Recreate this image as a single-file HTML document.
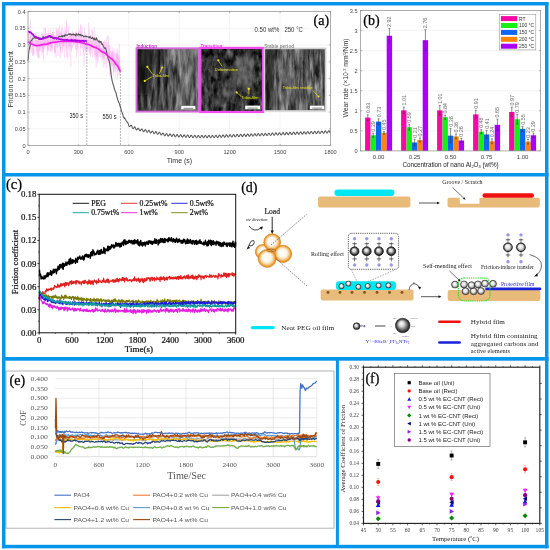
<!DOCTYPE html>
<html><head><meta charset="utf-8"><title>Figure</title>
<style>html,body{margin:0;padding:0;background:#fff;width:550px;height:550px;overflow:hidden}svg{display:block}</style>
</head><body>
<svg width="550" height="550" viewBox="0 0 550 550">
<rect x="0" y="0" width="550" height="550" fill="#fff"/>
<line x1="78.42" y1="11.5" x2="78.42" y2="145.6" stroke="#efefef" stroke-width="0.6" />
<line x1="128.83" y1="11.5" x2="128.83" y2="145.6" stroke="#efefef" stroke-width="0.6" />
<line x1="179.25" y1="11.5" x2="179.25" y2="145.6" stroke="#efefef" stroke-width="0.6" />
<line x1="229.67" y1="11.5" x2="229.67" y2="145.6" stroke="#efefef" stroke-width="0.6" />
<line x1="280.08" y1="11.5" x2="280.08" y2="145.6" stroke="#efefef" stroke-width="0.6" />
<line x1="28" y1="128.84" x2="330.5" y2="128.84" stroke="#efefef" stroke-width="0.6" />
<line x1="28" y1="112.07" x2="330.5" y2="112.07" stroke="#efefef" stroke-width="0.6" />
<line x1="28" y1="95.31" x2="330.5" y2="95.31" stroke="#efefef" stroke-width="0.6" />
<line x1="28" y1="78.55" x2="330.5" y2="78.55" stroke="#efefef" stroke-width="0.6" />
<line x1="28" y1="61.79" x2="330.5" y2="61.79" stroke="#efefef" stroke-width="0.6" />
<line x1="28" y1="45.02" x2="330.5" y2="45.02" stroke="#efefef" stroke-width="0.6" />
<line x1="28" y1="28.26" x2="330.5" y2="28.26" stroke="#efefef" stroke-width="0.6" />
<polyline points="28,35.51 28.1,27.61 28.2,41.72 28.3,38.99 28.4,44.28 28.5,38.9 28.61,39.27 28.71,43.3 28.81,33.69 28.91,43.26 29.01,30.13 29.11,37.75 29.21,37.48 29.31,37.88 29.41,48.35 29.51,45.34 29.61,39.6 29.71,40.77 29.81,46.07 29.92,39.54 30.02,44.92 30.12,32.25 30.22,48.18 30.32,45.19 30.42,45.91 30.52,19.88 30.62,42.14 30.72,45.62 30.82,51.47 30.92,50.92 31.02,45.96 31.13,34.49 31.23,53.13 31.33,39.7 31.43,43.73 31.53,44.44 31.63,32.15 31.73,43.21 31.83,43.37 31.93,43.86 32.03,41.35 32.13,41.52 32.23,42.8 32.34,37.24 32.44,55.93 32.54,40.72 32.64,39.99 32.74,46.53 32.84,32.38 32.94,52.66 33.04,42.7 33.14,39.08 33.24,43.29 33.34,42.77 33.45,56.22 33.55,49.08 33.65,49.74 33.75,54.41 33.85,41.33 33.95,54.95 34.05,45.73 34.15,42.05 34.25,36.92 34.35,42.11 34.45,43.64 34.55,43.76 34.66,45.45 34.76,42.9 34.86,41.33 34.96,40.46 35.06,36.05 35.16,36.3 35.26,46.47 35.36,43.63 35.46,45.12 35.56,33.5 35.66,31.54 35.76,46.33 35.87,37.36 35.97,43.09 36.07,45.76 36.17,48.49 36.27,43.36 36.37,51.31 36.47,42.59 36.57,34.08 36.67,40.7 36.77,54.2 36.87,49.62 36.97,45.42 37.08,45.83 37.18,39.94 37.28,56.94 37.38,39.89 37.48,46.9 37.58,41.21 37.68,41.96 37.78,36.55 37.88,52.41 37.98,43.11 38.08,56.81 38.18,54.72 38.29,47.66 38.39,43.62 38.49,39.32 38.59,58.52 38.69,35.41 38.79,47.04 38.89,36.83 38.99,33.95 39.09,36.6 39.19,58.13 39.29,46.83 39.39,45.65 39.5,48.02 39.6,49.52 39.7,36.49 39.8,51.54 39.9,44.96 40,39.73 40.1,46.43 40.2,42.29 40.3,51.03 40.4,41.77 40.5,37.86 40.6,47.01 40.7,37.57 40.81,42.92 40.91,41.6 41.01,46.94 41.11,48.33 41.21,45.32 41.31,42.96 41.41,46.16 41.51,45.15 41.61,33.82 41.71,42.67 41.81,56 41.91,50.25 42.02,43.64 42.12,49.74 42.22,44.71 42.32,33.63 42.42,52.86 42.52,33.09 42.62,47.1 42.72,45.34 42.82,42.47 42.92,52.43 43.02,51.95 43.12,44.98 43.23,51.38 43.33,39.25 43.43,43.98 43.53,60.37 43.63,41.76 43.73,49.36 43.83,40.25 43.93,46.91 44.03,27.34 44.13,44.09 44.23,42.67 44.33,45.13 44.44,43.21 44.54,40.4 44.64,43.5 44.74,41.46 44.84,47.46 44.94,34.05 45.04,48.55 45.14,36.49 45.24,46.56 45.34,27.48 45.44,39.85 45.54,28.68 45.65,45.94 45.75,40.38 45.85,44.51 45.95,46.67 46.05,36.68 46.15,37.99 46.25,37.71 46.35,40.91 46.45,41.17 46.55,45.96 46.65,33.62 46.75,40.35 46.86,33.64 46.96,33.38 47.06,41.68 47.16,55.69 47.26,38.53 47.36,48.56 47.46,39.71 47.56,51.13 47.66,42.78 47.76,37.97 47.86,50.11 47.96,43.42 48.07,40.73 48.17,42.74 48.27,46.61 48.37,30.32 48.47,51.85 48.57,41.91 48.67,37.37 48.77,46.28 48.87,40.56 48.97,46.1 49.07,43.23 49.17,42.12 49.28,41.72 49.38,45.71 49.48,41.93 49.58,42.25 49.68,39.34 49.78,32.64 49.88,41.06 49.98,51.05 50.08,43.41 50.18,37.55 50.28,45.52 50.38,36.19 50.49,34.18 50.59,29.87 50.69,51.85 50.79,40.29 50.89,44.34 50.99,36.19 51.09,50.27 51.19,34.63 51.29,46.74 51.39,38.34 51.49,40.71 51.59,34.17 51.7,47.52 51.8,44.03 51.9,52.6 52,41.27 52.1,47.92 52.2,32.64 52.3,37.38 52.4,42.83 52.5,31.93 52.6,34.51 52.7,42.08 52.8,44.99 52.91,49.94 53.01,38.18 53.11,39.51 53.21,43.48 53.31,27.78 53.41,42.89 53.51,32.53 53.61,42.72 53.71,34.32 53.81,32.09 53.91,32.77 54.01,39.96 54.12,41.35 54.22,34.82 54.32,42.15 54.42,37.21 54.52,42.21 54.62,54.8 54.72,42.99 54.82,52.74 54.92,41.5 55.02,35.57 55.12,48.32 55.22,52.65 55.33,40.48 55.43,43.55 55.53,36.65 55.63,40.67 55.73,51.64 55.83,43.56 55.93,52.66 56.03,57.04 56.13,27.67 56.23,44.79 56.33,36.87 56.43,36.14 56.54,44.66 56.64,41.29 56.74,33.82 56.84,29.2 56.94,43.79 57.04,28.96 57.14,47.55 57.24,31.72 57.34,37.68 57.44,43.37 57.54,47.49 57.64,35.97 57.75,35.83 57.85,41.51 57.95,55.97 58.05,42.69 58.15,33.48 58.25,38.32 58.35,37.05 58.45,38.02 58.55,28.14 58.65,37.93 58.75,34.85 58.85,36.74 58.96,37.99 59.06,33.05 59.16,46.41 59.26,45.71 59.36,41.05 59.46,45.08 59.56,25.48 59.66,47.97 59.76,48.43 59.86,40.1 59.96,34.38 60.06,33.4 60.17,58.02 60.27,45.9 60.37,51.83 60.47,34.41 60.57,40.07 60.67,30.68 60.77,52.09 60.87,32.61 60.97,34.33 61.07,41.49 61.17,48.12 61.27,41.55 61.38,40.53 61.48,32.81 61.58,43.96 61.68,40.09 61.78,31.89 61.88,28.06 61.98,37.02 62.08,38.72 62.18,25.52 62.28,53.96 62.38,36.48 62.48,44.12 62.59,39.35 62.69,41.37 62.79,48.9 62.89,42.71 62.99,45.29 63.09,36.35 63.19,43.52 63.29,47.58 63.39,35.86 63.49,40.46 63.59,46.74 63.69,43.99 63.8,30.23 63.9,39.68 64,44.75 64.1,38.44 64.2,36.25 64.3,36.95 64.4,41.01 64.5,36.88 64.6,40.97 64.7,58.13 64.8,32.43 64.9,26.8 65.01,40.2 65.11,31.31 65.21,47.03 65.31,43.98 65.41,36.19 65.51,35.38 65.61,39.91 65.71,29.51 65.81,29.68 65.91,35.39 66.01,49.53 66.11,50.31 66.22,39.08 66.32,47.99 66.42,22.61 66.52,36.31 66.62,57.09 66.72,19.88 66.82,35.09 66.92,35.83 67.02,43.08 67.12,43.29 67.22,42.98 67.32,40.08 67.43,39.51 67.53,49.09 67.63,59.34 67.73,54.11 67.83,37.78 67.93,40.04 68.03,33.95 68.13,35.8 68.23,30.63 68.33,38.88 68.43,47.71 68.53,46.43 68.64,25.57 68.74,39.92 68.84,48.16 68.94,49.09 69.04,41.64 69.14,35.54 69.24,40.65 69.34,57.03 69.44,39.91 69.54,46.87 69.64,36.04 69.74,35.18 69.85,46.9 69.95,42 70.05,32.9 70.15,38.65 70.25,35.93 70.35,34.42 70.45,45 70.55,33.25 70.65,40.35 70.75,50.01 70.85,67.32 70.95,35.45 71.06,49.96 71.16,41.54 71.26,37.3 71.36,51.46 71.46,46.64 71.56,44.28 71.66,38.7 71.76,34.06 71.86,35.37 71.96,42.25 72.06,37.81 72.16,46.85 72.27,44.98 72.37,47.76 72.47,32.57 72.57,37.24 72.67,30.46 72.77,31.46 72.87,36.8 72.97,37.34 73.07,38.37 73.17,41.24 73.27,35.46 73.37,45.14 73.48,42.43 73.58,34.85 73.68,40.39 73.78,40.11 73.88,39.7 73.98,37.82 74.08,45.58 74.18,39.81 74.28,39.5 74.38,38.27 74.48,41.68 74.58,43.57 74.69,40.47 74.79,37.95 74.89,41.63 74.99,36.71 75.09,41.2 75.19,33.96 75.29,42.34 75.39,49.86 75.49,32.47 75.59,35.12 75.69,32.02 75.79,34.39 75.9,49.31 76,46.07 76.1,36.46 76.2,40.35 76.3,31.38 76.4,57.39 76.5,47.51 76.6,34.86 76.7,35.37 76.8,42.63 76.9,35 77,43.95 77.11,45.81 77.21,49.81 77.31,45.1 77.41,39.43 77.51,46.82 77.61,38.29 77.71,38.77 77.81,52.72 77.91,36.03 78.01,32.59 78.11,36.07 78.21,34.3 78.32,38.41 78.42,33.3 78.52,32.19 78.62,39.21 78.72,44.14 78.82,28.5 78.92,44.15 79.02,38.85 79.12,41.65 79.22,34.2 79.32,30.6 79.43,36.65 79.53,35.56 79.63,41.41 79.73,34.14 79.83,38.25 79.93,37.85 80.03,38.21 80.13,43.09 80.23,56.11 80.33,42.57 80.43,48.11 80.53,43.62 80.64,25.85 80.74,41.48 80.84,42.76 80.94,23.86 81.04,40.64 81.14,47.36 81.24,31.19 81.34,38.14 81.44,33.79 81.54,42.1 81.64,39.88 81.74,41.39 81.85,47.66 81.95,38.64 82.05,40.32 82.15,25.93 82.25,44.71 82.35,39.45 82.45,48.2 82.55,45.46 82.65,44.71 82.75,41.23 82.85,40.23 82.95,39.71 83.06,40.65 83.16,47.5 83.26,50.4 83.36,47.69 83.46,54.51 83.56,37.32 83.66,40.58 83.76,42.99 83.86,41.89 83.96,40.1 84.06,66.55 84.16,46.4 84.27,47.43 84.37,46.44 84.47,39.98 84.57,37.88 84.67,27.73 84.77,48.67 84.87,32.31 84.97,50.16 85.07,46.26 85.17,40.11 85.27,37.41 85.37,41.19 85.48,37.39 85.58,49.9 85.68,51.74 85.78,38.59 85.88,51.8 85.98,54.05 86.08,38.16 86.18,42.16 86.28,33.73 86.38,45.83 86.48,44.63 86.58,38.94 86.69,45.62 86.79,50.57 86.89,37.98 86.99,50.16 87.09,43.91 87.19,50.07 87.29,44.43 87.39,44.41 87.49,40.17 87.59,42.41 87.69,42.03 87.79,40.89 87.9,48.83 88,49.56 88.1,51.7 88.2,45.98 88.3,41.47 88.4,44.46 88.5,40.62 88.6,44.14 88.7,22.73 88.8,40.92 88.9,39.68 89,50.55 89.11,28.54 89.21,37.93 89.31,44.55 89.41,43.02 89.51,44.77 89.61,48.98 89.71,54.82 89.81,44.01 89.91,53.7 90.01,40.67 90.11,45.88 90.21,50.74 90.32,35.12 90.42,38.34 90.52,38.65 90.62,34.92 90.72,56.77 90.82,43.87 90.92,49.56 91.02,44.18 91.12,40.04 91.22,46.07 91.32,47.26 91.42,44.53 91.53,40.66 91.63,53.22 91.73,48.27 91.83,40.22 91.93,31.58 92.03,29.74 92.13,46.23 92.23,29.15 92.33,41 92.43,48.64 92.53,44.76 92.63,57.48 92.74,47.18 92.84,41.44 92.94,45.51 93.04,49.82 93.14,48.74 93.24,47.24 93.34,45.09 93.44,40.7 93.54,43.16 93.64,49.13 93.74,49.76 93.84,37.7 93.95,38.22 94.05,27.11 94.15,39.44 94.25,46.58 94.35,42.47 94.45,57.36 94.55,48.14 94.65,48.57 94.75,38.65 94.85,44.37 94.95,56.41 95.05,46.03 95.16,51.99 95.26,50.6 95.36,54.79 95.46,42.01 95.56,44.56 95.66,34.48 95.76,50.67 95.86,59.98 95.96,52.42 96.06,44.52 96.16,67.8 96.26,40.2 96.37,46.49 96.47,38.79 96.57,55.9 96.67,40.68 96.77,53.93 96.87,57.32 96.97,44.78 97.07,47.2 97.17,43.46 97.27,64.17 97.37,62.66 97.47,51.28 97.58,56.08 97.68,57.9 97.78,42.53 97.88,49.02 97.98,47.17 98.08,51.29 98.18,42.07 98.28,45.62 98.38,60.52 98.48,44.06 98.58,48.41 98.68,42.75 98.79,53.17 98.89,49.01 98.99,47.29 99.09,44.52 99.19,53.88 99.29,54.64 99.39,41.81 99.49,50.15 99.59,45.33 99.69,56.33 99.79,38.96 99.89,39.02 100,49.77 100.1,41.94 100.2,48.92 100.3,48.71 100.4,49.09 100.5,43.11 100.6,56.47 100.7,57.73 100.8,48.03 100.9,51.65 101,48.86 101.1,53.75 101.21,48.74 101.31,49.82 101.41,49.99 101.51,46.64 101.61,49 101.71,56.89 101.81,49.08 101.91,54.62 102.01,48.21 102.11,61.16 102.21,47.88 102.31,54.67 102.42,50.97 102.52,58.54 102.62,51.16 102.72,45.35 102.82,43.04 102.92,47.83 103.02,60.03 103.12,50.78 103.22,42.43 103.32,57.94 103.42,47.14 103.52,57.05 103.63,41.72 103.73,46.31 103.83,67.53 103.93,58.3 104.03,42.48 104.13,52.3 104.23,39.87 104.33,48.92 104.43,46.91 104.53,56.9 104.63,50.93 104.73,56.68 104.84,64.73 104.94,56.38 105.04,59.03 105.14,46.96 105.24,41.38 105.34,53.76 105.44,54.7 105.54,46.56 105.64,51.87 105.74,54.46 105.84,54.75 105.94,53.24 106.05,41.02 106.15,37.29 106.25,48.92 106.35,68.64 106.45,61 106.55,61.28 106.65,50.68 106.75,42.69 106.85,49.68 106.95,48.25 107.05,44.39 107.15,59.26 107.26,51.67 107.36,63.16 107.46,59.73 107.56,51.09 107.66,51.98 107.76,55.34 107.86,35.69 107.96,45.41 108.06,55.83 108.16,54.35 108.26,35.69 108.36,62.87 108.47,46.56 108.57,48.82 108.67,54.55 108.77,55.29 108.87,52.37 108.97,56.23 109.07,43.98 109.17,54.45 109.27,54.94 109.37,53.76 109.47,48.7 109.57,74 109.68,58.29 109.78,64.23 109.88,44.96 109.98,61.43 110.08,71.66 110.18,77.61 110.28,57.29 110.38,61.21 110.48,50.31 110.58,54.36 110.68,58.85 110.78,60.79 110.89,63.54 110.99,65.43 111.09,53.28 111.19,74.65 111.29,58.09 111.39,54.95 111.49,54.42 111.59,63.43 111.69,52.73 111.79,66.39 111.89,52.24 111.99,62.39 112.1,47.17 112.2,66 112.3,59.15 112.4,50.32 112.5,56.46 112.6,59.61 112.7,51.84 112.8,65.52 112.9,54.58 113,69.11 113.1,50.67 113.2,54.08 113.31,58.96 113.41,76.2 113.51,62.87 113.61,66.8 113.71,59.43 113.81,72.73 113.91,51.43 114.01,71.86 114.11,47.88 114.21,69.52 114.31,64.46 114.41,63.12 114.52,62.85 114.62,67.56 114.72,65.21 114.82,62.05 114.92,63.8 115.02,59.01 115.12,56.12 115.22,53.53 115.32,60.03 115.42,61.84 115.52,71.74 115.62,61.54 115.73,78.45 115.83,54.62 115.93,57.25 116.03,65.31 116.13,61.68 116.23,57.78 116.33,57.58 116.43,69.23 116.53,54.23 116.63,59.57 116.73,53.11 116.83,65.08 116.94,53.14 117.04,66.75 117.14,53.57 117.24,47.81 117.34,58.58 117.44,62.86 117.54,52.76 117.64,79.59 117.74,67.36 117.84,75.17 117.94,50.63 118.04,55.49 118.15,68.44 118.25,56.27 118.35,70.74 118.45,61.04 118.55,63.69 118.65,61.84 118.75,55.13 118.85,66.12 118.95,58.39 119.05,69.79 119.15,64.64 119.25,70.56 119.36,43.89 119.46,74.51 119.56,75.91 119.66,57.16 119.76,65.68 119.86,61.36 119.96,73.16 120.06,70.77 120.16,73.19 120.26,67.41 120.36,72.03" fill="none" stroke="#f9a6f0" stroke-width="0.4" stroke-linejoin="round" opacity="0.6"/>
<polyline points="28,60.73 28.42,56.78 28.84,51.89 29.26,49.06 29.68,48.07 30.1,45.55 30.52,43.05 30.94,40.75 31.36,40.61 31.78,40.46 32.2,39.18 32.62,38.96 33.04,38.05 33.46,37.96 33.88,38.17 34.3,37.98 34.72,36.36 35.14,37.82 35.56,38.1 35.98,38.31 36.4,37.73 36.82,37.76 37.24,38.05 37.66,37.96 38.08,37.85 38.5,37.69 38.92,37.54 39.34,38.04 39.76,39.09 40.18,37.88 40.6,38.98 41.02,38.38 41.44,39.06 41.86,38.26 42.28,38.57 42.7,37.98 43.12,36.33 43.55,37.9 43.97,37.32 44.39,38.28 44.81,37.63 45.23,37.01 45.65,37.26 46.07,36.91 46.49,36.92 46.91,37.38 47.33,36.5 47.75,37.11 48.17,35.7 48.59,36.96 49.01,36.44 49.43,36.87 49.85,36.5 50.27,37.39 50.69,36.71 51.11,37.41 51.53,36.85 51.95,37.3 52.37,37.68 52.79,38.26 53.21,37.6 53.63,37.86 54.05,37.36 54.47,38.45 54.89,38.04 55.31,38 55.73,38.04 56.15,37.99 56.57,37.9 56.99,38.17 57.41,38.26 57.83,37.82 58.25,37.18 58.67,36.59 59.09,36.73 59.51,36.56 59.93,36.59 60.35,36.52 60.77,36.69 61.19,36.32 61.61,35.75 62.03,36.74 62.45,36.85 62.87,35.42 63.29,36.17 63.71,35.69 64.13,35.61 64.55,36.48 64.97,34.55 65.39,34.73 65.81,35.38 66.23,34.94 66.65,35.11 67.07,35.47 67.49,34.95 67.91,34.57 68.33,34.08 68.75,34.18 69.17,34.41 69.59,33.68 70.01,34.68 70.43,33.92 70.85,33.78 71.27,34.51 71.69,35.3 72.11,34.89 72.53,34.35 72.95,34.24 73.38,33.77 73.8,35.09 74.22,34.63 74.64,34.35 75.06,34.8 75.48,35.95 75.9,34.39 76.32,33.67 76.74,34.36 77.16,35.36 77.58,35.13 78,34.84 78.42,33.72 78.84,34.7 79.26,35.01 79.68,34.36 80.1,35.26 80.52,34.36 80.94,35.74 81.36,35.73 81.78,35.23 82.2,34.98 82.62,35.48 83.04,35.76 83.46,36.93 83.88,36.48 84.3,36.53 84.72,36.58 85.14,36.1 85.56,36.64 85.98,36.14 86.4,36.56 86.82,36.81 87.24,36.65 87.66,36.57 88.08,36.45 88.5,37.23 88.92,37.23 89.34,37.92 89.76,36.57 90.18,36.79 90.6,37.76 91.02,38.06 91.44,38.59 91.86,38.03 92.28,38.16 92.7,37.3 93.12,38.4 93.54,39.03 93.96,39.98 94.38,38.14 94.8,38.83 95.22,39.8 95.64,39.03 96.06,40.11 96.48,37.77 96.9,39.21 97.32,39.76 97.74,40.42 98.16,41.69 98.58,40.95 99,41.92 99.42,41.06 99.84,42.61 100.26,42.13 100.68,41.4 101.1,41.63 101.52,43.6 101.94,44.4 102.36,43.87 102.78,44.6 103.2,46.23 103.62,46.77 104.05,47.4 104.47,48.19 104.89,48.38 105.31,47.75 105.73,48.91 106.15,49.47 106.57,52.09 106.99,53.81 107.41,55.93 107.83,57.04 108.25,58.89 108.67,60 109.09,60.32 109.51,62.14 109.93,65.14 110.35,67.93 110.77,71.65 111.19,75.22 111.61,77.6 112.03,80.13 112.45,82.2 112.87,83.52 113.29,84.8 113.71,85.8 114.13,87.61 114.55,89.72 114.97,90.24 115.39,91.87 115.81,92.49 116.23,93.34 116.65,95.8 117.07,97.99 117.49,98.28 117.91,100.58 118.33,100.97 118.75,102.56 119.17,102.98 119.59,103.94 120.01,106.48 120.43,106.42 120.85,108.63 121.27,110.28 121.69,111.72 122.11,112.62 122.53,113.91 122.95,114.96 123.37,117.14 123.79,117.04 124.21,118.45 124.63,117.93 125.05,118.31 125.47,119.8 125.89,120.14 126.31,121.02 126.73,121.5 127.15,122.16 127.49,122.33 127.83,122.82 128.16,123.64 128.5,124.66 128.83,125.66 129.17,126.27 129.51,126.56 129.84,126.46 130.18,126.08 130.51,125.59 130.85,125.23 131.19,125.21 131.52,125.59 131.86,126.32 132.19,127.22 132.53,128.05 132.87,128.58 133.2,128.69 133.54,128.39 133.88,127.83 134.21,127.24 134.55,126.89 134.88,126.95 135.22,127.41 135.56,128.17 135.89,128.99 136.23,129.65 136.56,129.95 136.9,129.84 137.24,129.41 137.57,128.85 137.91,128.39 138.24,128.23 138.58,128.46 138.92,129.02 139.25,129.74 139.59,130.41 139.93,130.81 140.26,130.82 140.6,130.46 140.93,129.87 141.27,129.29 141.61,128.94 141.94,128.97 142.28,129.4 142.61,130.11 142.95,130.87 143.29,131.46 143.62,131.69 143.96,131.51 144.29,131 144.63,130.37 144.97,129.85 145.3,129.64 145.64,129.83 145.97,130.38 146.31,131.1 146.65,131.78 146.98,132.18 147.32,132.19 147.66,131.82 147.99,131.24 148.33,130.65 148.66,130.3 149,130.33 149.34,130.76 149.67,131.47 150.01,132.24 150.34,132.83 150.68,133.07 151.02,132.9 151.35,132.41 151.69,131.79 152.03,131.29 152.36,131.11 152.7,131.32 153.03,131.89 153.37,132.62 153.71,133.29 154.04,133.67 154.38,133.65 154.71,133.25 155.05,132.63 155.39,132.01 155.72,131.63 156.06,131.63 156.39,132.03 156.73,132.71 157.07,133.45 157.4,134.02 157.74,134.24 158.07,134.06 158.41,133.56 158.75,132.94 159.08,132.44 159.42,132.26 159.76,132.49 160.09,133.07 160.43,133.83 160.76,134.54 161.1,134.96 161.44,134.98 161.77,134.63 162.11,134.04 162.44,133.45 162.78,133.1 163.12,133.11 163.45,133.53 163.79,134.22 164.12,134.96 164.46,135.53 164.8,135.74 165.13,135.54 165.47,135.02 165.81,134.38 166.14,133.85 166.48,133.63 166.81,133.82 167.15,134.36 167.49,135.06 167.82,135.7 168.16,136.07 168.49,136.04 168.83,135.63 169.17,134.99 169.5,134.35 169.84,133.95 170.18,133.93 170.51,134.3 170.85,134.96 171.18,135.67 171.52,136.21 171.86,136.4 172.19,136.19 172.53,135.65 172.86,134.99 173.2,134.46 173.54,134.24 173.87,134.43 174.21,134.97 174.54,135.69 174.88,136.35 175.22,136.73 175.55,136.71 175.89,136.31 176.22,135.68 176.56,135.05 176.9,134.64 177.23,134.62 177.57,134.99 177.91,135.63 178.24,136.34 178.58,136.86 178.91,137.03 179.25,136.8 179.59,136.23 179.92,135.55 180.26,134.98 180.59,134.74 180.93,134.9 181.27,135.42 181.6,136.12 181.94,136.75 182.28,137.11 182.61,137.07 182.95,136.65 183.28,136 183.62,135.36 183.96,134.94 184.29,134.9 184.63,135.26 184.96,135.9 185.3,136.6 185.64,137.13 185.97,137.3 186.31,137.06 186.64,136.51 186.98,135.83 187.32,135.28 187.65,135.04 187.99,135.21 188.32,135.74 188.66,136.44 189,137.08 189.33,137.44 189.67,137.41 190.01,136.99 190.34,136.35 190.68,135.7 191.01,135.29 191.35,135.25 191.69,135.61 192.02,136.25 192.36,136.95 192.69,137.47 193.03,137.63 193.37,137.39 193.7,136.83 194.04,136.15 194.38,135.59 194.71,135.35 195.05,135.51 195.38,136.02 195.72,136.72 196.06,137.35 196.39,137.69 196.73,137.64 197.06,137.21 197.4,136.55 197.74,135.89 198.07,135.46 198.41,135.4 198.74,135.75 199.08,136.37 199.42,137.06 199.75,137.56 200.09,137.72 200.43,137.47 200.76,136.89 201.1,136.2 201.43,135.63 201.77,135.38 202.11,135.53 202.44,136.04 202.78,136.72 203.11,137.35 203.45,137.69 203.79,137.64 204.12,137.21 204.46,136.55 204.79,135.89 205.13,135.46 205.47,135.4 205.8,135.75 206.14,136.37 206.47,137.06 206.81,137.56 207.15,137.72 207.48,137.47 207.82,136.89 208.16,136.2 208.49,135.63 208.83,135.38 209.16,135.53 209.5,136.04 209.84,136.72 210.17,137.35 210.51,137.69 210.84,137.64 211.18,137.21 211.52,136.55 211.85,135.89 212.19,135.46 212.53,135.4 212.86,135.75 213.2,136.37 213.53,137.04 213.87,137.54 214.21,137.69 214.54,137.42 214.88,136.84 215.21,136.14 215.55,135.56 215.89,135.29 216.22,135.43 216.56,135.93 216.89,136.6 217.23,137.21 217.57,137.54 217.9,137.47 218.24,137.02 218.57,136.35 218.91,135.67 219.25,135.22 219.58,135.15 219.92,135.48 220.26,136.09 220.59,136.76 220.93,137.25 221.26,137.38 221.6,137.11 221.94,136.52 222.27,135.82 222.61,135.23 222.94,134.96 223.28,135.09 223.62,135.59 223.95,136.25 224.29,136.86 224.62,137.19 224.96,137.12 225.3,136.68 225.63,136 225.97,135.33 226.31,134.88 226.64,134.82 226.98,135.15 227.31,135.77 227.65,136.44 227.99,136.94 228.32,137.08 228.66,136.82 228.99,136.24 229.33,135.54 229.67,134.96 230,134.7 230.34,134.85 230.68,135.35 231.01,136.02 231.35,136.63 231.68,136.97 232.02,136.91 232.36,136.46 232.69,135.79 233.03,135.12 233.36,134.67 233.7,134.61 234.04,134.94 234.37,135.55 234.71,136.22 235.04,136.71 235.38,136.85 235.72,136.58 236.05,135.99 236.39,135.28 236.72,134.69 237.06,134.42 237.4,134.56 237.73,135.05 238.07,135.72 238.41,136.32 238.74,136.65 239.08,136.58 239.41,136.13 239.75,135.46 240.09,134.78 240.42,134.33 240.76,134.26 241.09,134.59 241.43,135.2 241.77,135.87 242.1,136.36 242.44,136.5 242.78,136.24 243.11,135.65 243.45,134.95 243.78,134.36 244.12,134.1 244.46,134.24 244.79,134.74 245.13,135.41 245.46,136.03 245.8,136.37 246.14,136.31 246.47,135.87 246.81,135.2 247.14,134.53 247.48,134.09 247.82,134.03 248.15,134.37 248.49,134.98 248.82,135.65 249.16,136.15 249.5,136.29 249.83,136.03 250.17,135.44 250.51,134.74 250.84,134.15 251.18,133.88 251.51,134.02 251.85,134.51 252.19,135.18 252.52,135.79 252.86,136.12 253.19,136.05 253.53,135.6 253.87,134.92 254.2,134.25 254.54,133.8 254.88,133.73 255.21,134.06 255.55,134.66 255.88,135.33 256.22,135.82 256.56,135.96 256.89,135.69 257.23,135.1 257.56,134.39 257.9,133.8 258.24,133.54 258.57,133.68 258.91,134.17 259.24,134.84 259.58,135.45 259.92,135.78 260.25,135.72 260.59,135.27 260.93,134.6 261.26,133.93 261.6,133.49 261.93,133.42 262.27,133.76 262.61,134.38 262.94,135.05 263.28,135.55 263.61,135.7 263.95,135.44 264.29,134.86 264.62,134.16 264.96,133.58 265.29,133.31 265.63,133.46 265.97,133.95 266.3,134.63 266.64,135.24 266.98,135.57 267.31,135.5 267.65,135.06 267.98,134.38 268.32,133.71 268.66,133.26 268.99,133.19 269.33,133.52 269.66,134.13 270,134.8 270.34,135.29 270.67,135.42 271.01,135.15 271.34,134.56 271.68,133.86 272.02,133.27 272.35,133 272.69,133.13 273.02,133.62 273.36,134.29 273.7,134.9 274.03,135.23 274.37,135.16 274.71,134.71 275.04,134.04 275.38,133.36 275.71,132.91 276.05,132.85 276.39,133.18 276.72,133.79 277.06,134.46 277.39,134.96 277.73,135.1 278.07,134.84 278.4,134.25 278.74,133.55 279.07,132.97 279.41,132.71 279.75,132.86 280.08,133.36 280.42,134.03 280.76,134.65 281.09,134.99 281.43,134.93 281.76,134.49 282.1,133.81 282.44,133.14 282.77,132.7 283.11,132.64 283.44,132.97 283.78,133.58 284.12,134.25 284.45,134.74 284.79,134.88 285.12,134.61 285.46,134.03 285.8,133.32 286.13,132.73 286.47,132.46 286.81,132.6 287.14,133.09 287.48,133.76 287.81,134.36 288.15,134.69 288.49,134.62 288.82,134.17 289.16,133.5 289.49,132.82 289.83,132.37 290.17,132.3 290.5,132.63 290.84,133.24 291.18,133.91 291.51,134.4 291.85,134.54 292.18,134.27 292.52,133.68 292.86,132.98 293.19,132.39 293.53,132.12 293.86,132.27 294.2,132.76 294.54,133.43 294.87,134.05 295.21,134.38 295.54,134.32 295.88,133.88 296.22,133.21 296.55,132.54 296.89,132.1 297.23,132.04 297.56,132.38 297.9,133 298.23,133.67 298.57,134.17 298.91,134.31 299.24,134.05 299.58,133.47 299.91,132.76 300.25,132.18 300.59,131.91 300.92,132.05 301.26,132.55 301.59,133.22 301.93,133.82 302.27,134.15 302.6,134.09 302.94,133.64 303.27,132.96 303.61,132.28 303.95,131.84 304.28,131.77 304.62,132.1 304.96,132.7 305.29,133.37 305.63,133.86 305.96,134 306.3,133.73 306.64,133.14 306.97,132.43 307.31,131.84 307.64,131.57 307.98,131.71 308.32,132.2 308.65,132.87 308.99,133.48 309.32,133.81 309.66,133.74 310,133.3 310.33,132.62 310.67,131.95 311.01,131.51 311.34,131.44 311.68,131.78 312.01,132.39 312.35,133.07 312.69,133.56 313.02,133.71 313.36,133.45 313.69,132.87 314.03,132.17 314.37,131.59 314.7,131.33 315.04,131.48 315.38,131.97 315.71,132.65 316.05,133.26 316.38,133.59 316.72,133.53 317.06,133.09 317.39,132.41 317.73,131.74 318.06,131.29 318.4,131.23 318.74,131.56 319.07,132.17 319.41,132.83 319.74,133.32 320.08,133.46 320.42,133.19 320.75,132.6 321.09,131.9 321.43,131.31 321.76,131.04 322.1,131.17 322.43,131.66 322.77,132.33 323.11,132.94 323.44,133.27 323.78,133.2 324.11,132.75 324.45,132.07 324.79,131.39 325.12,130.95 325.46,130.88 325.79,131.21 326.13,131.82 326.47,132.49 326.8,132.98 327.14,133.12 327.48,132.86 327.81,132.27 328.15,131.57 328.48,130.99 328.82,130.73 329.16,130.87 329.49,131.37 329.83,132.04 330.16,132.66 330.5,133" fill="none" stroke="#585858" stroke-width="1.05" stroke-linejoin="round" />
<polyline points="28,41.67 28.84,42.14 29.68,42.85 30.52,43.55 31.36,44.02 32.2,44.22 33.04,44.51 33.88,44.86 34.72,45.21 35.56,45.5 36.4,45.7 37.24,45.61 38.08,45.5 38.92,45.36 39.76,45.2 40.6,45.03 41.44,44.85 42.28,44.69 43.12,44.55 43.97,44.44 44.81,44.35 45.65,44.23 46.49,44.06 47.33,43.85 48.17,43.6 49.01,43.35 49.85,43.09 50.69,42.85 51.53,42.64 52.37,42.47 53.21,42.34 54.05,42.28 54.89,42.19 55.73,42.09 56.57,41.97 57.41,41.84 58.25,41.71 59.09,41.59 59.93,41.49 60.77,41.4 61.61,41.34 62.45,41.34 63.29,41.34 64.13,41.34 64.97,41.34 65.81,41.34 66.65,41.34 67.49,41.34 68.33,41.34 69.17,41.34 70.01,41.34 70.85,41.38 71.69,41.44 72.53,41.51 73.38,41.59 74.22,41.67 75.06,41.76 75.9,41.84 76.74,41.91 77.58,41.97 78.42,42.01 79.26,42.13 80.1,42.3 80.94,42.52 81.78,42.76 82.62,43.01 83.46,43.27 84.3,43.51 85.14,43.72 85.98,43.89 86.82,44.02 87.66,44.23 88.5,44.51 89.34,44.87 90.18,45.27 91.02,45.7 91.86,46.12 92.7,46.52 93.54,46.88 94.38,47.16 95.22,47.37 96.06,47.68 96.9,48.11 97.74,48.64 98.58,49.25 99.42,49.89 100.26,50.53 101.1,51.13 101.94,51.66 102.78,52.09 103.62,52.4 104.47,52.82 105.31,53.39 106.15,54.1 106.99,54.9 107.83,55.75 108.67,56.61 109.51,57.41 110.35,58.11 111.19,58.69 112.03,59.11 112.87,59.81 113.71,60.87 114.55,62.12 115.39,63.38 116.23,64.44 117.07,65.14 117.91,66.34 118.75,68.16 119.59,69.98 120.43,71.17" fill="none" stroke="#f21fe6" stroke-width="1.7" stroke-linejoin="round" />
<polyline points="28,31.59 28.84,31.48 29.68,32.34 30.52,32.02 31.36,33 32.2,33.98 33.04,34.51 33.88,35.96 34.72,36.66 35.56,36.72 36.4,37.03 37.24,37.83 38.08,38.15 38.92,38.98 39.76,39.09 40.6,38.99 41.44,39.05 42.28,38.89 43.12,38.71 43.97,38.17 44.81,38.03 45.65,37.84 46.49,37.38 47.33,37.34 48.17,36.58 49.01,36.14 49.85,35.77 50.69,36.44 51.53,36.67 52.37,37.52 53.21,37.53 54.05,38.34 54.89,38.37 55.73,37.83 56.57,38.91 57.41,38.34 58.25,38.73 59.09,39.17 59.93,39.21 60.77,39.38 61.61,39.38 62.45,39.74 63.29,39.87 64.13,39.91 64.97,40.05 65.81,39.84 66.65,40.08 67.49,39.62 68.33,40.45 69.17,40.27 70.01,40.25 70.85,40.6 71.69,39.59 72.53,40.81 73.38,40.32 74.22,40.47 75.06,39.97 75.9,41.03 76.74,40.28 77.58,40.82 78.42,40.71 79.26,40.89 80.1,40.59 80.94,41.14 81.78,40.93 82.62,40.87 83.46,40.51 84.3,41.71 85.14,40.76 85.98,41.02 86.82,41.47" fill="none" stroke="#b005e8" stroke-width="1.7" stroke-linejoin="round" />
<line x1="86.82" y1="41.34" x2="86.82" y2="145.6" stroke="#666" stroke-width="0.6" stroke-dasharray="1.6,1.4"/>
<line x1="120.43" y1="71.17" x2="120.43" y2="145.6" stroke="#666" stroke-width="0.6" stroke-dasharray="1.6,1.4"/>
<text x="69.5" y="117.9" font-family="'Liberation Sans', Arial, sans-serif" font-size="6.4" fill="#222" text-anchor="start" textLength="13.4" lengthAdjust="spacingAndGlyphs" >350 s</text>
<text x="102.6" y="119" font-family="'Liberation Sans', Arial, sans-serif" font-size="6.4" fill="#222" text-anchor="start" textLength="14" lengthAdjust="spacingAndGlyphs" >550 s</text>
<rect x="28" y="11.5" width="302.5" height="134.1" fill="none" stroke="#8a8a8a" stroke-width="0.7" />
<line x1="28" y1="145.6" x2="28" y2="144" stroke="#8a8a8a" stroke-width="0.6" />
<line x1="28" y1="11.5" x2="28" y2="13.1" stroke="#8a8a8a" stroke-width="0.6" />
<text x="28" y="153.9" font-family="'Liberation Sans', Arial, sans-serif" font-size="5.6" fill="#444" text-anchor="middle" >0</text>
<line x1="78.42" y1="145.6" x2="78.42" y2="144" stroke="#8a8a8a" stroke-width="0.6" />
<line x1="78.42" y1="11.5" x2="78.42" y2="13.1" stroke="#8a8a8a" stroke-width="0.6" />
<text x="78.42" y="153.9" font-family="'Liberation Sans', Arial, sans-serif" font-size="5.6" fill="#444" text-anchor="middle" >300</text>
<line x1="128.83" y1="145.6" x2="128.83" y2="144" stroke="#8a8a8a" stroke-width="0.6" />
<line x1="128.83" y1="11.5" x2="128.83" y2="13.1" stroke="#8a8a8a" stroke-width="0.6" />
<text x="128.83" y="153.9" font-family="'Liberation Sans', Arial, sans-serif" font-size="5.6" fill="#444" text-anchor="middle" >600</text>
<line x1="179.25" y1="145.6" x2="179.25" y2="144" stroke="#8a8a8a" stroke-width="0.6" />
<line x1="179.25" y1="11.5" x2="179.25" y2="13.1" stroke="#8a8a8a" stroke-width="0.6" />
<text x="179.25" y="153.9" font-family="'Liberation Sans', Arial, sans-serif" font-size="5.6" fill="#444" text-anchor="middle" >900</text>
<line x1="229.67" y1="145.6" x2="229.67" y2="144" stroke="#8a8a8a" stroke-width="0.6" />
<line x1="229.67" y1="11.5" x2="229.67" y2="13.1" stroke="#8a8a8a" stroke-width="0.6" />
<text x="229.67" y="153.9" font-family="'Liberation Sans', Arial, sans-serif" font-size="5.6" fill="#444" text-anchor="middle" >1200</text>
<line x1="280.08" y1="145.6" x2="280.08" y2="144" stroke="#8a8a8a" stroke-width="0.6" />
<line x1="280.08" y1="11.5" x2="280.08" y2="13.1" stroke="#8a8a8a" stroke-width="0.6" />
<text x="280.08" y="153.9" font-family="'Liberation Sans', Arial, sans-serif" font-size="5.6" fill="#444" text-anchor="middle" >1500</text>
<line x1="330.5" y1="145.6" x2="330.5" y2="144" stroke="#8a8a8a" stroke-width="0.6" />
<line x1="330.5" y1="11.5" x2="330.5" y2="13.1" stroke="#8a8a8a" stroke-width="0.6" />
<text x="330.5" y="153.9" font-family="'Liberation Sans', Arial, sans-serif" font-size="5.6" fill="#444" text-anchor="middle" >1800</text>
<line x1="28" y1="145.6" x2="29.6" y2="145.6" stroke="#8a8a8a" stroke-width="0.6" />
<line x1="330.5" y1="145.6" x2="328.9" y2="145.6" stroke="#8a8a8a" stroke-width="0.6" />
<text x="25.6" y="147.6" font-family="'Liberation Sans', Arial, sans-serif" font-size="5.6" fill="#444" text-anchor="end" >0</text>
<line x1="28" y1="128.84" x2="29.6" y2="128.84" stroke="#8a8a8a" stroke-width="0.6" />
<line x1="330.5" y1="128.84" x2="328.9" y2="128.84" stroke="#8a8a8a" stroke-width="0.6" />
<text x="25.6" y="130.84" font-family="'Liberation Sans', Arial, sans-serif" font-size="5.6" fill="#444" text-anchor="end" >0.05</text>
<line x1="28" y1="112.07" x2="29.6" y2="112.07" stroke="#8a8a8a" stroke-width="0.6" />
<line x1="330.5" y1="112.07" x2="328.9" y2="112.07" stroke="#8a8a8a" stroke-width="0.6" />
<text x="25.6" y="114.07" font-family="'Liberation Sans', Arial, sans-serif" font-size="5.6" fill="#444" text-anchor="end" >0.1</text>
<line x1="28" y1="95.31" x2="29.6" y2="95.31" stroke="#8a8a8a" stroke-width="0.6" />
<line x1="330.5" y1="95.31" x2="328.9" y2="95.31" stroke="#8a8a8a" stroke-width="0.6" />
<text x="25.6" y="97.31" font-family="'Liberation Sans', Arial, sans-serif" font-size="5.6" fill="#444" text-anchor="end" >0.15</text>
<line x1="28" y1="78.55" x2="29.6" y2="78.55" stroke="#8a8a8a" stroke-width="0.6" />
<line x1="330.5" y1="78.55" x2="328.9" y2="78.55" stroke="#8a8a8a" stroke-width="0.6" />
<text x="25.6" y="80.55" font-family="'Liberation Sans', Arial, sans-serif" font-size="5.6" fill="#444" text-anchor="end" >0.2</text>
<line x1="28" y1="61.79" x2="29.6" y2="61.79" stroke="#8a8a8a" stroke-width="0.6" />
<line x1="330.5" y1="61.79" x2="328.9" y2="61.79" stroke="#8a8a8a" stroke-width="0.6" />
<text x="25.6" y="63.79" font-family="'Liberation Sans', Arial, sans-serif" font-size="5.6" fill="#444" text-anchor="end" >0.25</text>
<line x1="28" y1="45.02" x2="29.6" y2="45.02" stroke="#8a8a8a" stroke-width="0.6" />
<line x1="330.5" y1="45.02" x2="328.9" y2="45.02" stroke="#8a8a8a" stroke-width="0.6" />
<text x="25.6" y="47.02" font-family="'Liberation Sans', Arial, sans-serif" font-size="5.6" fill="#444" text-anchor="end" >0.3</text>
<line x1="28" y1="28.26" x2="29.6" y2="28.26" stroke="#8a8a8a" stroke-width="0.6" />
<line x1="330.5" y1="28.26" x2="328.9" y2="28.26" stroke="#8a8a8a" stroke-width="0.6" />
<text x="25.6" y="30.26" font-family="'Liberation Sans', Arial, sans-serif" font-size="5.6" fill="#444" text-anchor="end" >0.35</text>
<line x1="28" y1="11.5" x2="29.6" y2="11.5" stroke="#8a8a8a" stroke-width="0.6" />
<line x1="330.5" y1="11.5" x2="328.9" y2="11.5" stroke="#8a8a8a" stroke-width="0.6" />
<text x="25.6" y="13.5" font-family="'Liberation Sans', Arial, sans-serif" font-size="5.6" fill="#444" text-anchor="end" >0.4</text>
<text x="179.5" y="163.4" font-family="'Liberation Sans', Arial, sans-serif" font-size="7" fill="#333" text-anchor="middle" >Time (s)</text>
<text x="12.8" y="79.4" font-family="'Liberation Sans', Arial, sans-serif" font-size="7" fill="#333" text-anchor="middle" transform="rotate(-90 12.8 79.4)" >Friction coefficient</text>
<filter id="blur2" x="-50%" y="-50%" width="200%" height="200%"><feGaussianBlur stdDeviation="2.5"/></filter>
<filter id="semf101" x="0" y="0" width="100%" height="100%" filterUnits="objectBoundingBox" color-interpolation-filters="sRGB"><feTurbulence type="fractalNoise" baseFrequency="0.28 0.045" numOctaves="4" seed="101" result="n0"/><feGaussianBlur in="n0" stdDeviation="0.6" result="n"/><feColorMatrix in="n" type="matrix" values="0.34 0.33 0.33 0 0 0.34 0.33 0.33 0 0 0.34 0.33 0.33 0 0 0 0 0 0 1" result="g"/><feComponentTransfer in="g"><feFuncR type="linear" slope="1.5" intercept="-0.43"/><feFuncG type="linear" slope="1.5" intercept="-0.43"/><feFuncB type="linear" slope="1.5" intercept="-0.43"/><feFuncA type="linear" slope="0" intercept="1"/></feComponentTransfer></filter>
<clipPath id="semc101"><rect x="136.5" y="48.3" width="62.3" height="63.3"/></clipPath>
<rect x="136.5" y="48.3" width="62.3" height="63.3" filter="url(#semf101)"/>
<g clip-path="url(#semc101)"><g filter="url(#blur2)"><rect x="133" y="45" width="18" height="50" fill="#0c0c0c" opacity="0.75"/><rect x="133" y="95" width="12" height="20" fill="#0c0c0c" opacity="0.4"/><rect x="152" y="45" width="12" height="22" fill="#101010" opacity="0.55"/><rect x="158" y="70" width="8" height="45" fill="#202020" opacity="0.3"/><rect x="176" y="45" width="24" height="70" fill="#d0d0d0" opacity="0.18"/></g></g>
<rect x="136.5" y="48.3" width="62.3" height="63.3" fill="none" stroke="#d46ad4" stroke-width="1.9" />
<filter id="semf102" x="0" y="0" width="100%" height="100%" filterUnits="objectBoundingBox" color-interpolation-filters="sRGB"><feTurbulence type="fractalNoise" baseFrequency="0.22 0.12" numOctaves="4" seed="102" result="n0"/><feGaussianBlur in="n0" stdDeviation="0.6" result="n"/><feColorMatrix in="n" type="matrix" values="0.34 0.33 0.33 0 0 0.34 0.33 0.33 0 0 0.34 0.33 0.33 0 0 0 0 0 0 1" result="g"/><feComponentTransfer in="g"><feFuncR type="linear" slope="1.1" intercept="-0.36"/><feFuncG type="linear" slope="1.1" intercept="-0.36"/><feFuncB type="linear" slope="1.1" intercept="-0.36"/><feFuncA type="linear" slope="0" intercept="1"/></feComponentTransfer></filter>
<clipPath id="semc102"><rect x="200.3" y="47.9" width="62.8" height="64.1"/></clipPath>
<rect x="200.3" y="47.9" width="62.8" height="64.1" filter="url(#semf102)"/>
<g clip-path="url(#semc102)"><g filter="url(#blur2)"><ellipse cx="244" cy="72" rx="10" ry="18" fill="#8a8a8a" opacity="0.5"/><ellipse cx="228" cy="90" rx="7" ry="9" fill="#808080" opacity="0.35"/><ellipse cx="215" cy="100" rx="8" ry="6" fill="#707070" opacity="0.25"/></g></g>
<rect x="200.3" y="47.9" width="62.8" height="64.1" fill="none" stroke="#f24cf0" stroke-width="2.2" />
<filter id="semf103" x="0" y="0" width="100%" height="100%" filterUnits="objectBoundingBox" color-interpolation-filters="sRGB"><feTurbulence type="fractalNoise" baseFrequency="0.3 0.05" numOctaves="4" seed="103" result="n0"/><feGaussianBlur in="n0" stdDeviation="0.6" result="n"/><feColorMatrix in="n" type="matrix" values="0.34 0.33 0.33 0 0 0.34 0.33 0.33 0 0 0.34 0.33 0.33 0 0 0 0 0 0 1" result="g"/><feComponentTransfer in="g"><feFuncR type="linear" slope="1.5" intercept="-0.41"/><feFuncG type="linear" slope="1.5" intercept="-0.41"/><feFuncB type="linear" slope="1.5" intercept="-0.41"/><feFuncA type="linear" slope="0" intercept="1"/></feComponentTransfer></filter>
<clipPath id="semc103"><rect x="264.4" y="48.4" width="61.2" height="62.5"/></clipPath>
<rect x="264.4" y="48.4" width="61.2" height="62.5" filter="url(#semf103)"/>
<g clip-path="url(#semc103)"><g filter="url(#blur2)"><rect x="262" y="45" width="14" height="70" fill="#0e0e0e" opacity="0.45"/><rect x="290" y="45" width="12" height="70" fill="#b0b0b0" opacity="0.2" transform="skewX(-8)"/></g></g>
<rect x="264.4" y="48.4" width="61.2" height="62.5" fill="none" stroke="#cfcfcf" stroke-width="1.6" />
<text x="136.5" y="47.5" font-family="'Liberation Sans', Arial, sans-serif" font-size="5.4" fill="#b82cc0" text-anchor="start" textLength="20.5" lengthAdjust="spacingAndGlyphs" font-weight="bold">Induction</text>
<text x="200.4" y="47.5" font-family="'Liberation Sans', Arial, sans-serif" font-size="5.4" fill="#f040e8" text-anchor="start" textLength="22" lengthAdjust="spacingAndGlyphs" font-weight="bold">Transition</text>
<text x="264.2" y="47.5" font-family="'Liberation Sans', Arial, sans-serif" font-size="5.4" fill="#8c8c8c" text-anchor="start" textLength="30" lengthAdjust="spacingAndGlyphs" font-weight="bold">Stable period</text>
<text x="152.4" y="77.4" font-family="'Liberation Sans', Arial, sans-serif" font-size="4.3" fill="#ece41c" text-anchor="start" textLength="16.5" lengthAdjust="spacingAndGlyphs" >Tribo-film</text>
<text x="215.1" y="71.1" font-family="'Liberation Sans', Arial, sans-serif" font-size="4.3" fill="#ece41c" text-anchor="start" textLength="22.9" lengthAdjust="spacingAndGlyphs" >Delamination</text>
<text x="241.2" y="98.8" font-family="'Liberation Sans', Arial, sans-serif" font-size="4.3" fill="#ece41c" text-anchor="start" textLength="17.2" lengthAdjust="spacingAndGlyphs" >Tribo-film</text>
<text x="282.8" y="89.4" font-family="'Liberation Sans', Arial, sans-serif" font-size="4.3" fill="#ece41c" text-anchor="start" textLength="29.8" lengthAdjust="spacingAndGlyphs" >Tribo-film residue</text>
<line x1="152.5" y1="74.2" x2="147.3" y2="66.9" stroke="#ece41c" stroke-width="0.7" />
<circle cx="147.3" cy="66.9" r="1.1" fill="#ece41c" stroke="none" stroke-width="1" />
<line x1="159" y1="74.2" x2="162.2" y2="67.5" stroke="#ece41c" stroke-width="0.7" />
<circle cx="162.2" cy="67.5" r="1.1" fill="#ece41c" stroke="none" stroke-width="1" />
<line x1="152.5" y1="76.5" x2="144.7" y2="80.9" stroke="#ece41c" stroke-width="0.7" />
<circle cx="144.7" cy="80.9" r="1.1" fill="#ece41c" stroke="none" stroke-width="1" />
<line x1="222" y1="66.5" x2="218.3" y2="60.3" stroke="#ece41c" stroke-width="0.7" />
<circle cx="218.3" cy="60.3" r="1.1" fill="#ece41c" stroke="none" stroke-width="1" />
<line x1="241" y1="96.3" x2="236.7" y2="92.4" stroke="#ece41c" stroke-width="0.7" />
<circle cx="236.7" cy="92.4" r="1.1" fill="#ece41c" stroke="none" stroke-width="1" />
<line x1="249" y1="94.5" x2="248.8" y2="88.8" stroke="#ece41c" stroke-width="0.7" />
<circle cx="248.8" cy="88.8" r="1.1" fill="#ece41c" stroke="none" stroke-width="1" />
<line x1="313" y1="90.5" x2="318.5" y2="96.5" stroke="#ece41c" stroke-width="0.7" />
<circle cx="318.5" cy="96.5" r="1.1" fill="#ece41c" stroke="none" stroke-width="1" />
<rect x="181" y="105.7" width="14.6" height="3.9" fill="#fff" stroke="#333" stroke-width="0.3" />
<line x1="183.5" y1="108.3" x2="193.1" y2="108.3" stroke="#000" stroke-width="0.5" />
<rect x="245" y="105.5" width="15.3" height="3.9" fill="#fff" stroke="#333" stroke-width="0.3" />
<line x1="247.5" y1="108.1" x2="257.8" y2="108.1" stroke="#000" stroke-width="0.5" />
<rect x="309.8" y="105.5" width="14.8" height="3.9" fill="#fff" stroke="#333" stroke-width="0.3" />
<line x1="312.3" y1="108.1" x2="322.1" y2="108.1" stroke="#000" stroke-width="0.5" />
<text x="254.6" y="31.6" font-family="'Liberation Sans', Arial, sans-serif" font-size="7" fill="#333" text-anchor="start" textLength="48.3" lengthAdjust="spacingAndGlyphs" >0.50 wt%&#160;&#160;&#160;250 °C</text>
<rect x="311" y="13" width="19" height="16" fill="#fff" stroke="none" stroke-width="1" />
<text x="313.5" y="24.8" font-family="'Liberation Serif', 'Times New Roman', serif" font-size="14" fill="#000" text-anchor="start" stroke="#000" stroke-width="0.25">(a)</text>
<line x1="360.6" y1="130.84" x2="540.6" y2="130.84" stroke="#ededed" stroke-width="0.6" />
<line x1="360.6" y1="110.79" x2="540.6" y2="110.79" stroke="#ededed" stroke-width="0.6" />
<line x1="360.6" y1="90.73" x2="540.6" y2="90.73" stroke="#ededed" stroke-width="0.6" />
<line x1="360.6" y1="70.67" x2="540.6" y2="70.67" stroke="#ededed" stroke-width="0.6" />
<line x1="360.6" y1="50.61" x2="540.6" y2="50.61" stroke="#ededed" stroke-width="0.6" />
<line x1="360.6" y1="30.56" x2="540.6" y2="30.56" stroke="#ededed" stroke-width="0.6" />
<rect x="365.1" y="117.61" width="5.4" height="33.29" fill="#fa08a6" stroke="none" stroke-width="1" />
<rect x="370.5" y="135.26" width="5.4" height="15.64" fill="#16f016" stroke="none" stroke-width="1" />
<rect x="375.9" y="121.62" width="5.4" height="29.28" fill="#0c66f6" stroke="none" stroke-width="1" />
<rect x="381.3" y="132.85" width="5.4" height="18.05" fill="#ff8404" stroke="none" stroke-width="1" />
<rect x="386.7" y="35.77" width="5.4" height="115.13" fill="#aa00fa" stroke="none" stroke-width="1" />
<line x1="367.8" y1="120.41" x2="367.8" y2="114.8" stroke="#333" stroke-width="0.55" />
<line x1="366.8" y1="114.8" x2="368.8" y2="114.8" stroke="#333" stroke-width="0.55" />
<line x1="366.8" y1="120.41" x2="368.8" y2="120.41" stroke="#333" stroke-width="0.55" />
<text x="369.75" y="113.2" font-family="'Liberation Sans', Arial, sans-serif" font-size="5.4" fill="#707070" text-anchor="start" transform="rotate(-90 369.75 113.2)" >0.83</text>
<line x1="373.2" y1="137.26" x2="373.2" y2="133.25" stroke="#333" stroke-width="0.55" />
<line x1="372.2" y1="133.25" x2="374.2" y2="133.25" stroke="#333" stroke-width="0.55" />
<line x1="372.2" y1="137.26" x2="374.2" y2="137.26" stroke="#333" stroke-width="0.55" />
<text x="375.15" y="131.65" font-family="'Liberation Sans', Arial, sans-serif" font-size="5.4" fill="#707070" text-anchor="start" transform="rotate(-90 375.15 131.65)" >0.39</text>
<line x1="378.6" y1="124.42" x2="378.6" y2="118.81" stroke="#333" stroke-width="0.55" />
<line x1="377.6" y1="118.81" x2="379.6" y2="118.81" stroke="#333" stroke-width="0.55" />
<line x1="377.6" y1="124.42" x2="379.6" y2="124.42" stroke="#333" stroke-width="0.55" />
<text x="380.55" y="117.21" font-family="'Liberation Sans', Arial, sans-serif" font-size="5.4" fill="#707070" text-anchor="start" transform="rotate(-90 380.55 117.21)" >0.73</text>
<line x1="384" y1="134.05" x2="384" y2="131.65" stroke="#333" stroke-width="0.55" />
<line x1="383" y1="131.65" x2="385" y2="131.65" stroke="#333" stroke-width="0.55" />
<line x1="383" y1="134.05" x2="385" y2="134.05" stroke="#333" stroke-width="0.55" />
<text x="385.95" y="130.05" font-family="'Liberation Sans', Arial, sans-serif" font-size="5.4" fill="#707070" text-anchor="start" transform="rotate(-90 385.95 130.05)" >0.45</text>
<line x1="389.4" y1="42.99" x2="389.4" y2="28.55" stroke="#333" stroke-width="0.55" />
<line x1="388.4" y1="28.55" x2="390.4" y2="28.55" stroke="#333" stroke-width="0.55" />
<line x1="388.4" y1="42.99" x2="390.4" y2="42.99" stroke="#333" stroke-width="0.55" />
<text x="391.35" y="26.95" font-family="'Liberation Sans', Arial, sans-serif" font-size="5.4" fill="#707070" text-anchor="start" transform="rotate(-90 391.35 26.95)" >2.92</text>
<text x="378.6" y="159.4" font-family="'Liberation Sans', Arial, sans-serif" font-size="6" fill="#444" text-anchor="middle" >0.00</text>
<rect x="401.1" y="110.38" width="5.4" height="40.52" fill="#fa08a6" stroke="none" stroke-width="1" />
<rect x="406.5" y="127.23" width="5.4" height="23.67" fill="#16f016" stroke="none" stroke-width="1" />
<rect x="411.9" y="142.48" width="5.4" height="8.42" fill="#0c66f6" stroke="none" stroke-width="1" />
<rect x="417.3" y="140.07" width="5.4" height="10.83" fill="#ff8404" stroke="none" stroke-width="1" />
<rect x="422.7" y="40.18" width="5.4" height="110.72" fill="#aa00fa" stroke="none" stroke-width="1" />
<line x1="403.8" y1="113.59" x2="403.8" y2="107.18" stroke="#333" stroke-width="0.55" />
<line x1="402.8" y1="107.18" x2="404.8" y2="107.18" stroke="#333" stroke-width="0.55" />
<line x1="402.8" y1="113.59" x2="404.8" y2="113.59" stroke="#333" stroke-width="0.55" />
<text x="405.75" y="105.58" font-family="'Liberation Sans', Arial, sans-serif" font-size="5.4" fill="#707070" text-anchor="start" transform="rotate(-90 405.75 105.58)" >1.01</text>
<line x1="409.2" y1="130.04" x2="409.2" y2="124.42" stroke="#333" stroke-width="0.55" />
<line x1="408.2" y1="124.42" x2="410.2" y2="124.42" stroke="#333" stroke-width="0.55" />
<line x1="408.2" y1="130.04" x2="410.2" y2="130.04" stroke="#333" stroke-width="0.55" />
<text x="411.15" y="122.82" font-family="'Liberation Sans', Arial, sans-serif" font-size="5.4" fill="#707070" text-anchor="start" transform="rotate(-90 411.15 122.82)" >0.59</text>
<line x1="414.6" y1="145.69" x2="414.6" y2="139.27" stroke="#333" stroke-width="0.55" />
<line x1="413.6" y1="139.27" x2="415.6" y2="139.27" stroke="#333" stroke-width="0.55" />
<line x1="413.6" y1="145.69" x2="415.6" y2="145.69" stroke="#333" stroke-width="0.55" />
<text x="416.55" y="137.67" font-family="'Liberation Sans', Arial, sans-serif" font-size="5.4" fill="#707070" text-anchor="start" transform="rotate(-90 416.55 137.67)" >0.21</text>
<line x1="420" y1="142.07" x2="420" y2="138.06" stroke="#333" stroke-width="0.55" />
<line x1="419" y1="138.06" x2="421" y2="138.06" stroke="#333" stroke-width="0.55" />
<line x1="419" y1="142.07" x2="421" y2="142.07" stroke="#333" stroke-width="0.55" />
<text x="421.95" y="136.46" font-family="'Liberation Sans', Arial, sans-serif" font-size="5.4" fill="#707070" text-anchor="start" transform="rotate(-90 421.95 136.46)" >0.27</text>
<line x1="425.4" y1="50.61" x2="425.4" y2="29.75" stroke="#333" stroke-width="0.55" />
<line x1="424.4" y1="29.75" x2="426.4" y2="29.75" stroke="#333" stroke-width="0.55" />
<line x1="424.4" y1="50.61" x2="426.4" y2="50.61" stroke="#333" stroke-width="0.55" />
<text x="427.35" y="28.15" font-family="'Liberation Sans', Arial, sans-serif" font-size="5.4" fill="#707070" text-anchor="start" transform="rotate(-90 427.35 28.15)" >2.76</text>
<text x="414.6" y="159.4" font-family="'Liberation Sans', Arial, sans-serif" font-size="6" fill="#444" text-anchor="middle" >0.25</text>
<rect x="437.1" y="110.38" width="5.4" height="40.52" fill="#fa08a6" stroke="none" stroke-width="1" />
<rect x="442.5" y="117.2" width="5.4" height="33.7" fill="#16f016" stroke="none" stroke-width="1" />
<rect x="447.9" y="135.66" width="5.4" height="15.24" fill="#0c66f6" stroke="none" stroke-width="1" />
<rect x="453.3" y="136.46" width="5.4" height="14.44" fill="#ff8404" stroke="none" stroke-width="1" />
<rect x="458.7" y="140.47" width="5.4" height="10.43" fill="#aa00fa" stroke="none" stroke-width="1" />
<line x1="439.8" y1="115.2" x2="439.8" y2="105.57" stroke="#333" stroke-width="0.55" />
<line x1="438.8" y1="105.57" x2="440.8" y2="105.57" stroke="#333" stroke-width="0.55" />
<line x1="438.8" y1="115.2" x2="440.8" y2="115.2" stroke="#333" stroke-width="0.55" />
<text x="441.75" y="103.97" font-family="'Liberation Sans', Arial, sans-serif" font-size="5.4" fill="#707070" text-anchor="start" transform="rotate(-90 441.75 103.97)" >1.01</text>
<line x1="445.2" y1="119.21" x2="445.2" y2="115.2" stroke="#333" stroke-width="0.55" />
<line x1="444.2" y1="115.2" x2="446.2" y2="115.2" stroke="#333" stroke-width="0.55" />
<line x1="444.2" y1="119.21" x2="446.2" y2="119.21" stroke="#333" stroke-width="0.55" />
<text x="447.15" y="113.6" font-family="'Liberation Sans', Arial, sans-serif" font-size="5.4" fill="#707070" text-anchor="start" transform="rotate(-90 447.15 113.6)" >0.84</text>
<line x1="450.6" y1="142.88" x2="450.6" y2="128.44" stroke="#333" stroke-width="0.55" />
<line x1="449.6" y1="128.44" x2="451.6" y2="128.44" stroke="#333" stroke-width="0.55" />
<line x1="449.6" y1="142.88" x2="451.6" y2="142.88" stroke="#333" stroke-width="0.55" />
<text x="452.55" y="126.84" font-family="'Liberation Sans', Arial, sans-serif" font-size="5.4" fill="#707070" text-anchor="start" transform="rotate(-90 452.55 126.84)" >0.38</text>
<line x1="456" y1="138.87" x2="456" y2="134.05" stroke="#333" stroke-width="0.55" />
<line x1="455" y1="134.05" x2="457" y2="134.05" stroke="#333" stroke-width="0.55" />
<line x1="455" y1="138.87" x2="457" y2="138.87" stroke="#333" stroke-width="0.55" />
<text x="457.95" y="132.45" font-family="'Liberation Sans', Arial, sans-serif" font-size="5.4" fill="#707070" text-anchor="start" transform="rotate(-90 457.95 132.45)" >0.36</text>
<line x1="461.4" y1="142.48" x2="461.4" y2="138.46" stroke="#333" stroke-width="0.55" />
<line x1="460.4" y1="138.46" x2="462.4" y2="138.46" stroke="#333" stroke-width="0.55" />
<line x1="460.4" y1="142.48" x2="462.4" y2="142.48" stroke="#333" stroke-width="0.55" />
<text x="463.35" y="136.86" font-family="'Liberation Sans', Arial, sans-serif" font-size="5.4" fill="#707070" text-anchor="start" transform="rotate(-90 463.35 136.86)" >0.26</text>
<text x="450.6" y="159.4" font-family="'Liberation Sans', Arial, sans-serif" font-size="6" fill="#444" text-anchor="middle" >0.50</text>
<rect x="473.1" y="114.4" width="5.4" height="36.5" fill="#fa08a6" stroke="none" stroke-width="1" />
<rect x="478.5" y="131.65" width="5.4" height="19.25" fill="#16f016" stroke="none" stroke-width="1" />
<rect x="483.9" y="134.45" width="5.4" height="16.45" fill="#0c66f6" stroke="none" stroke-width="1" />
<rect x="489.3" y="141.27" width="5.4" height="9.63" fill="#ff8404" stroke="none" stroke-width="1" />
<rect x="494.7" y="124.83" width="5.4" height="26.07" fill="#aa00fa" stroke="none" stroke-width="1" />
<line x1="475.8" y1="118.41" x2="475.8" y2="110.38" stroke="#333" stroke-width="0.55" />
<line x1="474.8" y1="110.38" x2="476.8" y2="110.38" stroke="#333" stroke-width="0.55" />
<line x1="474.8" y1="118.41" x2="476.8" y2="118.41" stroke="#333" stroke-width="0.55" />
<text x="477.75" y="108.78" font-family="'Liberation Sans', Arial, sans-serif" font-size="5.4" fill="#707070" text-anchor="start" transform="rotate(-90 477.75 108.78)" >0.91</text>
<line x1="481.2" y1="133.65" x2="481.2" y2="129.64" stroke="#333" stroke-width="0.55" />
<line x1="480.2" y1="129.64" x2="482.2" y2="129.64" stroke="#333" stroke-width="0.55" />
<line x1="480.2" y1="133.65" x2="482.2" y2="133.65" stroke="#333" stroke-width="0.55" />
<text x="483.15" y="128.04" font-family="'Liberation Sans', Arial, sans-serif" font-size="5.4" fill="#707070" text-anchor="start" transform="rotate(-90 483.15 128.04)" >0.48</text>
<line x1="486.6" y1="138.46" x2="486.6" y2="130.44" stroke="#333" stroke-width="0.55" />
<line x1="485.6" y1="130.44" x2="487.6" y2="130.44" stroke="#333" stroke-width="0.55" />
<line x1="485.6" y1="138.46" x2="487.6" y2="138.46" stroke="#333" stroke-width="0.55" />
<text x="488.55" y="128.84" font-family="'Liberation Sans', Arial, sans-serif" font-size="5.4" fill="#707070" text-anchor="start" transform="rotate(-90 488.55 128.84)" >0.41</text>
<line x1="492" y1="143.68" x2="492" y2="138.87" stroke="#333" stroke-width="0.55" />
<line x1="491" y1="138.87" x2="493" y2="138.87" stroke="#333" stroke-width="0.55" />
<line x1="491" y1="143.68" x2="493" y2="143.68" stroke="#333" stroke-width="0.55" />
<text x="493.95" y="137.27" font-family="'Liberation Sans', Arial, sans-serif" font-size="5.4" fill="#707070" text-anchor="start" transform="rotate(-90 493.95 137.27)" >0.24</text>
<line x1="497.4" y1="130.44" x2="497.4" y2="119.21" stroke="#333" stroke-width="0.55" />
<line x1="496.4" y1="119.21" x2="498.4" y2="119.21" stroke="#333" stroke-width="0.55" />
<line x1="496.4" y1="130.44" x2="498.4" y2="130.44" stroke="#333" stroke-width="0.55" />
<text x="499.35" y="117.61" font-family="'Liberation Sans', Arial, sans-serif" font-size="5.4" fill="#707070" text-anchor="start" transform="rotate(-90 499.35 117.61)" >0.65</text>
<text x="486.6" y="159.4" font-family="'Liberation Sans', Arial, sans-serif" font-size="6" fill="#444" text-anchor="middle" >0.75</text>
<rect x="509.1" y="111.99" width="5.4" height="38.91" fill="#fa08a6" stroke="none" stroke-width="1" />
<rect x="514.5" y="119.21" width="5.4" height="31.69" fill="#16f016" stroke="none" stroke-width="1" />
<rect x="519.9" y="128.84" width="5.4" height="22.06" fill="#0c66f6" stroke="none" stroke-width="1" />
<rect x="525.3" y="141.67" width="5.4" height="9.23" fill="#ff8404" stroke="none" stroke-width="1" />
<rect x="530.7" y="135.26" width="5.4" height="15.64" fill="#aa00fa" stroke="none" stroke-width="1" />
<line x1="511.8" y1="116.8" x2="511.8" y2="107.18" stroke="#333" stroke-width="0.55" />
<line x1="510.8" y1="107.18" x2="512.8" y2="107.18" stroke="#333" stroke-width="0.55" />
<line x1="510.8" y1="116.8" x2="512.8" y2="116.8" stroke="#333" stroke-width="0.55" />
<text x="513.75" y="105.58" font-family="'Liberation Sans', Arial, sans-serif" font-size="5.4" fill="#707070" text-anchor="start" transform="rotate(-90 513.75 105.58)" >0.97</text>
<line x1="517.2" y1="124.02" x2="517.2" y2="114.4" stroke="#333" stroke-width="0.55" />
<line x1="516.2" y1="114.4" x2="518.2" y2="114.4" stroke="#333" stroke-width="0.55" />
<line x1="516.2" y1="124.02" x2="518.2" y2="124.02" stroke="#333" stroke-width="0.55" />
<text x="519.15" y="112.8" font-family="'Liberation Sans', Arial, sans-serif" font-size="5.4" fill="#707070" text-anchor="start" transform="rotate(-90 519.15 112.8)" >0.79</text>
<line x1="522.6" y1="131.24" x2="522.6" y2="126.43" stroke="#333" stroke-width="0.55" />
<line x1="521.6" y1="126.43" x2="523.6" y2="126.43" stroke="#333" stroke-width="0.55" />
<line x1="521.6" y1="131.24" x2="523.6" y2="131.24" stroke="#333" stroke-width="0.55" />
<text x="524.55" y="124.83" font-family="'Liberation Sans', Arial, sans-serif" font-size="5.4" fill="#707070" text-anchor="start" transform="rotate(-90 524.55 124.83)" >0.55</text>
<line x1="528" y1="144.08" x2="528" y2="139.27" stroke="#333" stroke-width="0.55" />
<line x1="527" y1="139.27" x2="529" y2="139.27" stroke="#333" stroke-width="0.55" />
<line x1="527" y1="144.08" x2="529" y2="144.08" stroke="#333" stroke-width="0.55" />
<text x="529.95" y="137.67" font-family="'Liberation Sans', Arial, sans-serif" font-size="5.4" fill="#707070" text-anchor="start" transform="rotate(-90 529.95 137.67)" >0.23</text>
<line x1="533.4" y1="137.26" x2="533.4" y2="133.25" stroke="#333" stroke-width="0.55" />
<line x1="532.4" y1="133.25" x2="534.4" y2="133.25" stroke="#333" stroke-width="0.55" />
<line x1="532.4" y1="137.26" x2="534.4" y2="137.26" stroke="#333" stroke-width="0.55" />
<text x="535.35" y="131.65" font-family="'Liberation Sans', Arial, sans-serif" font-size="5.4" fill="#707070" text-anchor="start" transform="rotate(-90 535.35 131.65)" >0.39</text>
<text x="522.6" y="159.4" font-family="'Liberation Sans', Arial, sans-serif" font-size="6" fill="#444" text-anchor="middle" >1.00</text>
<rect x="360.6" y="10.5" width="180" height="140.4" fill="none" stroke="#8a8a8a" stroke-width="0.7" />
<line x1="360.6" y1="150.9" x2="362.2" y2="150.9" stroke="#8a8a8a" stroke-width="0.6" />
<line x1="540.6" y1="150.9" x2="539" y2="150.9" stroke="#8a8a8a" stroke-width="0.6" />
<text x="357.6" y="152.9" font-family="'Liberation Sans', Arial, sans-serif" font-size="5.6" fill="#444" text-anchor="end" >0</text>
<line x1="360.6" y1="130.84" x2="362.2" y2="130.84" stroke="#8a8a8a" stroke-width="0.6" />
<line x1="540.6" y1="130.84" x2="539" y2="130.84" stroke="#8a8a8a" stroke-width="0.6" />
<text x="357.6" y="132.84" font-family="'Liberation Sans', Arial, sans-serif" font-size="5.6" fill="#444" text-anchor="end" >0.5</text>
<line x1="360.6" y1="110.79" x2="362.2" y2="110.79" stroke="#8a8a8a" stroke-width="0.6" />
<line x1="540.6" y1="110.79" x2="539" y2="110.79" stroke="#8a8a8a" stroke-width="0.6" />
<text x="357.6" y="112.79" font-family="'Liberation Sans', Arial, sans-serif" font-size="5.6" fill="#444" text-anchor="end" >1</text>
<line x1="360.6" y1="90.73" x2="362.2" y2="90.73" stroke="#8a8a8a" stroke-width="0.6" />
<line x1="540.6" y1="90.73" x2="539" y2="90.73" stroke="#8a8a8a" stroke-width="0.6" />
<text x="357.6" y="92.73" font-family="'Liberation Sans', Arial, sans-serif" font-size="5.6" fill="#444" text-anchor="end" >1.5</text>
<line x1="360.6" y1="70.67" x2="362.2" y2="70.67" stroke="#8a8a8a" stroke-width="0.6" />
<line x1="540.6" y1="70.67" x2="539" y2="70.67" stroke="#8a8a8a" stroke-width="0.6" />
<text x="357.6" y="72.67" font-family="'Liberation Sans', Arial, sans-serif" font-size="5.6" fill="#444" text-anchor="end" >2</text>
<line x1="360.6" y1="50.61" x2="362.2" y2="50.61" stroke="#8a8a8a" stroke-width="0.6" />
<line x1="540.6" y1="50.61" x2="539" y2="50.61" stroke="#8a8a8a" stroke-width="0.6" />
<text x="357.6" y="52.61" font-family="'Liberation Sans', Arial, sans-serif" font-size="5.6" fill="#444" text-anchor="end" >2.5</text>
<line x1="360.6" y1="30.56" x2="362.2" y2="30.56" stroke="#8a8a8a" stroke-width="0.6" />
<line x1="540.6" y1="30.56" x2="539" y2="30.56" stroke="#8a8a8a" stroke-width="0.6" />
<text x="357.6" y="32.56" font-family="'Liberation Sans', Arial, sans-serif" font-size="5.6" fill="#444" text-anchor="end" >3</text>
<line x1="360.6" y1="10.5" x2="362.2" y2="10.5" stroke="#8a8a8a" stroke-width="0.6" />
<line x1="540.6" y1="10.5" x2="539" y2="10.5" stroke="#8a8a8a" stroke-width="0.6" />
<text x="357.6" y="12.5" font-family="'Liberation Sans', Arial, sans-serif" font-size="5.6" fill="#444" text-anchor="end" >3.5</text>
<line x1="378.6" y1="150.9" x2="378.6" y2="149.3" stroke="#8a8a8a" stroke-width="0.6" />
<line x1="414.6" y1="150.9" x2="414.6" y2="149.3" stroke="#8a8a8a" stroke-width="0.6" />
<line x1="450.6" y1="150.9" x2="450.6" y2="149.3" stroke="#8a8a8a" stroke-width="0.6" />
<line x1="486.6" y1="150.9" x2="486.6" y2="149.3" stroke="#8a8a8a" stroke-width="0.6" />
<line x1="522.6" y1="150.9" x2="522.6" y2="149.3" stroke="#8a8a8a" stroke-width="0.6" />
<text x="450.5" y="167" font-family="'Liberation Sans', Arial, sans-serif" font-size="6.3" fill="#222" text-anchor="middle" >Concentration of nano Al<tspan font-size="4" dy="1.2">2</tspan><tspan dy="-1.2">O</tspan><tspan font-size="4" dy="1.2">3</tspan><tspan dy="-1.2"> (wt%)</tspan></text>
<text x="347.9" y="78" font-family="'Liberation Sans', Arial, sans-serif" font-size="6.8" fill="#333" text-anchor="middle" transform="rotate(-90 347.9 78)" >Wear rate (×10<tspan font-size="4" dy="-2">-3</tspan><tspan dy="2"> mm</tspan><tspan font-size="4" dy="-2">3</tspan><tspan dy="2">/Nm)</tspan></text>
<rect x="499.6" y="14.6" width="36.2" height="35.3" fill="#fff" stroke="#888" stroke-width="0.5" />
<rect x="500.9" y="16.1" width="16.3" height="5" fill="#fa08a6" stroke="none" stroke-width="1" />
<text x="518.9" y="20.5" font-family="'Liberation Sans', Arial, sans-serif" font-size="5" fill="#333" text-anchor="start" >RT</text>
<rect x="500.9" y="23" width="16.3" height="5" fill="#16f016" stroke="none" stroke-width="1" />
<text x="518.9" y="27.4" font-family="'Liberation Sans', Arial, sans-serif" font-size="5" fill="#333" text-anchor="start" >100 °C</text>
<rect x="500.9" y="29.9" width="16.3" height="5" fill="#0c66f6" stroke="none" stroke-width="1" />
<text x="518.9" y="34.3" font-family="'Liberation Sans', Arial, sans-serif" font-size="5" fill="#333" text-anchor="start" >150 °C</text>
<rect x="500.9" y="36.8" width="16.3" height="5" fill="#ff8404" stroke="none" stroke-width="1" />
<text x="518.9" y="41.2" font-family="'Liberation Sans', Arial, sans-serif" font-size="5" fill="#333" text-anchor="start" >200 °C</text>
<rect x="500.9" y="43.7" width="16.3" height="5" fill="#aa00fa" stroke="none" stroke-width="1" />
<text x="518.9" y="48.1" font-family="'Liberation Sans', Arial, sans-serif" font-size="5" fill="#333" text-anchor="start" >250 °C</text>
<text x="363.3" y="24.6" font-family="'Liberation Serif', 'Times New Roman', serif" font-size="14" fill="#000" text-anchor="start" stroke="#000" stroke-width="0.25">(b)</text>
<polyline points="39.2,270.17 39.47,270.14 39.75,274.09 40.02,275.51 40.29,275.08 40.56,274.28 40.84,276.81 41.11,279 41.38,278.53 41.66,277.63 41.93,276.35 42.2,277.76 42.48,278.33 42.75,278.24 43.02,277.78 43.29,279.09 43.57,278.13 43.84,277.66 44.11,275.67 44.39,277.83 44.66,276.27 44.93,278.8 45.2,276.05 45.48,276.78 45.75,277.51 46.02,276.58 46.3,275.08 46.57,276.5 46.84,274.42 47.11,273.5 47.39,273.12 47.66,272.89 47.93,276.58 48.21,274.17 48.48,275.35 48.75,272.94 49.03,273.95 49.3,273.58 49.57,273.11 49.84,274.42 50.12,273.37 50.39,274.39 50.66,270.48 50.94,273.82 51.21,273.05 51.48,275.34 51.75,274.8 52.03,273.78 52.3,271.4 52.57,271.26 52.85,271.75 53.12,272.82 53.39,269.24 53.66,272.94 53.94,272.51 54.21,270.48 54.48,272.28 54.76,270.34 55.03,269.17 55.3,270.36 55.58,269.49 55.85,269.77 56.12,270.51 56.39,273.69 56.67,270.82 56.94,268.95 57.21,270.97 57.49,269.3 57.76,268.05 58.03,266.32 58.3,269.81 58.58,268.49 58.85,267.29 59.12,266.72 59.4,269.17 59.67,264.61 59.94,268.12 60.21,265.4 60.49,267.05 60.76,266.11 61.03,264.3 61.31,265.54 61.58,266.25 61.85,267.71 62.12,267.14 62.4,268.09 62.67,263.27 62.94,268.03 63.22,269.31 63.49,263.4 63.76,263.76 64.04,265.86 64.31,264.07 64.58,266.19 64.85,265.69 65.13,264.05 65.4,264.03 65.67,265.03 65.95,262.01 66.22,263.05 66.49,263.7 66.76,265.34 67.04,263.35 67.31,263.81 67.58,263.31 67.86,261.94 68.13,263.66 68.4,262.35 68.68,261.46 68.95,261.92 69.22,259.11 69.49,264.52 69.77,262.08 70.04,263.49 70.31,261.84 70.59,258.18 70.86,263.78 71.13,261.84 71.4,260.45 71.68,261.14 71.95,259.94 72.22,263.29 72.5,259.75 72.77,262.34 73.04,262.64 73.31,260.11 73.59,260.15 73.86,261.73 74.13,261.76 74.41,260.82 74.68,260.46 74.95,260.57 75.22,261.63 75.5,263.31 75.77,258.2 76.04,259.65 76.32,261.48 76.59,261.81 76.86,260.49 77.14,259.98 77.41,262.22 77.68,257.24 77.95,258.46 78.23,259.36 78.5,258.32 78.77,258.36 79.05,257.1 79.32,258.24 79.59,256.6 79.86,256.11 80.14,258.56 80.41,258.65 80.68,259.15 80.96,258.17 81.23,258.76 81.5,257.67 81.78,257.19 82.05,256.8 82.32,259.07 82.59,255.93 82.87,257.8 83.14,257.48 83.41,257.97 83.69,259.96 83.96,256.78 84.23,259.5 84.5,255.46 84.78,256.84 85.05,254.66 85.32,255.82 85.6,255.64 85.87,254.58 86.14,256.46 86.41,254.17 86.69,256.35 86.96,255.71 87.23,256.87 87.51,255.07 87.78,254.78 88.05,256.27 88.33,257.22 88.6,255.38 88.87,254.63 89.14,255.3 89.42,256.31 89.69,255.84 89.96,255.1 90.24,258.23 90.51,255.31 90.78,252.42 91.05,256.06 91.33,254.5 91.6,251.77 91.87,253.03 92.15,252.66 92.42,254.05 92.69,255.6 92.96,249.74 93.24,253.23 93.51,253.25 93.78,251.27 94.06,252.38 94.33,253.37 94.6,254.92 94.88,253.56 95.15,253.49 95.42,254.15 95.69,254.35 95.97,254.46 96.24,253.17 96.51,253.74 96.79,252.28 97.06,251.36 97.33,252.23 97.6,252.55 97.88,250.33 98.15,251.49 98.42,254.33 98.7,253.18 98.97,251.83 99.24,253.21 99.51,250.85 99.79,254.22 100.06,254.33 100.33,250.26 100.61,250.71 100.88,253.63 101.15,251.22 101.43,249.39 101.7,252.69 101.97,252.71 102.24,252.67 102.52,252.27 102.79,253.24 103.06,251.45 103.34,252.71 103.61,250.57 103.88,247.52 104.15,252 104.43,249.25 104.7,248.85 104.97,253.59 105.25,250.18 105.52,250.28 105.79,250.64 106.06,248.99 106.34,250.6 106.61,249.41 106.88,250.32 107.16,249.86 107.43,250.63 107.7,246.29 107.98,249.38 108.25,250.71 108.52,246.34 108.79,246.71 109.07,249.02 109.34,249.5 109.61,249.47 109.89,246.6 110.16,248.61 110.43,248.99 110.7,246.7 110.98,248.09 111.25,247.64 111.52,244.76 111.8,246.1 112.07,245.43 112.34,246.44 112.61,245.11 112.89,247 113.16,245.32 113.43,245.09 113.71,246.99 113.98,248.09 114.25,245.49 114.53,246.3 114.8,245.22 115.07,246.81 115.34,245.18 115.62,244.52 115.89,242.54 116.16,243.28 116.44,245.14 116.71,243.63 116.98,246.4 117.25,243.84 117.53,245.18 117.8,243.45 118.07,244.73 118.35,245.4 118.62,245.96 118.89,243.14 119.16,244.69 119.44,243.67 119.71,243.87 119.98,247.23 120.26,243.46 120.53,244.69 120.8,243.51 121.08,243.26 121.35,246.29 121.62,244.11 121.89,243.64 122.17,242.9 122.44,242.02 122.71,244.14 122.99,243.41 123.26,242.12 123.53,245.4 123.8,240.21 124.08,243.97 124.35,240.76 124.62,242.28 124.9,239.8 125.17,240.88 125.44,242.29 125.71,244.51 125.99,241.93 126.26,241.61 126.53,241.25 126.81,243.74 127.08,243.14 127.35,243.08 127.62,241.62 127.9,243.2 128.17,242.17 128.44,240.72 128.72,242.58 128.99,240.15 129.26,241.6 129.54,242.34 129.81,240.49 130.08,241.32 130.35,242.4 130.63,242.81 130.9,242.07 131.17,241.53 131.45,240.43 131.72,241.63 131.99,242.86 132.26,243.83 132.54,241.65 132.81,241.46 133.08,240.44 133.36,242.73 133.63,243.79 133.9,240.85 134.18,242.24 134.45,243.68 134.72,239.72 134.99,240.78 135.27,241.92 135.54,241.62 135.81,243.03 136.09,240.64 136.36,242.6 136.63,242.62 136.9,242.41 137.18,243.57 137.45,240.59 137.72,239.77 138,241.1 138.27,245.07 138.54,242.76 138.81,243.34 139.09,242.07 139.36,245.67 139.63,245.83 139.91,243.64 140.18,241.81 140.45,243.56 140.73,240.41 141,244.76 141.27,243.67 141.54,244.06 141.82,245.11 142.09,242.55 142.36,245.99 142.64,245.7 142.91,244.81 143.18,244.93 143.45,242.66 143.73,244.88 144,243.39 144.27,244.65 144.55,242.16 144.82,243.86 145.09,243.38 145.36,245.89 145.64,242.57 145.91,244.33 146.18,242.12 146.46,242.55 146.73,242.41 147,241.53 147.28,242.48 147.55,244.14 147.82,242.65 148.09,242.58 148.37,244.39 148.64,241.89 148.91,240.69 149.19,242.34 149.46,242.47 149.73,241.95 150,241.02 150.28,243.23 150.55,241.12 150.82,243.4 151.1,241.58 151.37,241.54 151.64,243.95 151.91,241.22 152.19,241.75 152.46,244.28 152.73,242.53 153.01,242.7 153.28,242.99 153.55,241.12 153.82,242.71 154.1,241.48 154.37,242.96 154.64,241.76 154.92,238.81 155.19,240.68 155.46,243.32 155.74,242.41 156.01,241.24 156.28,243.22 156.55,239.58 156.83,240.92 157.1,240.9 157.37,240.68 157.65,241.64 157.92,242.22 158.19,244.88 158.46,242.8 158.74,240.21 159.01,239.56 159.28,240.72 159.56,242.98 159.83,240.91 160.1,240.38 160.38,242.2 160.65,238.52 160.92,241.93 161.19,240.37 161.47,241.85 161.74,239.09 162.01,242.05 162.29,241.53 162.56,238.74 162.83,241.98 163.1,240.97 163.38,239.46 163.65,239.69 163.92,242.56 164.2,239.3 164.47,240.51 164.74,238.4 165.01,242.44 165.29,238.98 165.56,239.45 165.83,240.5 166.11,240.54 166.38,239.41 166.65,240.86 166.93,240.37 167.2,240.93 167.47,239.66 167.74,238.91 168.02,242 168.29,239.76 168.56,239.35 168.84,237.69 169.11,240.77 169.38,238.01 169.65,240.33 169.93,239.04 170.2,239.4 170.47,239.35 170.75,240.21 171.02,241.12 171.29,237.75 171.56,237.83 171.84,240.02 172.11,240.13 172.38,240.22 172.66,241.8 172.93,241.53 173.2,239.48 173.48,238.78 173.75,240.45 174.02,241.47 174.29,241.71 174.57,241.12 174.84,239.36 175.11,240.31 175.39,242.38 175.66,242.07 175.93,240.07 176.2,240.16 176.48,238.2 176.75,238.69 177.02,240.46 177.3,241.7 177.57,240.53 177.84,242.41 178.11,241.84 178.39,239.56 178.66,240.14 178.93,239.75 179.21,238.91 179.48,241.65 179.75,240.02 180.02,241.05 180.3,240.74 180.57,240.89 180.84,240.48 181.12,243.14 181.39,243.14 181.66,241.14 181.94,240.61 182.21,241.95 182.48,241.45 182.75,243.25 183.03,240.02 183.3,240.73 183.57,239.31 183.85,241.96 184.12,241.55 184.39,241.34 184.66,239.58 184.94,240.71 185.21,240.97 185.48,243.79 185.76,242.73 186.03,243.6 186.3,241.86 186.57,240.45 186.85,241.58 187.12,242.94 187.39,238.91 187.67,243.24 187.94,239.85 188.21,240.18 188.49,241.44 188.76,239.96 189.03,243.33 189.3,242.62 189.58,242.29 189.85,241.39 190.12,242.16 190.4,239.59 190.67,242.47 190.94,242.28 191.21,243.64 191.49,241.33 191.76,240.91 192.03,243.05 192.31,243.75 192.58,243.94 192.85,240.44 193.12,240.98 193.4,241.69 193.67,241.05 193.94,241.44 194.22,241.5 194.49,244.37 194.76,241.46 195.04,241.22 195.31,240.65 195.58,240.9 195.85,243.19 196.13,241.91 196.4,244.24 196.67,240.35 196.95,244.23 197.22,241.4 197.49,243.48 197.76,243.54 198.04,243.67 198.31,242.92 198.58,241.97 198.86,240.98 199.13,242.95 199.4,241.39 199.68,241.39 199.95,239.78 200.22,243.45 200.49,242.22 200.77,241.72 201.04,242.49 201.31,241.85 201.59,243.64 201.86,243.23 202.13,243.61 202.4,243.64 202.68,243.99 202.95,242.92 203.22,244.47 203.5,243.57 203.77,241.98 204.04,244.94 204.31,244.24 204.59,243.34 204.86,244.25 205.13,244.16 205.41,240.2 205.68,242.33 205.95,243.41 206.23,243.8 206.5,244.93 206.77,244.38 207.04,245.97 207.32,242.02 207.59,243.49 207.86,241.54 208.14,242.8 208.41,245.54 208.68,240.18 208.95,242.08 209.23,241.57 209.5,243.55 209.77,243.56 210.05,243.04 210.32,240.33 210.59,244.51 210.86,244.26 211.14,242.08 211.41,245.5 211.68,240.75 211.96,244.37 212.23,241.16 212.5,242.99 212.77,243.27 213.05,244.36 213.32,240.79 213.59,243.16 213.87,244.63 214.14,241.93 214.41,243.02 214.69,242.14 214.96,243.44 215.23,242.41 215.5,242.32 215.78,242.95 216.05,245.26 216.32,242.38 216.6,241.2 216.87,242.53 217.14,241.9 217.41,242.14 217.69,243.68 217.96,241.86 218.23,243.69 218.51,244.79 218.78,245.18 219.05,242.09 219.32,242.59 219.6,242.74 219.87,244.43 220.14,246.2 220.42,242.68 220.69,243.93 220.96,244.68 221.24,244.73 221.51,244.72 221.78,246.53 222.05,243.17 222.33,243.09 222.6,242.9 222.87,244.63 223.15,245.88 223.42,246.08 223.69,244.65 223.96,241.86 224.24,243.01 224.51,244.26 224.78,243.68 225.06,243.21 225.33,244.24 225.6,244.01 225.88,244.03 226.15,245.12 226.42,245.89 226.69,245.1 226.97,242.74 227.24,246.49 227.51,244.92 227.79,244.9 228.06,244.27 228.33,244.94 228.6,243.24 228.88,244.83 229.15,244.33 229.42,243.35 229.7,246.26 229.97,242.82 230.24,242.91 230.51,246.13 230.79,244.45 231.06,245.34 231.33,244.82 231.61,243.25 231.88,246.89 232.15,243.17 232.43,243.73 232.7,244.33 232.97,241.29 233.24,245 233.52,246.38 233.79,243.8 234.06,244.12 234.34,245.18 234.61,247.24 234.88,246.92 235.15,242.09 235.43,246.4 235.7,242.42" fill="none" stroke="#000000" stroke-width="1.45" stroke-linejoin="round" />
<polyline points="39.2,296.54 39.47,299.57 39.75,296.75 40.02,295.95 40.29,295.08 40.56,294.45 40.84,294.14 41.11,295.15 41.38,295.05 41.66,294.74 41.93,293.77 42.2,295.22 42.48,295.23 42.75,291.49 43.02,292.74 43.29,292.43 43.57,293.61 43.84,294.04 44.11,293.35 44.39,293.5 44.66,293.08 44.93,293.83 45.2,291.26 45.48,291.33 45.75,290.62 46.02,291.18 46.3,291.82 46.57,288.72 46.84,289.73 47.11,289.99 47.39,289.55 47.66,290.74 47.93,289.56 48.21,291.04 48.48,289.07 48.75,289.04 49.03,289.03 49.3,289.37 49.57,289.51 49.84,289.27 50.12,288.6 50.39,289.69 50.66,288.3 50.94,288.07 51.21,290.07 51.48,290.38 51.75,288.08 52.03,288.6 52.3,288.93 52.57,289.24 52.85,288.94 53.12,289.37 53.39,287.85 53.66,288.99 53.94,289.03 54.21,287.23 54.48,285.37 54.76,285.57 55.03,286.97 55.3,286.3 55.58,286.9 55.85,286.73 56.12,287.38 56.39,286.49 56.67,287.57 56.94,287.18 57.21,286.5 57.49,286.35 57.76,284.02 58.03,287.04 58.3,287.21 58.58,285.27 58.85,285.26 59.12,285.05 59.4,285.82 59.67,287.2 59.94,285.88 60.21,286.76 60.49,285.38 60.76,283.35 61.03,285.44 61.31,284.9 61.58,283.76 61.85,286.23 62.12,283.91 62.4,284.99 62.67,285.26 62.94,284.83 63.22,285.4 63.49,283.36 63.76,284.08 64.04,284.6 64.31,283.51 64.58,285.55 64.85,286.83 65.13,282.43 65.4,284.38 65.67,282.91 65.95,284.62 66.22,285.55 66.49,284.74 66.76,282.58 67.04,283.14 67.31,284.18 67.58,282.76 67.86,283.76 68.13,283.24 68.4,284.53 68.68,285.76 68.95,283.22 69.22,282.56 69.49,284.18 69.77,281.51 70.04,282.85 70.31,281.25 70.59,282.35 70.86,281.7 71.13,283.22 71.4,284.47 71.68,280.51 71.95,281.42 72.22,282.02 72.5,283.69 72.77,281.71 73.04,283.72 73.31,282.01 73.59,281.55 73.86,281.93 74.13,283.49 74.41,281.74 74.68,282.15 74.95,281.72 75.22,280.93 75.5,282.93 75.77,283.1 76.04,284.42 76.32,280.54 76.59,282.97 76.86,280.72 77.14,281.67 77.41,280.77 77.68,281.79 77.95,281.54 78.23,282.29 78.5,281.56 78.77,283.17 79.05,280.95 79.32,283.85 79.59,282.6 79.86,282.46 80.14,281.95 80.41,282.17 80.68,283.1 80.96,281.99 81.23,284.95 81.5,282.83 81.78,282.14 82.05,282.81 82.32,281.03 82.59,282.23 82.87,281.56 83.14,283.28 83.41,281.08 83.69,281.28 83.96,283.69 84.23,280.57 84.5,283.31 84.78,283.33 85.05,281.2 85.32,280.21 85.6,281.38 85.87,282.24 86.14,282.83 86.41,282.86 86.69,281.87 86.96,281.7 87.23,283.11 87.51,281.54 87.78,284.42 88.05,281.83 88.33,283.05 88.6,283.44 88.87,279.83 89.14,281.42 89.42,282.38 89.69,283.21 89.96,280.52 90.24,281.92 90.51,282.83 90.78,284.53 91.05,281.02 91.33,281.19 91.6,281.44 91.87,283.1 92.15,283.9 92.42,280.72 92.69,282.25 92.96,281.11 93.24,284.62 93.51,282.18 93.78,281.11 94.06,281.89 94.33,279.88 94.6,280.88 94.88,280.69 95.15,281.06 95.42,282.01 95.69,282.59 95.97,282.62 96.24,280.38 96.51,281.9 96.79,283.94 97.06,281.47 97.33,281.57 97.6,282.17 97.88,281.19 98.15,282.56 98.42,278.8 98.7,282.04 98.97,282.6 99.24,281.42 99.51,281.33 99.79,280.58 100.06,281.25 100.33,280.78 100.61,281.44 100.88,281.73 101.15,282.56 101.43,282.21 101.7,281.48 101.97,282.73 102.24,280.54 102.52,281.7 102.79,280.12 103.06,280.51 103.34,281.67 103.61,278.09 103.88,279.82 104.15,282.04 104.43,280.85 104.7,281.94 104.97,282.29 105.25,281.12 105.52,281.79 105.79,280.33 106.06,282.72 106.34,280.93 106.61,279.81 106.88,280.9 107.16,279.12 107.43,279.03 107.7,282.41 107.98,281.48 108.25,281.66 108.52,279.42 108.79,281.53 109.07,283.21 109.34,281.63 109.61,281.27 109.89,281.07 110.16,281.05 110.43,280.8 110.7,281.66 110.98,280.81 111.25,281.24 111.52,281.18 111.8,280.99 112.07,279.76 112.34,280.35 112.61,279.89 112.89,281.35 113.16,282.33 113.43,280.68 113.71,279.55 113.98,280.46 114.25,280.96 114.53,282.05 114.8,279.98 115.07,281.18 115.34,282.05 115.62,279.85 115.89,280.13 116.16,278.86 116.44,281.47 116.71,281.61 116.98,279.95 117.25,278.39 117.53,279.83 117.8,279.32 118.07,281.45 118.35,279.66 118.62,281.53 118.89,281.86 119.16,279.14 119.44,278.67 119.71,280.61 119.98,279.66 120.26,279.23 120.53,280.03 120.8,279.74 121.08,279.4 121.35,280.69 121.62,280.95 121.89,279.31 122.17,277.31 122.44,280.19 122.71,280.25 122.99,277.74 123.26,280.46 123.53,280.55 123.8,277.72 124.08,279.03 124.35,278.98 124.62,282.05 124.9,278.4 125.17,280.03 125.44,278.69 125.71,279.18 125.99,277.79 126.26,278.86 126.53,277.8 126.81,280.44 127.08,278.56 127.35,279.1 127.62,280.3 127.9,281.21 128.17,279.98 128.44,280.68 128.72,280.23 128.99,280.28 129.26,280.45 129.54,279.63 129.81,279.59 130.08,280.82 130.35,280.58 130.63,279.52 130.9,280.31 131.17,280.26 131.45,280.76 131.72,281.72 131.99,280.03 132.26,280.85 132.54,279.85 132.81,280.08 133.08,280.19 133.36,278.8 133.63,280.64 133.9,278.52 134.18,279.38 134.45,276.89 134.72,280.71 134.99,280.47 135.27,279.33 135.54,278.9 135.81,280.05 136.09,278.9 136.36,279.62 136.63,281.29 136.9,279.41 137.18,278.82 137.45,279.31 137.72,279.84 138,280.67 138.27,278.92 138.54,278.16 138.81,281.2 139.09,279.02 139.36,281.61 139.63,279.45 139.91,282.55 140.18,279.84 140.45,278.94 140.73,281.18 141,281.06 141.27,279.48 141.54,279.86 141.82,279.24 142.09,278.06 142.36,280.81 142.64,279.27 142.91,281.6 143.18,282.77 143.45,280.55 143.73,282.42 144,278.91 144.27,278.49 144.55,278.88 144.82,281.17 145.09,280.22 145.36,281.23 145.64,279.57 145.91,280.44 146.18,278.14 146.46,278.85 146.73,280.65 147,277.68 147.28,279.02 147.55,278.29 147.82,279.19 148.09,277.8 148.37,277.96 148.64,278.31 148.91,277.64 149.19,278.46 149.46,278.78 149.73,279.92 150,281.38 150.28,277.73 150.55,278.41 150.82,280.24 151.1,278.13 151.37,278.84 151.64,278.91 151.91,277 152.19,277.91 152.46,280.46 152.73,278.88 153.01,277.86 153.28,277.73 153.55,278.36 153.82,279.36 154.1,278.53 154.37,280.98 154.64,277.53 154.92,278.98 155.19,279.51 155.46,279.67 155.74,278.7 156.01,279.78 156.28,279.94 156.55,279.91 156.83,276.95 157.1,278.95 157.37,278.26 157.65,278.42 157.92,279.46 158.19,277.93 158.46,278.93 158.74,279.56 159.01,279.83 159.28,279.14 159.56,279.22 159.83,277.23 160.1,281.42 160.38,277.44 160.65,277.05 160.92,276.95 161.19,279.38 161.47,279.49 161.74,277.2 162.01,277.82 162.29,278.21 162.56,279.47 162.83,278.81 163.1,279.78 163.38,276.67 163.65,277.31 163.92,278.91 164.2,277.28 164.47,278.25 164.74,280.59 165.01,277.75 165.29,279.18 165.56,277.99 165.83,278.84 166.11,279.41 166.38,278.67 166.65,277.15 166.93,279.57 167.2,279.33 167.47,279.91 167.74,278.92 168.02,277.28 168.29,277.43 168.56,277.61 168.84,277.66 169.11,276.54 169.38,276.55 169.65,276.45 169.93,279.12 170.2,278.86 170.47,277.3 170.75,277.36 171.02,278.7 171.29,278.37 171.56,277.12 171.84,278.27 172.11,278.92 172.38,277.75 172.66,278.7 172.93,277.46 173.2,277.82 173.48,278.39 173.75,279 174.02,276.94 174.29,278.96 174.57,277.88 174.84,278.37 175.11,277.94 175.39,278.37 175.66,276.87 175.93,277.81 176.2,279.05 176.48,279.25 176.75,277.09 177.02,278.09 177.3,276.51 177.57,277.33 177.84,276.41 178.11,279.32 178.39,278.17 178.66,276.41 178.93,279.11 179.21,276.95 179.48,277.78 179.75,276.58 180.02,278.02 180.3,278.46 180.57,276.77 180.84,275.28 181.12,278.9 181.39,277.3 181.66,278.45 181.94,277.05 182.21,277.07 182.48,278.34 182.75,279.02 183.03,277.44 183.3,277.48 183.57,276.52 183.85,277.52 184.12,276.31 184.39,277.16 184.66,275.84 184.94,276.31 185.21,278.9 185.48,277.7 185.76,276.92 186.03,277.66 186.3,277 186.57,275.55 186.85,278.3 187.12,278.11 187.39,278.3 187.67,276.19 187.94,274.89 188.21,278.25 188.49,274.75 188.76,278.81 189.03,277.15 189.3,277.12 189.58,276.91 189.85,278 190.12,278.47 190.4,277.43 190.67,276.1 190.94,277.43 191.21,276.74 191.49,276.66 191.76,275.56 192.03,278.3 192.31,275.39 192.58,275.01 192.85,278.33 193.12,275.86 193.4,279.05 193.67,277.92 193.94,277.33 194.22,277.03 194.49,279 194.76,277.76 195.04,278.71 195.31,275.91 195.58,277.93 195.85,276.62 196.13,277.42 196.4,276.32 196.67,279.63 196.95,276.9 197.22,278.42 197.49,277.85 197.76,276.4 198.04,275.89 198.31,277.74 198.58,277.31 198.86,274.62 199.13,276.65 199.4,275.67 199.68,275.6 199.95,275.85 200.22,276.83 200.49,276.83 200.77,275.74 201.04,279.6 201.31,277.47 201.59,276.17 201.86,276.02 202.13,275.96 202.4,277.17 202.68,277.49 202.95,278.12 203.22,276.37 203.5,276.62 203.77,276.47 204.04,279.01 204.31,277 204.59,277.72 204.86,275.51 205.13,275.78 205.41,275.82 205.68,275.93 205.95,275.26 206.23,276.23 206.5,277.37 206.77,276.31 207.04,276.41 207.32,276.07 207.59,275.9 207.86,276.34 208.14,276.14 208.41,276.44 208.68,276.64 208.95,277.54 209.23,277.14 209.5,276.82 209.77,274.39 210.05,276.55 210.32,277.24 210.59,275.63 210.86,275.72 211.14,276.56 211.41,275.18 211.68,277.28 211.96,277.41 212.23,276.72 212.5,276.56 212.77,276.4 213.05,276.13 213.32,275.11 213.59,276.02 213.87,275.64 214.14,276.33 214.41,277.15 214.69,276.1 214.96,277.1 215.23,275.26 215.5,276.29 215.78,277.11 216.05,276.06 216.32,275.82 216.6,276.5 216.87,277.08 217.14,276.27 217.41,276.48 217.69,276.46 217.96,278.91 218.23,276.72 218.51,273.59 218.78,274.14 219.05,274.72 219.32,276.1 219.6,274.75 219.87,275.22 220.14,275.77 220.42,275.81 220.69,275.75 220.96,277.64 221.24,274.65 221.51,274.75 221.78,275.41 222.05,275.29 222.33,276.56 222.6,275.75 222.87,276.32 223.15,276.69 223.42,275.24 223.69,273.13 223.96,273.56 224.24,275.4 224.51,275.9 224.78,273.15 225.06,276.31 225.33,276.1 225.6,274.87 225.88,273.21 226.15,273.54 226.42,277.36 226.69,277.26 226.97,276.47 227.24,273.86 227.51,276.07 227.79,275.83 228.06,273.78 228.33,276.08 228.6,273.31 228.88,276.97 229.15,275.6 229.42,273.46 229.7,275.97 229.97,274.52 230.24,273.84 230.51,273.9 230.79,274.21 231.06,274.18 231.33,273.89 231.61,274.48 231.88,275.12 232.15,272.46 232.43,275.75 232.7,274.42 232.97,275.29 233.24,274.78 233.52,273.31 233.79,276.24 234.06,276.09 234.34,273.95 234.61,274.32 234.88,274.26 235.15,274.56 235.43,273.79 235.7,274.75" fill="none" stroke="#e0201c" stroke-width="1.15" stroke-linejoin="round" />
<polyline points="39.2,291.76 39.47,293.03 39.75,294.34 40.02,294.17 40.29,292.82 40.56,294.26 40.84,295.14 41.11,293.35 41.38,293.97 41.66,293.34 41.93,293.01 42.2,295.91 42.48,294.32 42.75,295.66 43.02,295.33 43.29,294.89 43.57,295.27 43.84,295.8 44.11,295.59 44.39,295.59 44.66,298.8 44.93,295.08 45.2,295.27 45.48,295.63 45.75,296.13 46.02,294.57 46.3,296.38 46.57,295.61 46.84,296.8 47.11,297.98 47.39,296 47.66,295.93 47.93,298.06 48.21,295.12 48.48,295.88 48.75,296.21 49.03,297.39 49.3,297.73 49.57,296.81 49.84,296.5 50.12,297.04 50.39,296.82 50.66,296.45 50.94,296.64 51.21,296.44 51.48,297.05 51.75,298.62 52.03,296.71 52.3,296.74 52.57,296.18 52.85,296.78 53.12,298.29 53.39,296.78 53.66,296.14 53.94,295.54 54.21,297.34 54.48,297.11 54.76,297.38 55.03,296.34 55.3,296.99 55.58,295.05 55.85,297.22 56.12,297.71 56.39,296.28 56.67,296.71 56.94,298.08 57.21,297.35 57.49,297.94 57.76,298.8 58.03,296.9 58.3,297.98 58.58,297.29 58.85,296.86 59.12,298.08 59.4,296.72 59.67,297.82 59.94,297.18 60.21,297.83 60.49,298.44 60.76,299.43 61.03,298.07 61.31,298.09 61.58,295.02 61.85,297.7 62.12,297.12 62.4,297.99 62.67,296.33 62.94,296.73 63.22,297.19 63.49,297.16 63.76,299.49 64.04,298.16 64.31,297.63 64.58,295.71 64.85,295.27 65.13,297.94 65.4,296.97 65.67,297.16 65.95,295.11 66.22,298.07 66.49,297.13 66.76,296.9 67.04,297.53 67.31,297.85 67.58,297.02 67.86,297.14 68.13,298.27 68.4,297.92 68.68,297.23 68.95,297.98 69.22,296.26 69.49,298.56 69.77,298.49 70.04,296.73 70.31,297.85 70.59,298.09 70.86,296.79 71.13,298.13 71.4,299.54 71.68,297.93 71.95,297.07 72.22,297.72 72.5,296.36 72.77,297.57 73.04,297.6 73.31,296.47 73.59,298.55 73.86,300.95 74.13,297.58 74.41,297.14 74.68,297.78 74.95,299.01 75.22,297.44 75.5,296.84 75.77,297.82 76.04,299.08 76.32,298.49 76.59,297.81 76.86,299.62 77.14,297.18 77.41,299.57 77.68,296.38 77.95,298.88 78.23,297.43 78.5,297.9 78.77,300.3 79.05,297.79 79.32,299.17 79.59,298.87 79.86,298.29 80.14,300.14 80.41,298.93 80.68,298.27 80.96,297.86 81.23,297.72 81.5,298.29 81.78,301.53 82.05,298.46 82.32,299.84 82.59,300.7 82.87,298.64 83.14,298.05 83.41,299.15 83.69,299.44 83.96,300.31 84.23,299.75 84.5,298.62 84.78,299.18 85.05,299.21 85.32,299.9 85.6,300.04 85.87,300.18 86.14,300.94 86.41,298.32 86.69,301.07 86.96,298.44 87.23,299.11 87.51,300.71 87.78,299 88.05,299.2 88.33,299.02 88.6,299.92 88.87,300.25 89.14,300.07 89.42,299.9 89.69,301.15 89.96,298.81 90.24,300.56 90.51,298.52 90.78,298.74 91.05,301.77 91.33,300.83 91.6,300.64 91.87,299.94 92.15,300.96 92.42,299.45 92.69,300.3 92.96,301.13 93.24,299.17 93.51,300.8 93.78,299.43 94.06,298.2 94.33,300.1 94.6,300.51 94.88,301.75 95.15,299.58 95.42,300.45 95.69,300.27 95.97,299.07 96.24,301.2 96.51,299.64 96.79,298.77 97.06,299.34 97.33,301.06 97.6,299.08 97.88,300.55 98.15,298.85 98.42,300.11 98.7,299.24 98.97,302.04 99.24,300.19 99.51,302.48 99.79,299.95 100.06,301.29 100.33,299.8 100.61,300.12 100.88,298.34 101.15,299.72 101.43,299.66 101.7,302.26 101.97,300.22 102.24,301.41 102.52,300.61 102.79,300.51 103.06,299.94 103.34,299.66 103.61,299.69 103.88,300.19 104.15,301.01 104.43,300.54 104.7,300.31 104.97,300.14 105.25,302.19 105.52,300.03 105.79,301.87 106.06,300.04 106.34,300.87 106.61,302.15 106.88,300.22 107.16,301.58 107.43,300.01 107.7,300.39 107.98,300.71 108.25,299.75 108.52,301.46 108.79,301.22 109.07,300.73 109.34,300.06 109.61,300.84 109.89,303.65 110.16,300.79 110.43,301.13 110.7,301.22 110.98,302.23 111.25,301.95 111.52,301 111.8,300.02 112.07,301.51 112.34,300.87 112.61,301.28 112.89,300.13 113.16,301.79 113.43,300.3 113.71,299.58 113.98,300.34 114.25,301.7 114.53,301.37 114.8,299.49 115.07,298.49 115.34,300.93 115.62,301.26 115.89,299.89 116.16,301.26 116.44,300.55 116.71,301.65 116.98,301.15 117.25,302.66 117.53,300.71 117.8,303.59 118.07,301.93 118.35,300.82 118.62,300.44 118.89,299.69 119.16,300.46 119.44,301.18 119.71,300.41 119.98,302.86 120.26,303.16 120.53,301.03 120.8,303.41 121.08,300.07 121.35,301.58 121.62,300.82 121.89,299.59 122.17,301.07 122.44,300.8 122.71,302.22 122.99,300.09 123.26,301.81 123.53,301.89 123.8,300.79 124.08,300.79 124.35,302.07 124.62,301.85 124.9,302.69 125.17,301.63 125.44,302.9 125.71,302.06 125.99,300.26 126.26,301.79 126.53,301.95 126.81,300.42 127.08,301.26 127.35,300.7 127.62,301.46 127.9,302.26 128.17,300.37 128.44,301.16 128.72,301.44 128.99,301.01 129.26,300.05 129.54,301.14 129.81,300.73 130.08,303 130.35,301.89 130.63,301.74 130.9,301.84 131.17,301.93 131.45,301.29 131.72,300.58 131.99,301.11 132.26,301.08 132.54,301.04 132.81,301.47 133.08,300.05 133.36,301.71 133.63,301.49 133.9,301.93 134.18,301.75 134.45,302.06 134.72,302.53 134.99,301.58 135.27,301.19 135.54,301.8 135.81,300.34 136.09,301.52 136.36,302.91 136.63,301.81 136.9,300.85 137.18,301.17 137.45,301.92 137.72,302.85 138,301.71 138.27,301.57 138.54,299.81 138.81,301.17 139.09,301.76 139.36,301.37 139.63,301.9 139.91,301.13 140.18,302.04 140.45,301.85 140.73,303.07 141,302.13 141.27,303.02 141.54,302.1 141.82,301.78 142.09,300.92 142.36,301.86 142.64,302.62 142.91,301.59 143.18,302.41 143.45,303.84 143.73,301.63 144,302.29 144.27,302.55 144.55,302.43 144.82,301.37 145.09,301.94 145.36,302.83 145.64,301.22 145.91,303.18 146.18,301.42 146.46,302.97 146.73,302.27 147,300.61 147.28,302.28 147.55,301.89 147.82,302.58 148.09,301.83 148.37,301.37 148.64,301.69 148.91,300.69 149.19,302.39 149.46,303.12 149.73,301.5 150,302.89 150.28,301.21 150.55,302.09 150.82,300.16 151.1,301.69 151.37,302.91 151.64,302.78 151.91,302.24 152.19,301.7 152.46,303.66 152.73,301.52 153.01,302.1 153.28,301.35 153.55,302.24 153.82,301.14 154.1,301.25 154.37,302.12 154.64,302.2 154.92,303.32 155.19,303.71 155.46,301.49 155.74,303.5 156.01,301.33 156.28,301.07 156.55,301.74 156.83,300.86 157.1,299.43 157.37,303.78 157.65,301.82 157.92,300.52 158.19,303.6 158.46,303.22 158.74,302.1 159.01,301.51 159.28,301.22 159.56,301.32 159.83,302.01 160.1,301.54 160.38,301.8 160.65,302.14 160.92,300.14 161.19,301.16 161.47,303.05 161.74,301.17 162.01,302.32 162.29,301.93 162.56,299.86 162.83,300.7 163.1,301.78 163.38,302.11 163.65,300.32 163.92,300.79 164.2,300.05 164.47,302.06 164.74,298.81 165.01,302.77 165.29,300.97 165.56,300.96 165.83,301.81 166.11,301.26 166.38,303.04 166.65,301.17 166.93,301.45 167.2,299.62 167.47,301.36 167.74,299.61 168.02,300.89 168.29,301.08 168.56,300.12 168.84,300.93 169.11,299.87 169.38,301.07 169.65,303 169.93,300.27 170.2,302.57 170.47,300.1 170.75,301.25 171.02,302.16 171.29,301.04 171.56,302.5 171.84,302.09 172.11,301.82 172.38,300.65 172.66,300.36 172.93,302.27 173.2,301.41 173.48,300.74 173.75,301.37 174.02,300.31 174.29,301.94 174.57,300.35 174.84,300.64 175.11,300.92 175.39,300.34 175.66,302.92 175.93,301.15 176.2,301.05 176.48,301.55 176.75,299.81 177.02,302.89 177.3,301.16 177.57,301.08 177.84,301.62 178.11,301.35 178.39,300.62 178.66,300.63 178.93,301.1 179.21,300.22 179.48,301.08 179.75,300.12 180.02,301.71 180.3,301.71 180.57,302.3 180.84,303.38 181.12,301.21 181.39,301.49 181.66,301.8 181.94,302.25 182.21,302.4 182.48,301 182.75,300.28 183.03,301.14 183.3,300.3 183.57,300.22 183.85,300.52 184.12,300.8 184.39,301.79 184.66,301.66 184.94,300.77 185.21,300.89 185.48,302.02 185.76,301.27 186.03,301.08 186.3,301.23 186.57,301.44 186.85,302.11 187.12,301.63 187.39,302.12 187.67,301.02 187.94,303.13 188.21,301.01 188.49,302.32 188.76,300.76 189.03,301.86 189.3,302.9 189.58,303 189.85,301.57 190.12,301.51 190.4,301.98 190.67,302.38 190.94,301.56 191.21,300.72 191.49,301.44 191.76,301.14 192.03,301.68 192.31,301.42 192.58,301.1 192.85,303.45 193.12,301.94 193.4,302.82 193.67,300.82 193.94,302.39 194.22,302.04 194.49,301.93 194.76,302.27 195.04,301.37 195.31,303.18 195.58,303.88 195.85,302.46 196.13,302.48 196.4,301.72 196.67,302.24 196.95,301.83 197.22,302.18 197.49,300.42 197.76,302.28 198.04,300.89 198.31,302.05 198.58,302.47 198.86,302.74 199.13,301.96 199.4,303.12 199.68,303.58 199.95,301.53 200.22,301.29 200.49,302.26 200.77,302.13 201.04,299.04 201.31,302.46 201.59,301.25 201.86,302.74 202.13,302.24 202.4,302.73 202.68,301.82 202.95,303.57 203.22,301.44 203.5,301.85 203.77,304.15 204.04,301.37 204.31,302.34 204.59,301.79 204.86,303.44 205.13,302.8 205.41,302.82 205.68,301.02 205.95,302.63 206.23,301.67 206.5,302.24 206.77,302.39 207.04,301.7 207.32,302.28 207.59,303.1 207.86,302.46 208.14,301.35 208.41,302.9 208.68,302.04 208.95,303.41 209.23,302.08 209.5,301.49 209.77,302.06 210.05,303.49 210.32,302.36 210.59,303.41 210.86,302.99 211.14,304.04 211.41,301.36 211.68,302.07 211.96,303.28 212.23,303.71 212.5,302.93 212.77,302.36 213.05,301.49 213.32,303.33 213.59,302.23 213.87,301.21 214.14,301.9 214.41,300.65 214.69,303.17 214.96,303.67 215.23,302.64 215.5,302.54 215.78,302.04 216.05,301.8 216.32,303.35 216.6,303.3 216.87,303.15 217.14,301.57 217.41,302.47 217.69,303.72 217.96,303.01 218.23,303.16 218.51,304.25 218.78,300.8 219.05,301.98 219.32,301.62 219.6,302.23 219.87,303.42 220.14,301.11 220.42,301.54 220.69,303.2 220.96,303.74 221.24,302.93 221.51,301.59 221.78,302.33 222.05,302.77 222.33,302.41 222.6,302.78 222.87,301.82 223.15,302.11 223.42,302.1 223.69,303.47 223.96,301.56 224.24,302.07 224.51,303.21 224.78,302.24 225.06,303.99 225.33,302.09 225.6,302.22 225.88,302.23 226.15,302.96 226.42,303.47 226.69,303.49 226.97,302.07 227.24,304.13 227.51,302.43 227.79,303.1 228.06,302.98 228.33,304.6 228.6,303.84 228.88,304.68 229.15,301.78 229.42,302.17 229.7,301.92 229.97,302.85 230.24,303.14 230.51,302.07 230.79,303.41 231.06,302.02 231.33,303.44 231.61,302.75 231.88,304.86 232.15,302.74 232.43,303.15 232.7,302.18 232.97,301.49 233.24,303.48 233.52,302.22 233.79,304.75 234.06,301.99 234.34,302.86 234.61,301.27 234.88,302.77 235.15,303.27 235.43,303.56 235.7,301.42" fill="none" stroke="#7a7a00" stroke-width="1.15" stroke-linejoin="round" />
<polyline points="39.2,295.27 39.47,295.61 39.75,295.16 40.02,295.31 40.29,294.72 40.56,295.65 40.84,294.06 41.11,296.89 41.38,296.01 41.66,297.56 41.93,298.43 42.2,296.63 42.48,296.95 42.75,297.43 43.02,298.42 43.29,299.03 43.57,298.72 43.84,299.11 44.11,299.81 44.39,299.83 44.66,298.2 44.93,297.36 45.2,299.74 45.48,300.52 45.75,298.73 46.02,299.72 46.3,297.23 46.57,298.13 46.84,299.38 47.11,299.27 47.39,301.58 47.66,300.71 47.93,300.01 48.21,301.03 48.48,300.87 48.75,300.91 49.03,299.15 49.3,300.2 49.57,299.91 49.84,299.87 50.12,300.21 50.39,300.99 50.66,300.41 50.94,300.51 51.21,302.25 51.48,301.4 51.75,300.68 52.03,302.77 52.3,300.3 52.57,300.6 52.85,302.62 53.12,302.81 53.39,300.41 53.66,302.48 53.94,301.75 54.21,300.66 54.48,302.64 54.76,301.56 55.03,301.81 55.3,303.56 55.58,301.76 55.85,303.09 56.12,301.62 56.39,301.24 56.67,301.13 56.94,302.83 57.21,301.64 57.49,301.84 57.76,300.96 58.03,301.64 58.3,303.2 58.58,303.15 58.85,302.98 59.12,302.63 59.4,303.68 59.67,299.93 59.94,302.2 60.21,302.68 60.49,302.4 60.76,302.7 61.03,304.01 61.31,303.34 61.58,301.6 61.85,301.1 62.12,302.22 62.4,303.4 62.67,304.14 62.94,304.74 63.22,302.39 63.49,302.84 63.76,302.74 64.04,302.13 64.31,302.42 64.58,302.78 64.85,302.26 65.13,301.83 65.4,302.26 65.67,301.4 65.95,304.42 66.22,303.74 66.49,302.25 66.76,304.38 67.04,303.37 67.31,303.33 67.58,304.2 67.86,302.46 68.13,303.18 68.4,301.91 68.68,303.23 68.95,302.18 69.22,303.62 69.49,303.84 69.77,304.54 70.04,302.9 70.31,303.56 70.59,304.23 70.86,303.86 71.13,304.14 71.4,303.37 71.68,303.38 71.95,304.38 72.22,303.77 72.5,301.76 72.77,302.97 73.04,303.5 73.31,302.33 73.59,304.16 73.86,303.41 74.13,303.09 74.41,304.38 74.68,305.11 74.95,301.36 75.22,303.6 75.5,303.56 75.77,303.95 76.04,303.33 76.32,304.52 76.59,303.76 76.86,303.6 77.14,302.45 77.41,303.47 77.68,304.01 77.95,304.14 78.23,303.22 78.5,303.63 78.77,302.05 79.05,305.08 79.32,302.09 79.59,302.65 79.86,304.3 80.14,304.21 80.41,304.63 80.68,303.11 80.96,302.17 81.23,304.25 81.5,304.57 81.78,303.39 82.05,303.04 82.32,302.52 82.59,302.72 82.87,304.57 83.14,304.39 83.41,304.15 83.69,301.77 83.96,303.74 84.23,304.91 84.5,303.71 84.78,303.32 85.05,304.23 85.32,304.08 85.6,304.11 85.87,303.49 86.14,304.35 86.41,302.18 86.69,303.89 86.96,304.74 87.23,303.77 87.51,304.19 87.78,303.93 88.05,302.56 88.33,303.41 88.6,303.85 88.87,302.57 89.14,303.43 89.42,302.98 89.69,302.71 89.96,303.73 90.24,303.62 90.51,304.14 90.78,302.43 91.05,302.91 91.33,305.19 91.6,303.03 91.87,302.62 92.15,303.56 92.42,304.25 92.69,304.1 92.96,303.87 93.24,304.35 93.51,303.35 93.78,303.45 94.06,302.9 94.33,303.55 94.6,303.71 94.88,304.41 95.15,304.04 95.42,303.06 95.69,303.56 95.97,302.08 96.24,303.69 96.51,304.35 96.79,305.04 97.06,305.67 97.33,303.06 97.6,303.94 97.88,303.23 98.15,303.91 98.42,303.33 98.7,303.36 98.97,303.67 99.24,302.66 99.51,304.4 99.79,303.88 100.06,305.12 100.33,304.5 100.61,304.27 100.88,305.71 101.15,304.19 101.43,303.31 101.7,304.67 101.97,306.62 102.24,305.45 102.52,304.67 102.79,304.77 103.06,303.43 103.34,304.73 103.61,303.31 103.88,304.49 104.15,303.52 104.43,303.94 104.7,304.26 104.97,303.76 105.25,304.96 105.52,303.66 105.79,304.49 106.06,305.61 106.34,302.86 106.61,305.64 106.88,303.86 107.16,304.18 107.43,305.23 107.7,304.29 107.98,304.21 108.25,303.54 108.52,305.24 108.79,303.81 109.07,306.89 109.34,303.47 109.61,305.22 109.89,303.4 110.16,303.55 110.43,304.75 110.7,304.29 110.98,303.49 111.25,304.23 111.52,305.64 111.8,302.97 112.07,302.25 112.34,304.42 112.61,305.12 112.89,302.7 113.16,304.97 113.43,303.73 113.71,304.57 113.98,304.46 114.25,304.48 114.53,304.62 114.8,305.63 115.07,305.14 115.34,303.09 115.62,303.84 115.89,305.18 116.16,304.38 116.44,304.17 116.71,305.12 116.98,303.99 117.25,303.44 117.53,305.47 117.8,303.05 118.07,304.08 118.35,303.44 118.62,304.14 118.89,305.34 119.16,304.6 119.44,303.89 119.71,305.01 119.98,303.42 120.26,303.74 120.53,307.51 120.8,305.39 121.08,304.56 121.35,304.27 121.62,305.36 121.89,304.37 122.17,302.9 122.44,304.01 122.71,304.9 122.99,304.12 123.26,304.58 123.53,304 123.8,303.5 124.08,303.46 124.35,304.93 124.62,304.72 124.9,303.76 125.17,305.49 125.44,304.09 125.71,305.92 125.99,305.46 126.26,303.29 126.53,303.3 126.81,303.1 127.08,304.63 127.35,304.75 127.62,305.95 127.9,303.72 128.17,304.86 128.44,306.03 128.72,303.81 128.99,303.79 129.26,303.48 129.54,303.42 129.81,304.53 130.08,305.22 130.35,303.93 130.63,305.9 130.9,304.14 131.17,303.54 131.45,303.68 131.72,306.43 131.99,303.29 132.26,303.86 132.54,304.94 132.81,305.52 133.08,301.75 133.36,302.91 133.63,304.22 133.9,303.57 134.18,304.25 134.45,305.17 134.72,305.43 134.99,304.76 135.27,304.83 135.54,305.81 135.81,303.28 136.09,304.53 136.36,303.2 136.63,306.03 136.9,304.98 137.18,303.78 137.45,305.87 137.72,305.11 138,303.04 138.27,304.03 138.54,304.54 138.81,304.47 139.09,305.33 139.36,305.3 139.63,303.43 139.91,303.58 140.18,306.16 140.45,303.66 140.73,306.33 141,303.56 141.27,305.11 141.54,305 141.82,306.17 142.09,304.56 142.36,304.44 142.64,305.38 142.91,303.42 143.18,303.79 143.45,304.17 143.73,303.45 144,305.39 144.27,302.61 144.55,304.02 144.82,304.89 145.09,304.77 145.36,304.43 145.64,304.5 145.91,303.27 146.18,303.08 146.46,304.69 146.73,305.32 147,304.71 147.28,303.9 147.55,302.64 147.82,302.55 148.09,304.35 148.37,303.18 148.64,304.17 148.91,304.1 149.19,304.35 149.46,303.52 149.73,302.38 150,302.77 150.28,303.7 150.55,303.36 150.82,304.24 151.1,302.42 151.37,303.13 151.64,304.98 151.91,304.85 152.19,304.92 152.46,302.65 152.73,303.73 153.01,302.14 153.28,304.51 153.55,303.54 153.82,304.2 154.1,304.59 154.37,306.73 154.64,303.89 154.92,303.15 155.19,303.22 155.46,303.99 155.74,303.09 156.01,302.74 156.28,304.44 156.55,302.71 156.83,303.87 157.1,303.18 157.37,304.68 157.65,304.35 157.92,304.4 158.19,304.84 158.46,303.78 158.74,303.18 159.01,303.47 159.28,303.61 159.56,303.98 159.83,304.57 160.1,303.53 160.38,303.75 160.65,302.95 160.92,304.76 161.19,303.36 161.47,302.14 161.74,303.48 162.01,303.91 162.29,303.15 162.56,302.43 162.83,303.58 163.1,304.4 163.38,304.51 163.65,303.58 163.92,304.97 164.2,302.49 164.47,304.81 164.74,304.26 165.01,301.93 165.29,304.77 165.56,303.75 165.83,303.84 166.11,305.3 166.38,301.83 166.65,303.84 166.93,303.57 167.2,304.16 167.47,304.63 167.74,303.77 168.02,304.75 168.29,303.77 168.56,302.71 168.84,302.93 169.11,302.87 169.38,304.06 169.65,303.59 169.93,302.33 170.2,303.15 170.47,304.59 170.75,304.76 171.02,303.94 171.29,303.46 171.56,304.31 171.84,303.64 172.11,303 172.38,303.89 172.66,303.05 172.93,304.76 173.2,303.87 173.48,302.32 173.75,302.84 174.02,303.2 174.29,303.57 174.57,303.75 174.84,305.36 175.11,304.2 175.39,301.94 175.66,303.84 175.93,303.09 176.2,304.17 176.48,303.91 176.75,302.89 177.02,303.09 177.3,303.28 177.57,302.82 177.84,303.2 178.11,303.86 178.39,302.62 178.66,305.14 178.93,303.2 179.21,304.08 179.48,302.61 179.75,303.04 180.02,304.32 180.3,303.77 180.57,305.76 180.84,302.75 181.12,303.79 181.39,302.19 181.66,305.1 181.94,303.26 182.21,302.79 182.48,303.48 182.75,304.64 183.03,302.56 183.3,300.77 183.57,305.79 183.85,302.7 184.12,304.72 184.39,303.24 184.66,302.14 184.94,301.95 185.21,303.83 185.48,302.98 185.76,304.41 186.03,302.58 186.3,301.99 186.57,304.19 186.85,301.81 187.12,303.94 187.39,303.55 187.67,302.74 187.94,302.31 188.21,303.67 188.49,301.79 188.76,303.48 189.03,302.8 189.3,304.28 189.58,302.76 189.85,302.06 190.12,303.3 190.4,303.45 190.67,304.2 190.94,301.86 191.21,303.01 191.49,302.89 191.76,302.85 192.03,302.04 192.31,303.23 192.58,301.9 192.85,303.12 193.12,302.01 193.4,301.46 193.67,303.83 193.94,302.91 194.22,303.95 194.49,304.52 194.76,303.49 195.04,302.71 195.31,302.1 195.58,302.26 195.85,302.15 196.13,303.42 196.4,301.62 196.67,303.77 196.95,301.88 197.22,303.98 197.49,303.45 197.76,303.74 198.04,302.46 198.31,301.92 198.58,301.92 198.86,303.18 199.13,302.17 199.4,302.08 199.68,303.42 199.95,301.83 200.22,302.02 200.49,303.56 200.77,302.29 201.04,303.68 201.31,303.48 201.59,302.19 201.86,303.27 202.13,302.11 202.4,304.44 202.68,302.8 202.95,302.63 203.22,302.15 203.5,301.85 203.77,302.1 204.04,303.56 204.31,302.71 204.59,301.56 204.86,302.27 205.13,304.83 205.41,303.36 205.68,303 205.95,303.81 206.23,303.16 206.5,302.69 206.77,302.38 207.04,302.26 207.32,303.32 207.59,301.97 207.86,303.66 208.14,300.8 208.41,302.76 208.68,302.21 208.95,302.86 209.23,302.89 209.5,303.05 209.77,302.39 210.05,303.11 210.32,303.93 210.59,303.82 210.86,304.42 211.14,303.8 211.41,301.71 211.68,300.56 211.96,303.05 212.23,303.16 212.5,302.17 212.77,302.64 213.05,302.12 213.32,302.18 213.59,302.24 213.87,302.25 214.14,301.92 214.41,303.93 214.69,302.89 214.96,302.34 215.23,302.12 215.5,302.36 215.78,302.33 216.05,302.59 216.32,301.97 216.6,302.83 216.87,302.64 217.14,303.07 217.41,302.62 217.69,302.54 217.96,304.63 218.23,303.19 218.51,302.27 218.78,303.5 219.05,302.52 219.32,303.67 219.6,303.54 219.87,302.9 220.14,303.44 220.42,301.64 220.69,303.26 220.96,302.39 221.24,302.93 221.51,302.57 221.78,304.28 222.05,301.35 222.33,303.47 222.6,303.06 222.87,303.91 223.15,302.6 223.42,302.08 223.69,301.88 223.96,302.85 224.24,302.35 224.51,302.67 224.78,301.96 225.06,302.85 225.33,303.08 225.6,304 225.88,302.67 226.15,302.5 226.42,303.21 226.69,302.63 226.97,303.62 227.24,301.83 227.51,301.81 227.79,303.47 228.06,305.64 228.33,302.85 228.6,301.35 228.88,301.73 229.15,303.21 229.42,302.96 229.7,303.24 229.97,303.02 230.24,301.89 230.51,302.61 230.79,302.37 231.06,303.68 231.33,301.81 231.61,303.91 231.88,302.83 232.15,304.32 232.43,302.95 232.7,302.86 232.97,303.62 233.24,302.4 233.52,302.48 233.79,303.39 234.06,302.04 234.34,302.93 234.61,303.19 234.88,302.45 235.15,301.31 235.43,302.36 235.7,303.37" fill="none" stroke="#1a1ae0" stroke-width="1.15" stroke-linejoin="round" />
<polyline points="39.2,292.84 39.47,292.47 39.75,292.38 40.02,291.76 40.29,291.28 40.56,292.52 40.84,293.33 41.11,292.19 41.38,293.47 41.66,294.82 41.93,294.43 42.2,294.56 42.48,295.19 42.75,295.83 43.02,296.09 43.29,295.8 43.57,297.84 43.84,295.32 44.11,298.51 44.39,296.68 44.66,297.45 44.93,297.52 45.2,297.9 45.48,297.09 45.75,297.45 46.02,297.25 46.3,297.52 46.57,296.47 46.84,298.67 47.11,298.35 47.39,298.44 47.66,297.34 47.93,298.47 48.21,298.36 48.48,297.95 48.75,297.64 49.03,299.25 49.3,299.95 49.57,299.96 49.84,298.81 50.12,298.36 50.39,299.32 50.66,299.08 50.94,300.52 51.21,300.87 51.48,300.09 51.75,299.91 52.03,300.87 52.3,299.53 52.57,299.75 52.85,301.49 53.12,301.89 53.39,299.79 53.66,300.63 53.94,300.69 54.21,301.05 54.48,301.44 54.76,301.98 55.03,300.75 55.3,301.97 55.58,301.77 55.85,302.38 56.12,301.27 56.39,301.21 56.67,301.44 56.94,301.77 57.21,301.15 57.49,301.2 57.76,300.33 58.03,302.38 58.3,302.63 58.58,301.38 58.85,301.68 59.12,301.3 59.4,302.09 59.67,302.07 59.94,300.7 60.21,301.44 60.49,300.82 60.76,301.86 61.03,301.7 61.31,301.45 61.58,302.75 61.85,301.19 62.12,302.29 62.4,302.38 62.67,302.56 62.94,301.47 63.22,301.59 63.49,302.55 63.76,301.93 64.04,303.64 64.31,302.48 64.58,303.08 64.85,301.85 65.13,301.68 65.4,302.56 65.67,301.95 65.95,303.63 66.22,302.39 66.49,302.43 66.76,303.1 67.04,301.9 67.31,302.5 67.58,302.93 67.86,302.23 68.13,303.3 68.4,301.81 68.68,304.08 68.95,304.2 69.22,303.58 69.49,302.96 69.77,303.57 70.04,303.78 70.31,301.52 70.59,302.63 70.86,303.29 71.13,303.75 71.4,303.76 71.68,303.39 71.95,302.7 72.22,303.22 72.5,303.09 72.77,305.27 73.04,303.02 73.31,303.99 73.59,302.61 73.86,303.41 74.13,303.98 74.41,303.61 74.68,303.62 74.95,303.25 75.22,303.12 75.5,303.94 75.77,302.81 76.04,303.85 76.32,303.95 76.59,304.92 76.86,303.55 77.14,302.45 77.41,303.51 77.68,303.93 77.95,304.03 78.23,303.33 78.5,304.82 78.77,304.59 79.05,303.34 79.32,304.47 79.59,302.92 79.86,303.98 80.14,304.07 80.41,304.7 80.68,304.65 80.96,304.63 81.23,303.75 81.5,304.82 81.78,304.31 82.05,303.57 82.32,304.41 82.59,303.66 82.87,306.02 83.14,304.82 83.41,303.6 83.69,304.17 83.96,304.92 84.23,303.7 84.5,304.33 84.78,303.98 85.05,303.87 85.32,302.88 85.6,304.45 85.87,304.19 86.14,304.69 86.41,304.56 86.69,303.39 86.96,304.97 87.23,303.71 87.51,304.21 87.78,303.83 88.05,304.01 88.33,303.92 88.6,305.58 88.87,303.76 89.14,304.86 89.42,305.17 89.69,304.78 89.96,304.59 90.24,302.68 90.51,303.63 90.78,302.98 91.05,304.12 91.33,303.26 91.6,304.66 91.87,304.43 92.15,304.26 92.42,305.35 92.69,302.44 92.96,302.84 93.24,303.91 93.51,305.29 93.78,303.34 94.06,303.83 94.33,302.92 94.6,304.15 94.88,304.44 95.15,305.85 95.42,303.8 95.69,305.18 95.97,305.22 96.24,304.19 96.51,305.39 96.79,304.25 97.06,305.14 97.33,305.67 97.6,305.95 97.88,304.71 98.15,303.32 98.42,304.62 98.7,304.84 98.97,304.27 99.24,304.98 99.51,305.69 99.79,305.09 100.06,304.68 100.33,305.11 100.61,305.71 100.88,305.23 101.15,304.32 101.43,306.63 101.7,305.82 101.97,305.43 102.24,305.47 102.52,304.63 102.79,304.64 103.06,304.87 103.34,304.65 103.61,305.08 103.88,305.76 104.15,305.26 104.43,304.72 104.7,305.24 104.97,306.57 105.25,305.27 105.52,305.62 105.79,305.44 106.06,305.02 106.34,305.21 106.61,304.77 106.88,306.17 107.16,305.11 107.43,306.29 107.7,305.31 107.98,304.39 108.25,306.1 108.52,306.04 108.79,304.72 109.07,306.01 109.34,305.82 109.61,305.01 109.89,306.49 110.16,306.38 110.43,304.88 110.7,306.48 110.98,304.81 111.25,306.49 111.52,304.77 111.8,304.07 112.07,304 112.34,303.28 112.61,304.54 112.89,305.25 113.16,305.57 113.43,305.42 113.71,304.75 113.98,305.74 114.25,305.08 114.53,304.89 114.8,304.57 115.07,305.4 115.34,305.94 115.62,305.12 115.89,305.25 116.16,303.45 116.44,305.17 116.71,305.52 116.98,305.84 117.25,305.28 117.53,305.45 117.8,305.24 118.07,305.44 118.35,305.32 118.62,305.16 118.89,305.35 119.16,305.91 119.44,305.97 119.71,305.04 119.98,306.55 120.26,306.1 120.53,305.78 120.8,305.67 121.08,304.52 121.35,305.09 121.62,306.27 121.89,305.23 122.17,305.13 122.44,305.18 122.71,304.01 122.99,306.45 123.26,305.91 123.53,304.93 123.8,304.6 124.08,306.34 124.35,306.08 124.62,304.62 124.9,305.69 125.17,305.25 125.44,305.04 125.71,305.98 125.99,304.26 126.26,305.97 126.53,307.14 126.81,306.04 127.08,306.37 127.35,305.26 127.62,305.62 127.9,305.61 128.17,306.03 128.44,305.53 128.72,306.26 128.99,305.14 129.26,306.39 129.54,304.77 129.81,305.55 130.08,306.51 130.35,307.71 130.63,306.24 130.9,306.52 131.17,305.76 131.45,305.8 131.72,305.96 131.99,305.83 132.26,305.33 132.54,305.94 132.81,305.81 133.08,305.67 133.36,306.98 133.63,307.31 133.9,305.46 134.18,306.49 134.45,305.76 134.72,305.26 134.99,305.42 135.27,306.51 135.54,304.97 135.81,305.69 136.09,306.14 136.36,306.7 136.63,305.96 136.9,306.45 137.18,305.39 137.45,305.19 137.72,306.01 138,306.62 138.27,305.39 138.54,305.1 138.81,306.44 139.09,305.22 139.36,305.95 139.63,305.58 139.91,307.13 140.18,303.91 140.45,307.01 140.73,306.41 141,305.99 141.27,306.85 141.54,306.08 141.82,305 142.09,305.23 142.36,305.93 142.64,306.41 142.91,306.21 143.18,304.86 143.45,304.36 143.73,305.82 144,305.96 144.27,306.7 144.55,306.45 144.82,306.05 145.09,305.67 145.36,306.34 145.64,305.9 145.91,305.94 146.18,304.35 146.46,305.52 146.73,305.59 147,305.86 147.28,305.86 147.55,306.73 147.82,304.98 148.09,304.8 148.37,305.28 148.64,305.39 148.91,306.51 149.19,306.96 149.46,306.19 149.73,306.62 150,305.5 150.28,305.51 150.55,306.64 150.82,306.16 151.1,306.44 151.37,303.98 151.64,305.81 151.91,307.45 152.19,305.58 152.46,304.24 152.73,305.06 153.01,306.13 153.28,304.17 153.55,306.59 153.82,305.41 154.1,306.09 154.37,305.81 154.64,305.65 154.92,305.58 155.19,306.11 155.46,306 155.74,305.87 156.01,305.63 156.28,307.24 156.55,305.4 156.83,306.15 157.1,305.49 157.37,304.86 157.65,306.21 157.92,305.94 158.19,306.39 158.46,306.32 158.74,306.14 159.01,306.95 159.28,306.18 159.56,305.54 159.83,304.34 160.1,305.5 160.38,304.91 160.65,305.85 160.92,306.61 161.19,307.34 161.47,307.01 161.74,307.53 162.01,304.9 162.29,306.07 162.56,306.15 162.83,305.87 163.1,306.01 163.38,305.65 163.65,306.5 163.92,306.11 164.2,304.62 164.47,306.57 164.74,306.24 165.01,305.96 165.29,307.08 165.56,306.08 165.83,305.51 166.11,306.25 166.38,304.79 166.65,305.74 166.93,305.94 167.2,305.67 167.47,306.04 167.74,305.1 168.02,305.4 168.29,304.83 168.56,306.25 168.84,306.64 169.11,306.43 169.38,305.51 169.65,306.47 169.93,305.84 170.2,305.98 170.47,306.39 170.75,306.66 171.02,305.61 171.29,306.16 171.56,305.75 171.84,305.69 172.11,306.4 172.38,306.11 172.66,304.65 172.93,305.27 173.2,306.63 173.48,305.73 173.75,306.05 174.02,304.55 174.29,305.12 174.57,305.99 174.84,306.42 175.11,304.73 175.39,306.09 175.66,305.45 175.93,306.41 176.2,305.79 176.48,306.09 176.75,307.3 177.02,304.81 177.3,305.53 177.57,305.89 177.84,305.94 178.11,305.3 178.39,305.35 178.66,306.47 178.93,304.62 179.21,306.05 179.48,305.43 179.75,305.27 180.02,305.72 180.3,305.47 180.57,306.01 180.84,304.99 181.12,304.59 181.39,305.99 181.66,306.31 181.94,305.33 182.21,306.35 182.48,305.59 182.75,306.1 183.03,306.53 183.3,306.32 183.57,305.55 183.85,305.6 184.12,304.05 184.39,303.94 184.66,305.59 184.94,306.2 185.21,306.74 185.48,306.3 185.76,306.9 186.03,305.86 186.3,305.62 186.57,304.98 186.85,306.04 187.12,305.7 187.39,307.31 187.67,305.85 187.94,305.64 188.21,305.1 188.49,306.6 188.76,306.18 189.03,305.8 189.3,305.84 189.58,306 189.85,305.5 190.12,307.48 190.4,306.3 190.67,305.43 190.94,305.76 191.21,306.16 191.49,305.83 191.76,304.51 192.03,306.09 192.31,304.91 192.58,306.76 192.85,306.45 193.12,305.75 193.4,305.28 193.67,307.06 193.94,304.67 194.22,305.21 194.49,305.06 194.76,305.5 195.04,307.73 195.31,305.65 195.58,305.6 195.85,307 196.13,306.4 196.4,306.56 196.67,306.7 196.95,307.2 197.22,305.38 197.49,306.86 197.76,305.87 198.04,304.91 198.31,305.63 198.58,305.55 198.86,305.57 199.13,305.39 199.4,306.06 199.68,304.67 199.95,306.73 200.22,305.27 200.49,305.1 200.77,305.58 201.04,305.81 201.31,305.9 201.59,305.94 201.86,306.59 202.13,307.2 202.4,305.76 202.68,304.16 202.95,305.96 203.22,306 203.5,305.93 203.77,305.32 204.04,305.72 204.31,305.13 204.59,305.18 204.86,305.16 205.13,305.9 205.41,306.56 205.68,305.04 205.95,305.36 206.23,306.17 206.5,305.39 206.77,305.99 207.04,306.95 207.32,304.9 207.59,305.28 207.86,305.04 208.14,306.36 208.41,306.05 208.68,305.38 208.95,306.46 209.23,305.39 209.5,307.3 209.77,306.42 210.05,305.19 210.32,305.27 210.59,306.51 210.86,306.53 211.14,306.61 211.41,307.21 211.68,305.97 211.96,305.84 212.23,306.59 212.5,306.01 212.77,304.72 213.05,305.28 213.32,305.91 213.59,305.84 213.87,306.56 214.14,306.35 214.41,306.12 214.69,304.88 214.96,306.56 215.23,304.52 215.5,305.78 215.78,305.14 216.05,306.56 216.32,305.93 216.6,306.72 216.87,306.34 217.14,305.64 217.41,306.48 217.69,305.73 217.96,306.53 218.23,306.03 218.51,305.8 218.78,306.85 219.05,305.33 219.32,305.54 219.6,306.63 219.87,305.07 220.14,306.35 220.42,306.65 220.69,305.79 220.96,306.25 221.24,306.36 221.51,305.58 221.78,304.65 222.05,305.07 222.33,304.83 222.6,306.57 222.87,307.14 223.15,305.91 223.42,306.4 223.69,306.45 223.96,306.51 224.24,306.4 224.51,306.83 224.78,306.7 225.06,305.68 225.33,305.98 225.6,305.31 225.88,305.16 226.15,305.69 226.42,305.94 226.69,307.17 226.97,306.2 227.24,306.4 227.51,304.68 227.79,305.4 228.06,304.92 228.33,306.21 228.6,305.79 228.88,306.02 229.15,305.31 229.42,306.63 229.7,306.68 229.97,305.13 230.24,304.25 230.51,305.58 230.79,304.65 231.06,305.67 231.33,304.26 231.61,305.06 231.88,305.1 232.15,306.13 232.43,305.81 232.7,306.58 232.97,305.6 233.24,304.83 233.52,306.89 233.79,305.74 234.06,307.44 234.34,305.73 234.61,306.27 234.88,305.55 235.15,305.55 235.43,306.9 235.7,306.06" fill="none" stroke="#159a9a" stroke-width="1.15" stroke-linejoin="round" />
<polyline points="39.2,297.45 39.47,297.56 39.75,297.31 40.02,296.17 40.29,299.23 40.56,298.98 40.84,298.84 41.11,300.27 41.38,300.19 41.66,300.64 41.93,301.94 42.2,301.72 42.48,303.06 42.75,303.87 43.02,302.12 43.29,302.79 43.57,302.11 43.84,303.52 44.11,300.97 44.39,302.52 44.66,302.38 44.93,303.01 45.2,302.81 45.48,303.55 45.75,304.12 46.02,304.24 46.3,303.41 46.57,304.61 46.84,303.79 47.11,303.68 47.39,304.77 47.66,303.87 47.93,305.24 48.21,304.78 48.48,306.65 48.75,304.72 49.03,305.46 49.3,303.87 49.57,304.73 49.84,307.55 50.12,305.98 50.39,306.03 50.66,304.14 50.94,305.05 51.21,305.43 51.48,306.63 51.75,307.56 52.03,306.72 52.3,305.65 52.57,306.32 52.85,308.6 53.12,306.47 53.39,306.29 53.66,306.15 53.94,305.48 54.21,307.19 54.48,305.96 54.76,306.46 55.03,306.25 55.3,307.74 55.58,307.65 55.85,307.08 56.12,307.02 56.39,308.31 56.67,306.71 56.94,307.56 57.21,306 57.49,307.81 57.76,308 58.03,308.38 58.3,307.28 58.58,309.92 58.85,309.11 59.12,308.02 59.4,307.71 59.67,309.93 59.94,308.64 60.21,307.92 60.49,308.02 60.76,309.7 61.03,307.13 61.31,308.51 61.58,308.99 61.85,307.44 62.12,308.75 62.4,307.47 62.67,308.14 62.94,308.1 63.22,308.29 63.49,308.9 63.76,307.61 64.04,310.58 64.31,307.57 64.58,310.11 64.85,308.77 65.13,306.73 65.4,308.54 65.67,309.31 65.95,307.48 66.22,308.06 66.49,308.14 66.76,308.04 67.04,307.59 67.31,311.09 67.58,307.88 67.86,308.88 68.13,309.86 68.4,309.43 68.68,307.76 68.95,309.63 69.22,308.78 69.49,307.69 69.77,309.2 70.04,309.82 70.31,310.2 70.59,308.95 70.86,309.66 71.13,309.7 71.4,308.79 71.68,309.62 71.95,309.57 72.22,309.49 72.5,307.83 72.77,309.35 73.04,308.8 73.31,309.64 73.59,310.07 73.86,311.32 74.13,310.32 74.41,308.36 74.68,308.78 74.95,310.32 75.22,310.56 75.5,308.7 75.77,310.46 76.04,308.45 76.32,310.89 76.59,310 76.86,309.39 77.14,309.46 77.41,309.82 77.68,308.61 77.95,309.15 78.23,309.62 78.5,308.71 78.77,309.5 79.05,309.97 79.32,309.59 79.59,309.75 79.86,311.14 80.14,309.99 80.41,309.57 80.68,307.99 80.96,309.91 81.23,310.6 81.5,310.8 81.78,310.84 82.05,310.37 82.32,310.84 82.59,310.39 82.87,309.72 83.14,311.13 83.41,310.73 83.69,311.72 83.96,309.23 84.23,310 84.5,310.6 84.78,309.32 85.05,309.71 85.32,310.62 85.6,309.93 85.87,311.53 86.14,311.48 86.41,311.23 86.69,309.03 86.96,309.26 87.23,309.07 87.51,311.41 87.78,311.21 88.05,310.74 88.33,311.65 88.6,310.92 88.87,310 89.14,311.54 89.42,311.18 89.69,310.15 89.96,311.19 90.24,311.08 90.51,310.44 90.78,311.94 91.05,310.7 91.33,310.56 91.6,309.91 91.87,310.14 92.15,311.23 92.42,311.18 92.69,309.46 92.96,309.69 93.24,312.07 93.51,311.63 93.78,311.94 94.06,309.81 94.33,310.07 94.6,310.25 94.88,311.33 95.15,311.4 95.42,307.87 95.69,310.96 95.97,309.88 96.24,309.49 96.51,310.16 96.79,309.47 97.06,308.13 97.33,309.68 97.6,311.19 97.88,311.15 98.15,310.37 98.42,310.42 98.7,310.52 98.97,310.05 99.24,310.45 99.51,310.48 99.79,309.83 100.06,310.14 100.33,311.02 100.61,311.08 100.88,311.65 101.15,310.51 101.43,310.63 101.7,309.58 101.97,311 102.24,309.17 102.52,309.64 102.79,310.92 103.06,311.22 103.34,310.6 103.61,311.48 103.88,311.49 104.15,310.66 104.43,310.07 104.7,312.15 104.97,311.74 105.25,308.9 105.52,309.86 105.79,311.78 106.06,310.81 106.34,311.44 106.61,311.92 106.88,311.33 107.16,310.59 107.43,311.52 107.7,309.39 107.98,310.38 108.25,310.89 108.52,309.79 108.79,311.18 109.07,309.74 109.34,312.22 109.61,310.72 109.89,310.62 110.16,311.5 110.43,310.01 110.7,311.07 110.98,311.53 111.25,311.69 111.52,311.88 111.8,309.88 112.07,309.34 112.34,311.34 112.61,311.04 112.89,310.44 113.16,310.96 113.43,311.87 113.71,310.92 113.98,310.72 114.25,310.23 114.53,310.59 114.8,308.02 115.07,309.57 115.34,312.45 115.62,309.87 115.89,312.23 116.16,309.8 116.44,310.15 116.71,310.61 116.98,310.83 117.25,311.94 117.53,310.88 117.8,310.4 118.07,309.98 118.35,311.65 118.62,311.88 118.89,311.11 119.16,310.56 119.44,311.28 119.71,311.01 119.98,310.02 120.26,311.45 120.53,310.92 120.8,311.01 121.08,310.51 121.35,310.88 121.62,311 121.89,310.53 122.17,310.6 122.44,310.61 122.71,311.34 122.99,311.81 123.26,310.09 123.53,311.33 123.8,311.88 124.08,311.38 124.35,310.9 124.62,308.46 124.9,310.04 125.17,312.52 125.44,311.16 125.71,310.16 125.99,310.02 126.26,310.92 126.53,312.18 126.81,308.62 127.08,311.99 127.35,310.64 127.62,310.49 127.9,311.54 128.17,310.9 128.44,311.81 128.72,311.13 128.99,310.65 129.26,310.74 129.54,310.39 129.81,310.95 130.08,312.22 130.35,310.45 130.63,309.48 130.9,310.45 131.17,310.76 131.45,312.59 131.72,311.57 131.99,311.03 132.26,310.8 132.54,310.45 132.81,313.28 133.08,313.69 133.36,310.85 133.63,309.4 133.9,309.82 134.18,312.1 134.45,311.53 134.72,309.87 134.99,310.96 135.27,312.9 135.54,310.28 135.81,313.78 136.09,311.04 136.36,312.21 136.63,311.28 136.9,310.8 137.18,312.43 137.45,310.07 137.72,309.75 138,309.78 138.27,311.1 138.54,311.7 138.81,310.76 139.09,312.47 139.36,311.22 139.63,310.17 139.91,311.99 140.18,311.63 140.45,311.57 140.73,311.18 141,312.02 141.27,309.86 141.54,311.97 141.82,313.16 142.09,312.27 142.36,310.72 142.64,312.23 142.91,309.4 143.18,311.11 143.45,312.46 143.73,311.4 144,309.78 144.27,310.39 144.55,311.87 144.82,310.33 145.09,310.78 145.36,311.2 145.64,310.95 145.91,310.59 146.18,310.48 146.46,312.05 146.73,313.62 147,309.94 147.28,311.29 147.55,310.01 147.82,311.7 148.09,310.98 148.37,309.76 148.64,312.73 148.91,309.85 149.19,311.09 149.46,310.82 149.73,309.95 150,310.17 150.28,311.89 150.55,311.46 150.82,310.25 151.1,312.28 151.37,311.1 151.64,311.68 151.91,311.76 152.19,312.15 152.46,310.69 152.73,310.78 153.01,312.18 153.28,310.49 153.55,310.85 153.82,310.12 154.1,310.87 154.37,309.63 154.64,310.59 154.92,311 155.19,311.58 155.46,310.57 155.74,311.14 156.01,310.75 156.28,310.76 156.55,312.22 156.83,311.04 157.1,310.9 157.37,310.15 157.65,310.31 157.92,310.09 158.19,310.48 158.46,312.41 158.74,312.1 159.01,310.24 159.28,310.49 159.56,312.09 159.83,310.08 160.1,310.09 160.38,309.91 160.65,308.55 160.92,309.03 161.19,311.71 161.47,310.37 161.74,310.28 162.01,310.08 162.29,311.2 162.56,310.81 162.83,310.52 163.1,310.41 163.38,309.87 163.65,309.64 163.92,311.13 164.2,310.07 164.47,310.84 164.74,310.3 165.01,310.84 165.29,309.02 165.56,312.2 165.83,310.97 166.11,309.72 166.38,308.2 166.65,310.03 166.93,310.64 167.2,311.36 167.47,308.8 167.74,310.31 168.02,309.35 168.29,310.61 168.56,310.84 168.84,312.42 169.11,310.37 169.38,312.06 169.65,311.64 169.93,309.98 170.2,311.41 170.47,309.2 170.75,309.45 171.02,309.18 171.29,311.27 171.56,310.14 171.84,311.93 172.11,311.1 172.38,310.07 172.66,309.79 172.93,309.48 173.2,310.52 173.48,312.4 173.75,311.59 174.02,311.63 174.29,310.86 174.57,310.06 174.84,311.38 175.11,310.22 175.39,310.93 175.66,309.3 175.93,311.08 176.2,310.54 176.48,309.21 176.75,311.31 177.02,310.67 177.3,310.71 177.57,312.53 177.84,311.92 178.11,308.59 178.39,308.89 178.66,309.65 178.93,309.79 179.21,309.59 179.48,308.78 179.75,311.96 180.02,309.26 180.3,310.84 180.57,310.36 180.84,310.96 181.12,310.64 181.39,310.93 181.66,309.82 181.94,309.95 182.21,309.87 182.48,310.27 182.75,311.3 183.03,308.22 183.3,310.93 183.57,309.14 183.85,310.22 184.12,310.47 184.39,311.13 184.66,310.32 184.94,309.86 185.21,310.38 185.48,310.9 185.76,311.57 186.03,311.22 186.3,309.1 186.57,310.32 186.85,310.77 187.12,311.43 187.39,311.71 187.67,309.75 187.94,311.18 188.21,309.74 188.49,308.83 188.76,310.54 189.03,311.57 189.3,310.25 189.58,309.58 189.85,310.45 190.12,310.27 190.4,309.97 190.67,312.23 190.94,309.84 191.21,309.93 191.49,310.88 191.76,310.35 192.03,310.35 192.31,312.28 192.58,310.31 192.85,308.93 193.12,310.9 193.4,309.08 193.67,310.63 193.94,311.09 194.22,310.08 194.49,312.72 194.76,310.92 195.04,310.73 195.31,309.97 195.58,309.16 195.85,310.68 196.13,310.59 196.4,311.71 196.67,310.39 196.95,310.52 197.22,312.34 197.49,310 197.76,311.33 198.04,310.86 198.31,309.97 198.58,311.03 198.86,309.92 199.13,311.91 199.4,310.23 199.68,312.09 199.95,309.96 200.22,310 200.49,311.66 200.77,308.49 201.04,309.59 201.31,311.54 201.59,309.63 201.86,310.18 202.13,310.74 202.4,309.15 202.68,309.9 202.95,311.01 203.22,311.22 203.5,310.54 203.77,309.27 204.04,310.3 204.31,308.28 204.59,309.52 204.86,311.2 205.13,309.21 205.41,311.57 205.68,311.4 205.95,310.62 206.23,310.33 206.5,310.47 206.77,309.23 207.04,310.84 207.32,311.03 207.59,310.48 207.86,311.62 208.14,310.99 208.41,312.31 208.68,312.69 208.95,309.82 209.23,309.62 209.5,310.18 209.77,309.13 210.05,309.76 210.32,309.42 210.59,310.01 210.86,308.55 211.14,310.1 211.41,311.51 211.68,311.31 211.96,310.81 212.23,310.05 212.5,310.31 212.77,308.97 213.05,309.79 213.32,311.36 213.59,310.79 213.87,309.49 214.14,309.64 214.41,312.21 214.69,310.47 214.96,310.56 215.23,310.96 215.5,309.38 215.78,310.68 216.05,309.32 216.32,310.35 216.6,309.94 216.87,311.38 217.14,308.52 217.41,308.82 217.69,309.35 217.96,309.67 218.23,308.87 218.51,309.36 218.78,309.47 219.05,310.91 219.32,309.1 219.6,308.97 219.87,309.33 220.14,310.37 220.42,310.7 220.69,308.02 220.96,309.48 221.24,310.85 221.51,309.9 221.78,309.93 222.05,310.63 222.33,308.56 222.6,310.33 222.87,309.94 223.15,309.97 223.42,310.36 223.69,309.74 223.96,311.62 224.24,309.44 224.51,311.07 224.78,309.54 225.06,309 225.33,309.92 225.6,309.07 225.88,310.95 226.15,309.23 226.42,309.4 226.69,310.14 226.97,309.52 227.24,311.37 227.51,310.89 227.79,309.14 228.06,311.88 228.33,308.41 228.6,309.55 228.88,310.52 229.15,310.21 229.42,309.61 229.7,309.78 229.97,309.5 230.24,308.73 230.51,309.97 230.79,309.4 231.06,309.38 231.33,311.11 231.61,309.78 231.88,309.71 232.15,310.84 232.43,310.66 232.7,309.47 232.97,311.38 233.24,311.44 233.52,308.48 233.79,308.94 234.06,308.67 234.34,308.72 234.61,308.03 234.88,308.54 235.15,308.09 235.43,309.62 235.7,310.19" fill="none" stroke="#e020e0" stroke-width="1.15" stroke-linejoin="round" />
<rect x="39.2" y="194.3" width="196.5" height="138.5" fill="none" stroke="#111" stroke-width="1" />
<line x1="37.4" y1="332.8" x2="39.2" y2="332.8" stroke="#111" stroke-width="0.8" />
<text x="36.4" y="335.8" font-family="'Liberation Serif', 'Times New Roman', serif" font-size="8.8" fill="#111" text-anchor="end" stroke="#111" stroke-width="0.22">0.00</text>
<line x1="38.2" y1="321.26" x2="39.2" y2="321.26" stroke="#111" stroke-width="0.7" />
<line x1="37.4" y1="309.72" x2="39.2" y2="309.72" stroke="#111" stroke-width="0.8" />
<text x="36.4" y="312.72" font-family="'Liberation Serif', 'Times New Roman', serif" font-size="8.8" fill="#111" text-anchor="end" stroke="#111" stroke-width="0.22">0.03</text>
<line x1="38.2" y1="298.18" x2="39.2" y2="298.18" stroke="#111" stroke-width="0.7" />
<line x1="37.4" y1="286.63" x2="39.2" y2="286.63" stroke="#111" stroke-width="0.8" />
<text x="36.4" y="289.63" font-family="'Liberation Serif', 'Times New Roman', serif" font-size="8.8" fill="#111" text-anchor="end" stroke="#111" stroke-width="0.22">0.06</text>
<line x1="38.2" y1="275.09" x2="39.2" y2="275.09" stroke="#111" stroke-width="0.7" />
<line x1="37.4" y1="263.55" x2="39.2" y2="263.55" stroke="#111" stroke-width="0.8" />
<text x="36.4" y="266.55" font-family="'Liberation Serif', 'Times New Roman', serif" font-size="8.8" fill="#111" text-anchor="end" stroke="#111" stroke-width="0.22">0.09</text>
<line x1="38.2" y1="252.01" x2="39.2" y2="252.01" stroke="#111" stroke-width="0.7" />
<line x1="37.4" y1="240.47" x2="39.2" y2="240.47" stroke="#111" stroke-width="0.8" />
<text x="36.4" y="243.47" font-family="'Liberation Serif', 'Times New Roman', serif" font-size="8.8" fill="#111" text-anchor="end" stroke="#111" stroke-width="0.22">0.12</text>
<line x1="38.2" y1="228.93" x2="39.2" y2="228.93" stroke="#111" stroke-width="0.7" />
<line x1="37.4" y1="217.38" x2="39.2" y2="217.38" stroke="#111" stroke-width="0.8" />
<text x="36.4" y="220.38" font-family="'Liberation Serif', 'Times New Roman', serif" font-size="8.8" fill="#111" text-anchor="end" stroke="#111" stroke-width="0.22">0.15</text>
<line x1="38.2" y1="205.84" x2="39.2" y2="205.84" stroke="#111" stroke-width="0.7" />
<line x1="37.4" y1="194.3" x2="39.2" y2="194.3" stroke="#111" stroke-width="0.8" />
<text x="36.4" y="197.3" font-family="'Liberation Serif', 'Times New Roman', serif" font-size="8.8" fill="#111" text-anchor="end" stroke="#111" stroke-width="0.22">0.18</text>
<line x1="39.2" y1="332.8" x2="39.2" y2="334.6" stroke="#111" stroke-width="0.8" />
<text x="39.2" y="343.3" font-family="'Liberation Serif', 'Times New Roman', serif" font-size="8.8" fill="#111" text-anchor="middle" stroke="#111" stroke-width="0.22">0</text>
<line x1="55.58" y1="332.8" x2="55.58" y2="333.8" stroke="#111" stroke-width="0.7" />
<line x1="71.95" y1="332.8" x2="71.95" y2="334.6" stroke="#111" stroke-width="0.8" />
<text x="71.95" y="343.3" font-family="'Liberation Serif', 'Times New Roman', serif" font-size="8.8" fill="#111" text-anchor="middle" stroke="#111" stroke-width="0.22">600</text>
<line x1="88.33" y1="332.8" x2="88.33" y2="333.8" stroke="#111" stroke-width="0.7" />
<line x1="104.7" y1="332.8" x2="104.7" y2="334.6" stroke="#111" stroke-width="0.8" />
<text x="104.7" y="343.3" font-family="'Liberation Serif', 'Times New Roman', serif" font-size="8.8" fill="#111" text-anchor="middle" stroke="#111" stroke-width="0.22">1200</text>
<line x1="121.08" y1="332.8" x2="121.08" y2="333.8" stroke="#111" stroke-width="0.7" />
<line x1="137.45" y1="332.8" x2="137.45" y2="334.6" stroke="#111" stroke-width="0.8" />
<text x="137.45" y="343.3" font-family="'Liberation Serif', 'Times New Roman', serif" font-size="8.8" fill="#111" text-anchor="middle" stroke="#111" stroke-width="0.22">1800</text>
<line x1="153.82" y1="332.8" x2="153.82" y2="333.8" stroke="#111" stroke-width="0.7" />
<line x1="170.2" y1="332.8" x2="170.2" y2="334.6" stroke="#111" stroke-width="0.8" />
<text x="170.2" y="343.3" font-family="'Liberation Serif', 'Times New Roman', serif" font-size="8.8" fill="#111" text-anchor="middle" stroke="#111" stroke-width="0.22">2400</text>
<line x1="186.57" y1="332.8" x2="186.57" y2="333.8" stroke="#111" stroke-width="0.7" />
<line x1="202.95" y1="332.8" x2="202.95" y2="334.6" stroke="#111" stroke-width="0.8" />
<text x="202.95" y="343.3" font-family="'Liberation Serif', 'Times New Roman', serif" font-size="8.8" fill="#111" text-anchor="middle" stroke="#111" stroke-width="0.22">3000</text>
<line x1="219.32" y1="332.8" x2="219.32" y2="333.8" stroke="#111" stroke-width="0.7" />
<line x1="235.7" y1="332.8" x2="235.7" y2="334.6" stroke="#111" stroke-width="0.8" />
<text x="235.7" y="343.3" font-family="'Liberation Serif', 'Times New Roman', serif" font-size="8.8" fill="#111" text-anchor="middle" stroke="#111" stroke-width="0.22">3600</text>
<text x="138.9" y="352" font-family="'Liberation Serif', 'Times New Roman', serif" font-size="9" fill="#111" text-anchor="middle" stroke="#111" stroke-width="0.22">Time(s)</text>
<text x="17.5" y="262" font-family="'Liberation Serif', 'Times New Roman', serif" font-size="8.4" fill="#111" text-anchor="middle" transform="rotate(-90 17.5 262)" stroke="#111" stroke-width="0.22">Friction coefficient</text>
<text x="6" y="189.4" font-family="'Liberation Serif', 'Times New Roman', serif" font-size="14.5" fill="#000" text-anchor="start" stroke="#000" stroke-width="0.25">(c)</text>
<line x1="72.7" y1="203.3" x2="89.1" y2="203.3" stroke="#000000" stroke-width="0.9" />
<text x="91.2" y="205.9" font-family="'Liberation Serif', 'Times New Roman', serif" font-size="7.8" fill="#111" text-anchor="start" stroke="#111" stroke-width="0.22">PEG</text>
<line x1="121" y1="203.3" x2="137.4" y2="203.3" stroke="#e0201c" stroke-width="0.9" />
<text x="139.5" y="205.9" font-family="'Liberation Serif', 'Times New Roman', serif" font-size="7.8" fill="#111" text-anchor="start" stroke="#111" stroke-width="0.22">0.25wt%</text>
<line x1="171.3" y1="203.3" x2="187.7" y2="203.3" stroke="#1a1ae0" stroke-width="0.9" />
<text x="189.8" y="205.9" font-family="'Liberation Serif', 'Times New Roman', serif" font-size="7.8" fill="#111" text-anchor="start" stroke="#111" stroke-width="0.22">0.5wt%</text>
<line x1="72.7" y1="212.7" x2="89.1" y2="212.7" stroke="#159a9a" stroke-width="0.9" />
<text x="91.2" y="215.3" font-family="'Liberation Serif', 'Times New Roman', serif" font-size="7.8" fill="#111" text-anchor="start" stroke="#111" stroke-width="0.22">0.75wt%</text>
<line x1="121" y1="212.7" x2="137.4" y2="212.7" stroke="#e020e0" stroke-width="0.9" />
<text x="139.5" y="215.3" font-family="'Liberation Serif', 'Times New Roman', serif" font-size="7.8" fill="#111" text-anchor="start" stroke="#111" stroke-width="0.22">1wt%</text>
<line x1="171.3" y1="212.7" x2="187.7" y2="212.7" stroke="#7a7a00" stroke-width="0.9" />
<text x="189.8" y="215.3" font-family="'Liberation Serif', 'Times New Roman', serif" font-size="7.8" fill="#111" text-anchor="start" stroke="#111" stroke-width="0.22">2wt%</text>
<defs><radialGradient id="gball" cx="0.5" cy="0.5" r="0.5" fx="0.38" fy="0.33"><stop offset="0" stop-color="#ffffff"/><stop offset="0.35" stop-color="#d8d8d8"/><stop offset="0.75" stop-color="#5a5a5a"/><stop offset="1" stop-color="#111111"/></radialGradient><radialGradient id="gball2" cx="0.5" cy="0.5" r="0.5" fx="0.4" fy="0.35"><stop offset="0" stop-color="#ffffff"/><stop offset="0.5" stop-color="#e4e4e4"/><stop offset="0.85" stop-color="#8a8a8a"/><stop offset="1" stop-color="#444444"/></radialGradient><radialGradient id="gob" cx="0.5" cy="0.5" r="0.5" fx="0.45" fy="0.42"><stop offset="0" stop-color="#ffffff"/><stop offset="0.5" stop-color="#fdf6ea"/><stop offset="0.72" stop-color="#f6cf92"/><stop offset="0.86" stop-color="#f0a444"/><stop offset="1" stop-color="#e08a22"/></radialGradient></defs>
<text x="241.2" y="192.2" font-family="'Liberation Serif', 'Times New Roman', serif" font-size="14" fill="#000" text-anchor="start" stroke="#000" stroke-width="0.25">(d)</text>
<rect x="318" y="196.6" width="92.4" height="10.8" fill="#e8bb7a" stroke="none" stroke-width="1" rx="2.2"/>
<rect x="334.4" y="189.6" width="60" height="6.4" fill="#00e6f2" stroke="none" stroke-width="1" rx="3.2"/>
<line x1="419" y1="203" x2="437.6" y2="203" stroke="#111" stroke-width="0.7" /><polygon points="440,203 437,201.65 437,204.35" fill="#111"/>
<path d="M449.5,197.8 H459.8 V203.8 H479.5 V197.8 H537.8 Q539.8,197.8 539.8,199.8 V205.4 Q539.8,207.4 537.8,207.4 H449.5 Q447.5,207.4 447.5,205.4 V199.8 Q447.5,197.8 449.5,197.8 Z" fill="#e8bb7a"/>
<rect x="482.5" y="193.2" width="51.5" height="4.6" fill="#f01010" stroke="none" stroke-width="1" rx="2.2"/>
<text x="442.3" y="184.4" font-family="'Liberation Serif', 'Times New Roman', serif" font-size="5.8" fill="#222" text-anchor="start" textLength="40.2" lengthAdjust="spacingAndGlyphs" >Groove / Scratch</text>
<line x1="452.5" y1="187.5" x2="463.99" y2="198.37" stroke="#111" stroke-width="0.6" /><polygon points="465.5,199.8 464.42,197.16 462.81,198.86" fill="#111"/>
<circle cx="262.8" cy="251.8" r="7.4" fill="url(#gob)" stroke="#d98422" stroke-width="0.7" />
<circle cx="272.2" cy="242.2" r="8.4" fill="url(#gob)" stroke="#d98422" stroke-width="0.7" />
<circle cx="283" cy="253.8" r="8.6" fill="url(#gob)" stroke="#d98422" stroke-width="0.7" />
<circle cx="267.2" cy="258.4" r="9" fill="url(#gob)" stroke="#d98422" stroke-width="0.7" />
<ellipse cx="271" cy="250.5" rx="4.2" ry="1.4" fill="none" stroke="#7a4a10" stroke-width="0.6"/>
<text x="264.4" y="213.8" font-family="'Liberation Serif', 'Times New Roman', serif" font-size="7.6" fill="#111" text-anchor="start" stroke="#111" stroke-width="0.15">Load</text>
<line x1="272.2" y1="216.8" x2="272.2" y2="231.12" stroke="#111" stroke-width="0.9" /><polygon points="272.2,234 273.82,230.4 270.58,230.4" fill="#111"/>
<text x="245.8" y="221.2" font-family="'Liberation Serif', 'Times New Roman', serif" font-size="4.4" fill="#222" text-anchor="start" font-style="italic">ste direction</text>
<path d="M249,226 Q254,233 261,228" fill="none" stroke="#111" stroke-width="0.8"/>
<polygon points="263,226.5 259.6,227.2 261.8,229.8" fill="#111"/>
<path d="M247.5,248.5 L249.5,244 Q251,240 253.5,240.5 Q255.5,242 253,245 Q251,246.5 249,245.5" fill="none" stroke="#111" stroke-width="0.8"/>
<polygon points="246.5,249.5 248.8,246.2 250,248" fill="#111"/>
<line x1="271" y1="245" x2="306.5" y2="214.5" stroke="#333" stroke-width="0.6" stroke-dasharray="1.5,1.2"/>
<line x1="275.5" y1="258.2" x2="307.5" y2="286.5" stroke="#333" stroke-width="0.6" stroke-dasharray="1.5,1.2"/>
<rect x="348.4" y="233.3" width="50.2" height="36" fill="none" stroke="#333" stroke-width="0.8" rx="3" stroke-dasharray="1.2,1.0"/>
<line x1="354.6" y1="246.9" x2="354.6" y2="242.3" stroke="#222" stroke-width="0.6" />
<line x1="352.4" y1="243.7" x2="356.8" y2="243.7" stroke="#222" stroke-width="0.7" />
<line x1="354.6" y1="255.5" x2="354.6" y2="260.1" stroke="#222" stroke-width="0.6" />
<line x1="352.4" y1="258.9" x2="356.8" y2="258.9" stroke="#222" stroke-width="0.7" />
<circle cx="354.6" cy="260.7" r="0.5" fill="#111" stroke="none" stroke-width="1" />
<circle cx="354.6" cy="251.2" r="4.3" fill="url(#gball)" stroke="#111" stroke-width="0.9" />
<path d="M352.4,247.3 A4.3,4.3 0 0 0 352.4,255.1" fill="none" stroke="#444" stroke-width="0.6"/>
<circle cx="354.6" cy="238.7" r="1.7" fill="#8e8ee6" stroke="none" stroke-width="1" opacity="0.9"/>
<circle cx="354.6" cy="265" r="1.7" fill="#8e8ee6" stroke="none" stroke-width="1" opacity="0.9"/>
<line x1="366.8" y1="246.9" x2="366.8" y2="242.3" stroke="#222" stroke-width="0.6" />
<line x1="364.6" y1="243.7" x2="369" y2="243.7" stroke="#222" stroke-width="0.7" />
<line x1="366.8" y1="255.5" x2="366.8" y2="260.1" stroke="#222" stroke-width="0.6" />
<line x1="364.6" y1="258.9" x2="369" y2="258.9" stroke="#222" stroke-width="0.7" />
<circle cx="366.8" cy="260.7" r="0.5" fill="#111" stroke="none" stroke-width="1" />
<circle cx="366.8" cy="251.2" r="4.3" fill="url(#gball)" stroke="#111" stroke-width="0.9" />
<path d="M364.6,247.3 A4.3,4.3 0 0 0 364.6,255.1" fill="none" stroke="#444" stroke-width="0.6"/>
<circle cx="366.8" cy="238.7" r="1.7" fill="#8e8ee6" stroke="none" stroke-width="1" opacity="0.9"/>
<circle cx="366.8" cy="265" r="1.7" fill="#8e8ee6" stroke="none" stroke-width="1" opacity="0.9"/>
<line x1="379" y1="246.9" x2="379" y2="242.3" stroke="#222" stroke-width="0.6" />
<line x1="376.8" y1="243.7" x2="381.2" y2="243.7" stroke="#222" stroke-width="0.7" />
<line x1="379" y1="255.5" x2="379" y2="260.1" stroke="#222" stroke-width="0.6" />
<line x1="376.8" y1="258.9" x2="381.2" y2="258.9" stroke="#222" stroke-width="0.7" />
<circle cx="379" cy="260.7" r="0.5" fill="#111" stroke="none" stroke-width="1" />
<circle cx="379" cy="251.2" r="4.3" fill="url(#gball)" stroke="#111" stroke-width="0.9" />
<path d="M376.8,247.3 A4.3,4.3 0 0 0 376.8,255.1" fill="none" stroke="#444" stroke-width="0.6"/>
<circle cx="379" cy="238.7" r="1.7" fill="#8e8ee6" stroke="none" stroke-width="1" opacity="0.9"/>
<circle cx="379" cy="265" r="1.7" fill="#8e8ee6" stroke="none" stroke-width="1" opacity="0.9"/>
<line x1="391.3" y1="246.9" x2="391.3" y2="242.3" stroke="#222" stroke-width="0.6" />
<line x1="389.1" y1="243.7" x2="393.5" y2="243.7" stroke="#222" stroke-width="0.7" />
<line x1="391.3" y1="255.5" x2="391.3" y2="260.1" stroke="#222" stroke-width="0.6" />
<line x1="389.1" y1="258.9" x2="393.5" y2="258.9" stroke="#222" stroke-width="0.7" />
<circle cx="391.3" cy="260.7" r="0.5" fill="#111" stroke="none" stroke-width="1" />
<circle cx="391.3" cy="251.2" r="4.3" fill="url(#gball)" stroke="#111" stroke-width="0.9" />
<path d="M389.1,247.3 A4.3,4.3 0 0 0 389.1,255.1" fill="none" stroke="#444" stroke-width="0.6"/>
<circle cx="391.3" cy="238.7" r="1.7" fill="#8e8ee6" stroke="none" stroke-width="1" opacity="0.9"/>
<circle cx="391.3" cy="265" r="1.7" fill="#8e8ee6" stroke="none" stroke-width="1" opacity="0.9"/>
<text x="311" y="256.4" font-family="'Liberation Serif', 'Times New Roman', serif" font-size="6.4" fill="#222" text-anchor="start" textLength="33" lengthAdjust="spacingAndGlyphs" >Rolling effect</text>
<line x1="351.3" y1="269.3" x2="357.8" y2="283.5" stroke="#555" stroke-width="0.5" stroke-dasharray="1.5,1.2"/>
<line x1="393.8" y1="270.4" x2="363.3" y2="283.5" stroke="#555" stroke-width="0.5" stroke-dasharray="1.5,1.2"/>
<rect x="320.7" y="289.4" width="92.8" height="11.1" fill="#e8bb7a" stroke="none" stroke-width="1" rx="2.2"/>
<rect x="336" y="281.2" width="60" height="8.8" fill="#00e6f2" stroke="none" stroke-width="1" rx="3"/>
<circle cx="328" cy="292.4" r="1.45" fill="#80501e" stroke="none" stroke-width="1" />
<circle cx="340" cy="292.4" r="1.45" fill="#80501e" stroke="none" stroke-width="1" />
<circle cx="352" cy="292.4" r="1.45" fill="#80501e" stroke="none" stroke-width="1" />
<circle cx="364.5" cy="292.4" r="1.45" fill="#80501e" stroke="none" stroke-width="1" />
<circle cx="377" cy="292.4" r="1.45" fill="#80501e" stroke="none" stroke-width="1" />
<circle cx="389.5" cy="292.4" r="1.45" fill="#80501e" stroke="none" stroke-width="1" />
<circle cx="402" cy="292.4" r="1.45" fill="#80501e" stroke="none" stroke-width="1" />
<circle cx="341.5" cy="286.2" r="2.6" fill="url(#gball2)" stroke="#222" stroke-width="0.5" />
<circle cx="348.4" cy="283.6" r="2.6" fill="url(#gball2)" stroke="#222" stroke-width="0.5" />
<circle cx="358.4" cy="286.8" r="2.6" fill="url(#gball2)" stroke="#222" stroke-width="0.5" />
<circle cx="367.7" cy="286" r="2.6" fill="url(#gball2)" stroke="#222" stroke-width="0.5" />
<circle cx="378.6" cy="285.5" r="2.6" fill="url(#gball2)" stroke="#222" stroke-width="0.5" />
<circle cx="388.4" cy="285.4" r="2.6" fill="url(#gball2)" stroke="#222" stroke-width="0.5" />
<path d="M409,290 Q410,283.5 415,283.8 Q418.5,284.6 419.5,288" fill="none" stroke="#111" stroke-width="0.6"/>
<polygon points="419.8,289.8 418,286.5 421,287" fill="#111"/>
<text x="413.2" y="284" font-family="'Liberation Serif', 'Times New Roman', serif" font-size="5" fill="#111" text-anchor="start" >e</text>
<line x1="421" y1="296.7" x2="439.1" y2="296.7" stroke="#111" stroke-width="0.7" /><polygon points="441.5,296.7 438.5,295.35 438.5,298.05" fill="#111"/>
<rect x="447.7" y="289.9" width="92.7" height="11" fill="#e8bb7a" stroke="none" stroke-width="1" rx="2.2"/>
<line x1="486.4" y1="288.9" x2="540" y2="288.9" stroke="#1822d8" stroke-width="2.6" stroke-linecap="round"/>
<text x="501" y="286.3" font-family="'Liberation Serif', 'Times New Roman', serif" font-size="5.6" fill="#2a2ad0" text-anchor="start" >Protective film</text>
<circle cx="455" cy="284.6" r="3.5" fill="url(#gball2)" stroke="#222" stroke-width="0.5" />
<circle cx="465.6" cy="291.2" r="3.5" fill="url(#gball2)" stroke="#222" stroke-width="0.5" />
<circle cx="473.6" cy="291.2" r="3.5" fill="url(#gball2)" stroke="#222" stroke-width="0.5" />
<circle cx="481" cy="291" r="3.5" fill="url(#gball2)" stroke="#222" stroke-width="0.5" />
<circle cx="464" cy="284.4" r="3.5" fill="url(#gball2)" stroke="#222" stroke-width="0.5" />
<circle cx="471.6" cy="285.2" r="3.5" fill="url(#gball2)" stroke="#222" stroke-width="0.5" />
<circle cx="478" cy="284.4" r="3.5" fill="url(#gball2)" stroke="#222" stroke-width="0.5" />
<circle cx="485" cy="283.6" r="3.5" fill="url(#gball2)" stroke="#222" stroke-width="0.5" />
<circle cx="493" cy="283.8" r="3.5" fill="url(#gball2)" stroke="#222" stroke-width="0.5" />
<rect x="458.4" y="278" width="31.6" height="23" fill="none" stroke="#20dd20" stroke-width="1.2" rx="6" stroke-dasharray="1.2,1.0"/>
<text x="423" y="268.2" font-family="'Liberation Serif', 'Times New Roman', serif" font-size="5.8" fill="#222" text-anchor="start" textLength="49" lengthAdjust="spacingAndGlyphs" >Self-mending effect</text>
<line x1="449.5" y1="271" x2="459" y2="280.06" stroke="#111" stroke-width="0.6" /><polygon points="460.5,281.5 459.43,278.86 457.81,280.55" fill="#111"/>
<text x="481" y="269.4" font-family="'Liberation Serif', 'Times New Roman', serif" font-size="5.6" fill="#222" text-anchor="start" >Friction-induce transfer</text>
<line x1="508" y1="243" x2="508" y2="238.4" stroke="#222" stroke-width="0.6" />
<line x1="505.8" y1="239.8" x2="510.2" y2="239.8" stroke="#222" stroke-width="0.7" />
<line x1="508" y1="251.6" x2="508" y2="256.2" stroke="#222" stroke-width="0.6" />
<line x1="505.8" y1="255" x2="510.2" y2="255" stroke="#222" stroke-width="0.7" />
<circle cx="508" cy="256.8" r="0.5" fill="#111" stroke="none" stroke-width="1" />
<circle cx="508" cy="247.3" r="4.3" fill="url(#gball2)" stroke="#111" stroke-width="0.9" />
<path d="M505.8,243.4 A4.3,4.3 0 0 0 505.8,251.2" fill="none" stroke="#444" stroke-width="0.6"/>
<circle cx="508" cy="234.9" r="1.7" fill="#8e8ee6" stroke="none" stroke-width="1" opacity="0.9"/>
<circle cx="508" cy="261.8" r="1.7" fill="#8e8ee6" stroke="none" stroke-width="1" opacity="0.9"/>
<line x1="521" y1="243" x2="521" y2="238.4" stroke="#222" stroke-width="0.6" />
<line x1="518.8" y1="239.8" x2="523.2" y2="239.8" stroke="#222" stroke-width="0.7" />
<line x1="521" y1="251.6" x2="521" y2="256.2" stroke="#222" stroke-width="0.6" />
<line x1="518.8" y1="255" x2="523.2" y2="255" stroke="#222" stroke-width="0.7" />
<circle cx="521" cy="256.8" r="0.5" fill="#111" stroke="none" stroke-width="1" />
<circle cx="521" cy="247.3" r="4.3" fill="url(#gball2)" stroke="#111" stroke-width="0.9" />
<path d="M518.8,243.4 A4.3,4.3 0 0 0 518.8,251.2" fill="none" stroke="#444" stroke-width="0.6"/>
<circle cx="521" cy="234.9" r="1.7" fill="#8e8ee6" stroke="none" stroke-width="1" opacity="0.9"/>
<circle cx="521" cy="261.8" r="1.7" fill="#8e8ee6" stroke="none" stroke-width="1" opacity="0.9"/>
<path d="M529.5,254.5 Q542,258 541.5,266 Q540.5,273 535.5,275.5" fill="none" stroke="#111" stroke-width="0.6"/>
<polygon points="534,276.5 537.2,273.2 537.8,276.2" fill="#111"/>
<line x1="252.5" y1="327.6" x2="273" y2="327.6" stroke="#00e6f2" stroke-width="3.4" stroke-linecap="round"/>
<text x="281.3" y="330.2" font-family="'Liberation Serif', 'Times New Roman', serif" font-size="7.1" fill="#222" text-anchor="start" textLength="53" lengthAdjust="spacingAndGlyphs" >Neat PEG oil film</text>
<circle cx="356.6" cy="326.2" r="3.4" fill="url(#gball)" stroke="#111" stroke-width="0.45" />
<path d="M359.8,326.2 Q361.5,323.8 363,326.2" fill="none" stroke="#333" stroke-width="0.5"/>
<line x1="359.5" y1="326.2" x2="362" y2="326.2" stroke="#333" stroke-width="0.5" />
<circle cx="364.3" cy="326.2" r="1.1" fill="#6a6ad8" stroke="none" stroke-width="1" />
<line x1="375" y1="326" x2="385.4" y2="326" stroke="#333" stroke-width="0.9" />
<circle cx="402.7" cy="325.5" r="7.3" fill="url(#gball)" stroke="#111" stroke-width="0.45" />
<text x="392.7" y="319" font-family="'Liberation Serif', 'Times New Roman', serif" font-size="2.6" fill="#333" text-anchor="start" >HO</text>
<text x="410.2" y="319" font-family="'Liberation Serif', 'Times New Roman', serif" font-size="2.6" fill="#333" text-anchor="start" >COOH</text>
<text x="411.3" y="326.7" font-family="'Liberation Serif', 'Times New Roman', serif" font-size="2.6" fill="#333" text-anchor="start" >OH</text>
<text x="390.2" y="326.7" font-family="'Liberation Serif', 'Times New Roman', serif" font-size="2.6" fill="#333" text-anchor="start" >Y</text>
<text x="392.7" y="334.3" font-family="'Liberation Serif', 'Times New Roman', serif" font-size="2.6" fill="#333" text-anchor="start" >HO</text>
<text x="401.7" y="336.5" font-family="'Liberation Serif', 'Times New Roman', serif" font-size="2.6" fill="#333" text-anchor="start" >COOH</text>
<text x="402.7" y="316" font-family="'Liberation Serif', 'Times New Roman', serif" font-size="2.6" fill="#333" text-anchor="start" >Y</text>
<text x="365.4" y="343.3" font-family="'Liberation Serif', 'Times New Roman', serif" font-size="4.8" fill="#2a2ad0" text-anchor="start" textLength="44" lengthAdjust="spacingAndGlyphs" >Y<tspan font-size="3" dy="-1.5">+</tspan><tspan dy="1.5">=BSeB</tspan><tspan font-size="3" dy="-1.5">+</tspan><tspan dy="1.5">,PF</tspan><tspan font-size="3" dy="1">6</tspan><tspan dy="-1">,NTf</tspan><tspan font-size="3" dy="1">2</tspan></text>
<line x1="439.4" y1="321.8" x2="459.6" y2="321.8" stroke="#f01010" stroke-width="2.6" stroke-linecap="round"/>
<text x="470.8" y="323.8" font-family="'Liberation Serif', 'Times New Roman', serif" font-size="7" fill="#222" text-anchor="start" textLength="34.1" lengthAdjust="spacingAndGlyphs" >Hybrid film</text>
<line x1="439.4" y1="342.5" x2="459.6" y2="342.5" stroke="#1822d8" stroke-width="2.6" stroke-linecap="round"/>
<text x="470.8" y="338.3" font-family="'Liberation Serif', 'Times New Roman', serif" font-size="7" fill="#222" text-anchor="start" textLength="66.9" lengthAdjust="spacingAndGlyphs" >Hybrid film containing</text>
<text x="470.8" y="345.6" font-family="'Liberation Serif', 'Times New Roman', serif" font-size="7" fill="#222" text-anchor="start" textLength="67.6" lengthAdjust="spacingAndGlyphs" >aggregated carbons and</text>
<text x="470.8" y="352.8" font-family="'Liberation Serif', 'Times New Roman', serif" font-size="7" fill="#222" text-anchor="start" textLength="39.1" lengthAdjust="spacingAndGlyphs" >active elements</text>
<rect x="6" y="371" width="328" height="157.2" fill="none" stroke="#b4b4b4" stroke-width="1" />
<line x1="55.4" y1="446.95" x2="316.8" y2="446.95" stroke="#dcdcdc" stroke-width="0.6" />
<line x1="55.4" y1="437.2" x2="316.8" y2="437.2" stroke="#dcdcdc" stroke-width="0.6" />
<line x1="55.4" y1="427.45" x2="316.8" y2="427.45" stroke="#dcdcdc" stroke-width="0.6" />
<line x1="55.4" y1="417.7" x2="316.8" y2="417.7" stroke="#dcdcdc" stroke-width="0.6" />
<line x1="55.4" y1="407.95" x2="316.8" y2="407.95" stroke="#dcdcdc" stroke-width="0.6" />
<line x1="55.4" y1="398.2" x2="316.8" y2="398.2" stroke="#dcdcdc" stroke-width="0.6" />
<line x1="55.4" y1="388.45" x2="316.8" y2="388.45" stroke="#dcdcdc" stroke-width="0.6" />
<line x1="55.4" y1="378.7" x2="316.8" y2="378.7" stroke="#dcdcdc" stroke-width="0.6" />
<line x1="98.97" y1="378.7" x2="98.97" y2="456.7" stroke="#dcdcdc" stroke-width="0.6" />
<line x1="142.53" y1="378.7" x2="142.53" y2="456.7" stroke="#dcdcdc" stroke-width="0.6" />
<line x1="186.1" y1="378.7" x2="186.1" y2="456.7" stroke="#dcdcdc" stroke-width="0.6" />
<line x1="229.67" y1="378.7" x2="229.67" y2="456.7" stroke="#dcdcdc" stroke-width="0.6" />
<line x1="273.23" y1="378.7" x2="273.23" y2="456.7" stroke="#dcdcdc" stroke-width="0.6" />
<line x1="316.8" y1="378.7" x2="316.8" y2="456.7" stroke="#dcdcdc" stroke-width="0.6" />
<line x1="55.4" y1="456.7" x2="316.8" y2="456.7" stroke="#d0d0d0" stroke-width="0.7" />
<polyline points="55.4,443.5 55.55,443.28 55.69,443.61 55.84,442.8 55.98,442.9 56.13,442.79 56.27,442.62 56.42,441.95 56.56,441.21 56.71,441.11 56.85,441.29 57,440.71 57.14,440.47 57.29,440.16 57.43,438.91 57.58,438.89 57.72,439.11 57.87,438.55 58.01,438.56 58.16,438.57 58.3,438.47 58.45,438.64 58.59,438.29 58.74,438.91 58.89,438.43 59.03,438.33 59.18,438.37 59.32,438.34 59.47,439.03 59.61,438.98 59.76,439.55 59.9,439.32 60.05,439.57 60.19,439.67 60.34,439.5 60.48,439.73 60.63,439.21 60.77,439.9 60.92,439.94 61.06,439.74 61.21,440.25 61.35,440.01 61.5,440.14 61.64,440.14 61.79,439.6 61.94,439.56 62.08,439.71 62.23,439.2 62.37,439.87 62.52,440.25 62.66,439.54 62.81,439.56 62.95,439.59 63.1,439.71 63.24,439.79 63.39,440.26 63.53,439.71 63.68,439.42 63.82,439.95 63.97,438.93 64.11,438.83 64.26,439.51 64.4,438.86 64.55,438.39 64.69,438.64 64.84,439.15 64.98,439.01 65.13,439.52 65.28,438.92 65.42,438.99 65.57,440 66.29,439.18 67.02,439.19 67.74,438.77 68.47,439.23 69.2,438.82 69.92,438.94 70.65,439.36 71.37,439.22 72.1,439.19 72.83,439.36 73.55,439.73 74.28,439.61 75,439.63 75.73,439.39 76.46,439.47 77.18,439.27 77.91,439.52 78.64,439.53 79.36,439.93 80.09,439.56 80.81,439.46 81.54,438.53 82.27,440.07 82.99,439.26 83.72,439.53 84.44,439.88 85.17,439.81 85.9,439.6 86.62,439.8 87.35,438.98 88.08,439.73 88.8,439.55 89.53,439.97 90.25,439.3 90.98,439.55 91.71,439.57 92.43,439.12 93.16,439.24 93.88,439.33 94.61,439.41 95.34,439.3 96.06,439.76 96.79,439.24 97.51,439.55 98.24,439.43 98.97,439.65 99.69,439.13 100.42,439.02 101.15,440.11 101.87,439.54 102.6,439.37 103.32,439.96 104.05,440.19 104.78,440.04 105.5,439.8 106.23,439.89 106.95,440.19 107.68,440.05 108.41,440.07 109.13,439.77 109.86,440.27 110.58,439.72 111.31,439.6 112.04,439.91 112.76,440.07 113.49,440.37 114.22,439.73 114.94,439.96 115.67,439.47 116.39,439.8 117.12,439.87 117.85,439.8 118.57,439.89 119.3,439.93 120.02,439.66 120.75,439.8 121.48,440.28 122.2,440.34 122.93,439.99 123.65,440 124.38,439.13 125.11,439.96 125.83,439.13 126.56,439.56 127.28,439.52 128.01,440.04 128.74,439.98 129.46,440.24 130.19,439.72 130.92,440.06 131.64,439.84 132.37,440.18 133.09,439.49 133.82,439.28 134.55,439.7 135.27,439.87 136,439.48 136.72,439.71 137.45,439.9 138.18,439.56 138.9,439.65 139.63,440.05 140.36,439.76 141.08,439.81 141.81,440.21 142.53,440.4 143.26,440.72 143.99,440.68 144.71,440.45 145.44,440.27 146.16,440.25 146.89,439.7 147.62,439.74 148.34,439.1 149.07,439.51 149.79,438.79 150.52,439.28 151.25,439.04 151.97,439.75 152.7,439.03 153.43,439.33 154.15,439.88 154.88,440 155.6,439.84 156.33,439.97 157.06,439.56 157.78,439.99 158.51,438.84 159.23,440.05 159.96,440.12 160.69,439.85 161.41,439.64 162.14,439.59 162.86,439.38 163.59,439.63 164.32,439.14 165.04,439.23 165.77,439.25 166.5,438.77 167.22,438.48 167.95,438.57 168.67,438.43 169.4,438.9 170.13,438.96 170.85,439.66 171.58,439.02 172.3,439.66 173.03,439.04 173.76,438.89 174.48,438.7 175.21,438.71 175.93,438.88 176.66,438.54 177.39,438.9 178.11,439.54 178.84,438.42 179.57,438.67 180.29,438.31 181.02,439.31 181.74,439.72 182.47,439.36 183.2,438.9 183.92,439.26 184.65,439.77 185.37,439.39 186.1,438.74 186.83,438.96 187.55,438.7 188.28,438.99 189,439.28 189.73,438.71 190.46,439.12 191.18,438.4 191.91,438.8 192.64,438.93 193.36,438.71 194.09,439.49 194.81,438.79 195.54,438.9 196.27,439.34 196.99,438.04 197.72,439.07 198.44,438.53 199.17,438.61 199.9,438.99 200.62,438.79 201.35,439.04 202.07,439.28 202.8,438.92 203.53,439.57 204.25,439.66 204.98,439.74 205.71,439.62 206.43,439.3 207.16,438.87 207.88,438.27 208.61,438.79 209.34,439 210.06,439.37 210.79,439.27 211.51,439.35 212.24,439.38 212.97,440.14 213.69,439.29 214.42,440.02 215.14,439.9 215.87,439.73 216.6,439.55 217.32,439.2 218.05,439.04 218.78,439.3 219.5,438.99 220.23,438.56 220.95,439.31 221.68,438.65 222.41,439.04 223.13,438.64 223.86,438.58 224.58,439.89 225.31,438.43 226.04,439.55 226.76,438.71 227.49,438.1 228.21,438.75 228.94,438.05 229.67,438.85 230.39,439 231.12,437.88 231.85,438.06 232.57,438.67 233.3,438.18 234.02,438.97 234.75,438.74 235.48,438.83 236.2,438.75 236.93,439.34 237.65,439.01 238.38,438.86 239.11,439.08 239.83,438.8 240.56,438.89 241.28,439.4 242.01,439.28 242.74,439.72 243.46,438.32 244.19,438.38 244.92,438.22 245.64,438.7 246.37,439.33 247.09,438.74 247.82,439.37 248.55,439.29 249.27,439.13 250,439.24 250.72,439.38 251.45,438.87 252.18,438.85 252.9,438.79 253.63,438.11 254.35,437.93 255.08,438.19 255.81,438.51 256.53,438.78 257.26,438.63 257.99,438.49 258.71,439.36 259.44,439.5 260.16,438.12 260.89,438.18 261.62,438.7 262.34,438.82 263.07,438.39 263.79,438.44 264.52,437.91 265.25,438.4 265.97,438.77 266.7,438.52 267.42,439.27 268.15,439.45 268.88,438.63 269.6,438.87 270.33,438.93 271.06,438.51 271.78,438.77 272.51,438.61 273.23,438.79 273.96,439.46 274.69,438.71 275.41,439.13 276.14,439.5 276.86,438.52 277.59,439.32 278.32,439.51 279.04,438.71 279.77,439.15 280.49,438.75 281.22,438.44 281.95,438.84 282.67,438.93 283.4,438.54 284.12,439.57 284.85,439.38 285.58,439.36 286.3,439.4 287.03,439.01 287.76,438.38 288.48,438.67 289.21,438.94 289.93,438.84 290.66,438.81 291.39,438.49 292.11,439.19 292.84,439.56 293.56,438.64 294.29,439.29 295.02,439.24 295.74,439.07 296.47,439.19 297.2,438.75 297.92,439.41 298.65,440.07 298.79,438.81 298.94,439.3 299.08,438.65 299.23,438.15 299.37,438.87 299.52,438.59 299.66,438.83 299.81,438.6 299.95,438.48 300.1,439.02 300.24,439.22 300.39,438.47 300.54,439.55 300.68,439.4 300.83,439.37 300.97,438.4 301.12,438.65 301.26,439 301.41,437.92 301.55,438.53 301.7,438.4 301.84,438.22 301.99,438.53 302.13,438.76 302.28,438.83 302.42,439.56 302.57,438.85 302.71,438.82 302.86,439.25 303,439.81 303.15,439.41 303.29,439.5 303.44,438.49 303.58,439.05 303.73,439.02 303.88,438.9 304.02,439.25 304.17,439.19 304.31,439.37 304.46,438.97 304.6,439.37 304.75,439.36 304.89,439.41 305.04,438.68 305.18,439.27 305.33,438.67 305.47,439.02 305.62,438.4 305.76,438.98 305.91,438.73 306.05,438.62 306.2,438.17 306.34,437.49 306.49,437.58 306.63,438.04 306.78,438.17 306.92,438.28 307.07,438.53 307.22,439.14 307.36,438.59 308.09,438.52 308.81,438.88 309.54,438.61 310.27,438.12 310.99,438.19 311.72,437.98 312.44,437.75 313.17,437.45 313.9,437.4 314.62,437.57 315.35,437.94 316.07,437.26 316.8,437.88" fill="none" stroke="#A5A5A5" stroke-width="1.25" stroke-linejoin="round" />
<polyline points="55.4,451.95 55.55,451.58 55.69,451.06 55.84,450.99 55.98,451.9 56.13,451.74 56.27,451.81 56.42,452.23 56.56,452 56.71,452.13 56.85,451.81 57,452.64 57.14,451.36 57.29,451.62 57.43,451.99 57.58,451.83 57.72,451.34 57.87,452.06 58.01,452.16 58.16,451.51 58.3,451.07 58.45,451.78 58.59,451.4 58.74,452.1 58.89,451.69 59.03,452.8 59.18,453.08 59.32,452.68 59.47,452.27 59.61,452.23 59.76,452.02 59.9,452.23 60.05,452.62 60.19,452.11 60.34,452.33 60.48,452.66 60.63,451.72 60.77,451.32 60.92,451.74 61.06,451.63 61.21,451.58 61.35,451.43 61.5,451.74 61.64,451.39 61.79,451.51 61.94,451.93 62.08,451.18 62.23,450.25 62.37,449.06 62.52,446.93 62.66,446.04 62.81,443.59 62.95,443.26 63.1,441.5 63.24,440.17 63.39,439.86 63.53,439.71 63.68,439.88 63.82,439.94 63.97,439.81 64.11,439.84 64.26,439.8 64.4,440.56 64.55,440.29 64.69,440.6 64.84,441.01 64.98,440.87 65.13,440.19 65.28,440.62 65.42,439.65 65.57,440.07 66.29,439.51 67.02,439.06 67.74,438.81 68.47,439.1 69.2,439.52 69.92,439.38 70.65,439.85 71.37,439.54 72.1,440.17 72.83,439.72 73.55,440.11 74.28,439.61 75,440.22 75.73,439.54 76.46,440.09 77.18,439.63 77.91,439.49 78.64,439.33 79.36,439.44 80.09,438.68 80.81,439.38 81.54,439.13 82.27,439.43 82.99,439.42 83.72,438.74 84.44,439.16 85.17,439.06 85.9,439.85 86.62,440.01 87.35,439.25 88.08,439.55 88.8,439.63 89.53,439.87 90.25,440.21 90.98,439.41 91.71,439.93 92.43,439.58 93.16,439.65 93.88,439.03 94.61,439.14 95.34,438.86 96.06,439.18 96.79,439.39 97.51,439.39 98.24,438.68 98.97,438.89 99.69,438.99 100.42,438.75 101.15,438.57 101.87,438.98 102.6,439.45 103.32,439.62 104.05,439.77 104.78,439.35 105.5,439.65 106.23,440.27 106.95,440.12 107.68,439.95 108.41,439.53 109.13,439.44 109.86,439.24 110.58,438.72 111.31,439.38 112.04,439.75 112.76,438.76 113.49,438.86 114.22,438.83 114.94,438.32 115.67,437.71 116.39,438.24 117.12,437.63 117.85,438.11 118.57,439.07 119.3,439.16 120.02,439.33 120.75,439.13 121.48,438.76 122.2,439.9 122.93,439.88 123.65,439.61 124.38,440 125.11,439.76 125.83,439.7 126.56,439.32 127.28,439.37 128.01,439 128.74,440.09 129.46,440.4 130.19,440.56 130.92,440.52 131.64,440.82 132.37,439.63 133.09,441.06 133.82,440.17 134.55,439.86 135.27,440.02 136,440.12 136.72,439.82 137.45,439.5 138.18,440.07 138.9,439.72 139.63,439.71 140.36,438.71 141.08,439.56 141.81,439.38 142.53,439.23 143.26,439.51 143.99,440.02 144.71,439.47 145.44,438.96 146.16,439.56 146.89,439.3 147.62,439.44 148.34,439.57 149.07,439.09 149.79,438.82 150.52,439.41 151.25,439.67 151.97,439.56 152.7,440.25 153.43,439.66 154.15,439.28 154.88,440.53 155.6,439.48 156.33,440.81 157.06,439.43 157.78,439.9 158.51,439.08 159.23,439.2 159.96,439.15 160.69,438.87 161.41,438.56 162.14,439.03 162.86,438.8 163.59,439.11 164.32,438.86 165.04,438.41 165.77,438.71 166.5,438.78 167.22,438.48 167.95,439.55 168.67,439.6 169.4,440.05 170.13,439.46 170.85,439.89 171.58,439.78 172.3,439.44 173.03,439.13 173.76,437.84 174.48,438.81 175.21,438.65 175.93,439.22 176.66,438.94 177.39,439.51 178.11,439.72 178.84,439.72 179.57,439.31 180.29,439.89 181.02,439.39 181.74,439.67 182.47,439.23 183.2,439.1 183.92,439.09 184.65,438.92 185.37,439.26 186.1,439.17 186.83,440.27 187.55,440.1 188.28,440.03 189,440.3 189.73,439.4 190.46,439.5 191.18,439.41 191.91,440.05 192.64,439.95 193.36,439.64 194.09,439.53 194.81,440.42 195.54,440.61 196.27,440.57 196.99,440.86 197.72,440.64 198.44,440.28 199.17,440.32 199.9,440.01 200.62,440.53 201.35,440.35 202.07,439.81 202.8,440.3 203.53,440.18 204.25,440.61 204.98,440.89 205.71,441.67 206.43,441.31 207.16,441.02 207.88,441.24 208.61,440.7 209.34,440.51 210.06,441.13 210.79,441.09 211.51,441.09 212.24,441.54 212.97,441.09 213.69,441.16 214.42,441.15 215.14,440.92 215.87,441.38 216.6,441.24 217.32,441.09 218.05,440.89 218.78,441.09 219.5,440.04 220.23,440.84 220.95,440.32 221.68,440.61 222.41,440.78 223.13,440.32 223.86,439.42 224.58,440.41 225.31,440.8 226.04,441.12 226.76,440.31 227.49,441.51 228.21,441.22 228.94,441.13 229.67,441.1 230.39,440.72 231.12,441.01 231.85,441.42 232.57,440.75 233.3,440.5 234.02,441.09 234.75,440.13 235.48,440.64 236.2,440.33 236.93,440.94 237.65,440.24 238.38,440.72 239.11,440.58 239.83,440.6 240.56,440.38 241.28,440.66 242.01,441.14 242.74,440.72 243.46,440.52 244.19,440.86 244.92,441.23 245.64,440.07 246.37,440.4 247.09,440.81 247.82,440.55 248.55,441.13 249.27,440.73 250,440.96 250.72,441.7 251.45,441.6 252.18,441.61 252.9,441.66 253.63,442.29 254.35,441.4 255.08,442.12 255.81,441.93 256.53,441.3 257.26,441.45 257.99,441.73 258.71,441.63 259.44,440.93 260.16,440.79 260.89,441.47 261.62,441.18 262.34,441.68 263.07,441.43 263.79,442.08 264.52,442.2 265.25,441.9 265.97,442.3 266.7,441.66 267.42,441.82 268.15,441.68 268.88,441.94 269.6,442.26 270.33,441.6 271.06,441.15 271.78,441.64 272.51,441.61 273.23,441.93 273.96,442.49 274.69,441.88 275.41,442.33 276.14,442.24 276.86,442.16 277.59,442.43 278.32,442.02 279.04,442.31 279.77,441.93 280.49,442.08 281.22,442.28 281.95,441.62 282.67,442.13 283.4,441.83 284.12,441.83 284.85,441.68 285.58,441.82 286.3,442.35 287.03,441.29 287.76,441.16 288.48,442.17 289.21,441.76 289.93,441.2 290.66,441.31 291.39,441.24 292.11,441.21 292.84,441.33 293.56,441.06 294.29,440.72 295.02,441.07 295.74,441.12 296.47,441.55 297.2,441.51 297.92,441.02 298.65,442.39 298.79,442.4 298.94,441.99 299.08,441.69 299.23,441.95 299.37,441.34 299.52,442.26 299.66,441.92 299.81,441.63 299.95,441.89 300.1,441.61 300.24,441.07 300.39,441.58 300.54,440.6 300.68,441.34 300.83,440.64 300.97,440.46 301.12,440.2 301.26,440.89 301.41,441.19 301.55,441.27 301.7,441.49 301.84,441.34 301.99,441.42 302.13,441.62 302.28,441.13 302.42,441.3 302.57,441.5 302.71,440.91 302.86,441.32 303,440.68 303.15,441.42 303.29,440.8 303.44,441.19 303.58,441.08 303.73,441.76 303.88,441.59 304.02,441.14 304.17,441.53 304.31,441.88 304.46,441.46 304.6,441.27 304.75,441.43 304.89,441.13 305.04,441.15 305.18,441.28 305.33,441.56 305.47,441.41 305.62,441.55 305.76,441.91 305.91,441.08 306.05,441.61 306.2,441.01 306.34,441.6 306.49,441.65 306.63,441.18 306.78,441.52 306.92,441.18 307.07,442 307.22,440.65 307.36,441.85 308.09,441.73 308.81,442.33 309.54,441.47 310.27,441.87 310.99,441.39 311.72,441.21 312.44,441.33 313.17,441.42 313.9,441.75 314.62,441.47 315.35,441.42 316.07,441.51 316.8,441.57" fill="none" stroke="#FFC000" stroke-width="1.25" stroke-linejoin="round" />
<polyline points="55.4,444.92 55.55,444.65 55.69,444.02 55.84,443.15 55.98,443.09 56.13,443.41 56.27,442.17 56.42,441.72 56.56,440.3 56.71,439.01 56.85,438.77 57,438.51 57.14,437.5 57.29,436.62 57.43,436.3 57.58,435.75 57.72,435.3 57.87,436.06 58.01,435.53 58.16,436.87 58.3,435.89 58.45,435.74 58.59,436.27 58.74,435.71 58.89,435.27 59.03,435.65 59.18,435.24 59.32,435.38 59.47,435.3 59.61,435.5 59.76,435.49 59.9,435.49 60.05,435.34 60.19,435.21 60.34,435.29 60.48,435.47 60.63,434.85 60.77,435.43 60.92,436.17 61.06,435.92 61.21,435.99 61.35,435.1 61.5,436.01 61.64,435.01 61.79,435.47 61.94,435.33 62.08,434.85 62.23,435.49 62.37,435.52 62.52,435.72 62.66,434.61 62.81,434.89 62.95,435.59 63.1,435.1 63.24,434.87 63.39,435.07 63.53,434.64 63.68,434.39 63.82,434.88 63.97,435.25 64.11,435.14 64.26,434.64 64.4,434.85 64.55,434.85 64.69,434.99 64.84,434.95 64.98,435.09 65.13,434.98 65.28,435.56 65.42,435.7 65.57,435.94 66.29,435.13 67.02,434.91 67.74,435.33 68.47,434.52 69.2,435.35 69.92,435.49 70.65,435.29 71.37,435.91 72.1,434.86 72.83,435.06 73.55,435.73 74.28,435.34 75,435.18 75.73,435.35 76.46,435.17 77.18,435.06 77.91,434.79 78.64,434.98 79.36,435.21 80.09,434.52 80.81,434.51 81.54,434.81 82.27,434.32 82.99,435.1 83.72,435.21 84.44,435.1 85.17,435.4 85.9,434.51 86.62,434.76 87.35,434.8 88.08,434.38 88.8,435.71 89.53,435.54 90.25,435.11 90.98,435.34 91.71,435.79 92.43,435.52 93.16,435.91 93.88,435.91 94.61,435.23 95.34,435.88 96.06,436.56 96.79,435.78 97.51,435.56 98.24,435.22 98.97,435.52 99.69,435.53 100.42,435.1 101.15,435.53 101.87,435.69 102.6,436.12 103.32,436.35 104.05,436.24 104.78,435.79 105.5,435.68 106.23,434.65 106.95,435.15 107.68,435.58 108.41,436.13 109.13,436.18 109.86,435.8 110.58,436.36 111.31,436.25 112.04,436.44 112.76,436.63 113.49,436.67 114.22,436.56 114.94,436.55 115.67,436.1 116.39,437.28 117.12,437.43 117.85,436.97 118.57,436.79 119.3,437.36 120.02,436.42 120.75,436.19 121.48,436.17 122.2,435.68 122.93,436.59 123.65,436.32 124.38,436.36 125.11,436.15 125.83,435.93 126.56,436.46 127.28,436.44 128.01,437.13 128.74,436.78 129.46,436.77 130.19,437.59 130.92,436.56 131.64,436.76 132.37,436.78 133.09,437.1 133.82,436.63 134.55,436.34 135.27,437.43 136,437.23 136.72,437.5 137.45,437.39 138.18,437.32 138.9,437.28 139.63,437.09 140.36,437.16 141.08,436.99 141.81,436.71 142.53,436.82 143.26,436.54 143.99,437.21 144.71,437.16 145.44,436.95 146.16,437.23 146.89,436.79 147.62,437.11 148.34,437.33 149.07,436.52 149.79,437.26 150.52,436.75 151.25,436.91 151.97,436.27 152.7,436.47 153.43,435.94 154.15,436.32 154.88,436.4 155.6,436.46 156.33,436.47 157.06,436.98 157.78,436.84 158.51,436.33 159.23,436.65 159.96,436.37 160.69,436.6 161.41,436.18 162.14,435.32 162.86,435.66 163.59,436.32 164.32,435.67 165.04,436.35 165.77,436.8 166.5,437.06 167.22,436.69 167.95,436.52 168.67,436.58 169.4,436.71 170.13,436.64 170.85,436.79 171.58,436.84 172.3,436.44 173.03,437.36 173.76,436.85 174.48,437.08 175.21,436.58 175.93,436.51 176.66,437.03 177.39,436.64 178.11,435.96 178.84,436.69 179.57,436.8 180.29,436.7 181.02,437.5 181.74,437.3 182.47,437.14 183.2,436.65 183.92,436.54 184.65,436.13 185.37,436.8 186.1,437.47 186.83,437.36 187.55,436.94 188.28,436.89 189,437.04 189.73,436.76 190.46,435.78 191.18,436.78 191.91,436.29 192.64,435.85 193.36,435.69 194.09,436.43 194.81,435.14 195.54,435.55 196.27,435.63 196.99,435.07 197.72,435.51 198.44,435.37 199.17,435.7 199.9,435.58 200.62,436.14 201.35,435.73 202.07,436.12 202.8,435.5 203.53,435.81 204.25,435.5 204.98,435.37 205.71,436.05 206.43,436.05 207.16,436.19 207.88,436.11 208.61,435.19 209.34,436.47 210.06,435.97 210.79,435.78 211.51,436.06 212.24,436.04 212.97,435.62 213.69,435.17 214.42,435.67 215.14,435.39 215.87,435.25 216.6,435.11 217.32,434.68 218.05,436.07 218.78,436.09 219.5,436.16 220.23,436.53 220.95,436.23 221.68,435.44 222.41,435.44 223.13,435.62 223.86,435.81 224.58,434.88 225.31,435.58 226.04,435.76 226.76,434.6 227.49,435.21 228.21,435.27 228.94,435.28 229.67,435.41 230.39,435.02 231.12,434.86 231.85,435.05 232.57,434.89 233.3,435.26 234.02,434.53 234.75,434.4 235.48,434.28 236.2,434.45 236.93,434.44 237.65,435.23 238.38,434.26 239.11,434.78 239.83,434.44 240.56,434.36 241.28,434.55 242.01,434.91 242.74,434.43 243.46,435.04 244.19,435.01 244.92,434.52 245.64,434.76 246.37,435.36 247.09,435.55 247.82,434.93 248.55,434.94 249.27,434.95 250,435.21 250.72,435.63 251.45,435.38 252.18,435.02 252.9,435.59 253.63,435.94 254.35,435.6 255.08,435.18 255.81,434.9 256.53,434.76 257.26,435.31 257.99,434.54 258.71,434.78 259.44,435.36 260.16,435.62 260.89,435.23 261.62,434.81 262.34,435.23 263.07,435.01 263.79,434.87 264.52,434.57 265.25,434.87 265.97,435.69 266.7,436.32 267.42,435.65 268.15,435.47 268.88,435.93 269.6,435.34 270.33,435.4 271.06,435.64 271.78,436.01 272.51,435.46 273.23,435.73 273.96,435.79 274.69,435.6 275.41,435.88 276.14,435.99 276.86,436.08 277.59,436.07 278.32,436.26 279.04,436.03 279.77,435.95 280.49,435.8 281.22,435.91 281.95,435.62 282.67,435.8 283.4,436.1 284.12,436.31 284.85,435.93 285.58,436.18 286.3,435.96 287.03,435.85 287.76,436.33 288.48,436.46 289.21,436.15 289.93,436.57 290.66,436.88 291.39,436.66 292.11,437.03 292.84,436.72 293.56,436.36 294.29,440.54 295.02,446.62 295.74,449.3 296.47,449.32 297.2,448.95 297.92,448.99 298.65,449.09 298.79,448.97 298.94,449.78 299.08,449.49 299.23,449.83 299.37,449.55 299.52,448.92 299.66,448.7 299.81,448.12 299.95,447.98 300.1,446.51 300.24,444.98 300.39,443.74 300.54,442.42 300.68,441.72 300.83,440.09 300.97,440.06 301.12,438.55 301.26,438.57 301.41,437.75 301.55,437.35 301.7,437.26 301.84,436.87 301.99,437.5 302.13,436.9 302.28,436.95 302.42,436.86 302.57,436.99 302.71,436.71 302.86,436.47 303,436.62 303.15,437.74 303.29,436.02 303.44,436.32 303.58,436.71 303.73,436.65 303.88,436.68 304.02,436.52 304.17,436.84 304.31,437.12 304.46,436.69 304.6,437.67 304.75,437.84 304.89,437.55 305.04,436.94 305.18,436.81 305.33,436.53 305.47,436.56 305.62,437.13 305.76,436.37 305.91,436.12 306.05,436.99 306.2,437.19 306.34,437.38 306.49,437.17 306.63,436.6 306.78,436.59 306.92,436.61 307.07,436.29 307.22,436.36 307.36,437.07 308.09,437.26 308.81,436.6 309.54,436.71 310.27,436.55 310.99,436.53 311.72,436.53 312.44,436.3 313.17,436.22 313.9,436.99 314.62,436.27 315.35,436.45 316.07,436.46 316.8,436.04" fill="none" stroke="#5B9BD5" stroke-width="1.25" stroke-linejoin="round" />
<polyline points="55.4,450.46 55.55,451.39 55.69,451.75 55.84,451.5 55.98,451.12 56.13,450.77 56.27,450.68 56.42,450.64 56.56,450.8 56.71,450.87 56.85,451.04 57,450.79 57.14,450.7 57.29,450.9 57.43,450.26 57.58,450.87 57.72,450.58 57.87,450.97 58.01,450.83 58.16,450.55 58.3,451.2 58.45,450.92 58.59,451 58.74,450.42 58.89,450.71 59.03,450.71 59.18,450.35 59.32,450.69 59.47,450.24 59.61,451.04 59.76,450.18 59.9,450.27 60.05,451.22 60.19,450.5 60.34,450.08 60.48,450.81 60.63,450.05 60.77,449.94 60.92,450.35 61.06,451.14 61.21,451.53 61.35,451.71 61.5,450.93 61.64,451.17 61.79,452.07 61.94,451.76 62.08,452.28 62.23,452.2 62.37,452.04 62.52,452.38 62.66,452 62.81,452.52 62.95,452.13 63.1,452.2 63.24,452.21 63.39,451.48 63.53,451.64 63.68,452.04 63.82,452.93 63.97,452.82 64.11,453.25 64.26,452.44 64.4,452.62 64.55,452.12 64.69,451.38 64.84,451.79 64.98,451.83 65.13,452.11 65.28,452.44 65.42,452.46 65.57,452.98 66.29,453.06 67.02,453.37 67.74,453.21 68.47,453.3 69.2,452.68 69.92,452.09 70.65,450.78 71.37,449.53 72.1,448.8 72.83,448.24 73.55,447.45 74.28,446.3 75,445.35 75.73,444.37 76.46,444.9 77.18,445.09 77.91,445.51 78.64,446.09 79.36,446.39 80.09,446.67 80.81,446.75 81.54,446.91 82.27,446.8 82.99,447.18 83.72,447.44 84.44,448.1 85.17,448.57 85.9,448.1 86.62,447.99 87.35,447.5 88.08,447.82 88.8,446.73 89.53,447.65 90.25,447.53 90.98,447.49 91.71,447.57 92.43,447.14 93.16,447.01 93.88,446.86 94.61,447.25 95.34,446.86 96.06,447.02 96.79,446.93 97.51,446.43 98.24,446.53 98.97,446.71 99.69,446.61 100.42,447.25 101.15,446.55 101.87,447.26 102.6,447.06 103.32,447.04 104.05,447.45 104.78,446.88 105.5,447.45 106.23,446.95 106.95,447.1 107.68,446.89 108.41,447.42 109.13,447.12 109.86,446.57 110.58,447.2 111.31,447.06 112.04,446.82 112.76,447.2 113.49,447.88 114.22,447.56 114.94,447.25 115.67,448.16 116.39,448.65 117.12,448.55 117.85,447.79 118.57,447.83 119.3,447.6 120.02,447.43 120.75,447.34 121.48,447.09 122.2,447.14 122.93,448.05 123.65,448.16 124.38,447.76 125.11,447.21 125.83,446.89 126.56,447.63 127.28,447.66 128.01,447.3 128.74,448.05 129.46,447.24 130.19,447.25 130.92,447.13 131.64,447.17 132.37,447.36 133.09,447.54 133.82,447.36 134.55,447.45 135.27,447.48 136,447.21 136.72,447.23 137.45,447.43 138.18,447.26 138.9,447.2 139.63,447.2 140.36,447.43 141.08,447.49 141.81,447.43 142.53,447.5 143.26,447.69 143.99,447.62 144.71,447.48 145.44,446.77 146.16,447.62 146.89,447.68 147.62,447.62 148.34,447.63 149.07,447.46 149.79,448.09 150.52,447.7 151.25,447.55 151.97,448 152.7,448.45 153.43,447.4 154.15,446.91 154.88,446.73 155.6,447.32 156.33,447.64 157.06,447.67 157.78,447.7 158.51,447.51 159.23,447.2 159.96,447.07 160.69,446.83 161.41,447.81 162.14,448.01 162.86,447.44 163.59,446.96 164.32,447.05 165.04,446.86 165.77,446.45 166.5,446.09 167.22,445.7 167.95,445.86 168.67,446.03 169.4,446.48 170.13,445.93 170.85,445.62 171.58,445.66 172.3,446.31 173.03,446.49 173.76,446.67 174.48,447.15 175.21,447.08 175.93,447.37 176.66,447.05 177.39,447.04 178.11,447.76 178.84,447.46 179.57,446.97 180.29,446.71 181.02,446.54 181.74,446.49 182.47,446.36 183.2,446.68 183.92,447.13 184.65,446.57 185.37,446.54 186.1,446.1 186.83,446.51 187.55,446.21 188.28,446.61 189,446.94 189.73,446.61 190.46,446.46 191.18,446.99 191.91,446.49 192.64,446.15 193.36,445.85 194.09,446.73 194.81,447.08 195.54,447.18 196.27,447.41 196.99,447.63 197.72,447.36 198.44,448.15 199.17,447.09 199.9,447.45 200.62,446.86 201.35,447.11 202.07,447.85 202.8,447.88 203.53,447.36 204.25,447.26 204.98,447.18 205.71,446.68 206.43,447.38 207.16,446.3 207.88,445.93 208.61,446.06 209.34,446.39 210.06,447.15 210.79,447.38 211.51,447.46 212.24,447.03 212.97,447.31 213.69,447.08 214.42,446.47 215.14,446.74 215.87,445.94 216.6,446.16 217.32,445.85 218.05,445.84 218.78,445.87 219.5,445.94 220.23,446.1 220.95,445.94 221.68,445.85 222.41,446 223.13,445.6 223.86,445.89 224.58,445.9 225.31,445.69 226.04,445.64 226.76,445.44 227.49,444.97 228.21,445.5 228.94,445.05 229.67,445.71 230.39,445.81 231.12,445.66 231.85,445.28 232.57,445.83 233.3,445.94 234.02,445.8 234.75,446.41 235.48,447.51 236.2,447.52 236.93,448.47 237.65,448.03 238.38,448.05 239.11,446.62 239.83,446.66 240.56,446.19 241.28,445.63 242.01,446.18 242.74,446.21 243.46,446.18 244.19,446.31 244.92,446.44 245.64,445.96 246.37,446.37 247.09,445.94 247.82,446.32 248.55,445.53 249.27,445.93 250,446.49 250.72,446.97 251.45,446.58 252.18,446.8 252.9,446.4 253.63,446.77 254.35,446.82 255.08,446.22 255.81,446.31 256.53,446.78 257.26,446.53 257.99,446 258.71,445.97 259.44,445.91 260.16,446.23 260.89,445.79 261.62,445.62 262.34,445.89 263.07,446.51 263.79,446.62 264.52,446.47 265.25,446.23 265.97,446.26 266.7,445.79 267.42,446.1 268.15,445.61 268.88,445.85 269.6,446.64 270.33,446.15 271.06,446.03 271.78,445.67 272.51,446.19 273.23,446.34 273.96,445.54 274.69,445.79 275.41,446.09 276.14,445.56 276.86,445.93 277.59,445.91 278.32,445.96 279.04,445.98 279.77,446.26 280.49,445.8 281.22,445.4 281.95,446.35 282.67,445.82 283.4,445.93 284.12,445.98 284.85,446.74 285.58,445.8 286.3,445.67 287.03,445.34 287.76,445.37 288.48,445.28 289.21,445.72 289.93,446.24 290.66,445.63 291.39,445.38 292.11,445.75 292.84,445.34 293.56,445.76 294.29,446.82 295.02,448.66 295.74,449.93 296.47,448.7 297.2,448.14 297.92,446.75 298.65,446.73 298.79,446.94 298.94,446.31 299.08,445.5 299.23,445.55 299.37,445.92 299.52,445.84 299.66,446.18 299.81,446.11 299.95,445.94 300.1,446.37 300.24,445.82 300.39,446 300.54,446.42 300.68,446.73 300.83,446.21 300.97,446.45 301.12,445.86 301.26,446.04 301.41,445.99 301.55,446.19 301.7,446.31 301.84,446.18 301.99,446.44 302.13,445.73 302.28,445.75 302.42,446.19 302.57,445.85 302.71,445.93 302.86,445.81 303,446 303.15,445.59 303.29,446.03 303.44,445.57 303.58,446.59 303.73,446.3 303.88,445.78 304.02,446.55 304.17,445.95 304.31,446.07 304.46,446.66 304.6,446.35 304.75,446.51 304.89,446.34 305.04,446.06 305.18,445.83 305.33,446.43 305.47,445.93 305.62,445.88 305.76,446.04 305.91,446.05 306.05,446.53 306.2,445.97 306.34,446.16 306.49,446.33 306.63,446.62 306.78,446.06 306.92,446.44 307.07,446.95 307.22,446.25 307.36,446.1 308.09,445.79 308.81,445.24 309.54,446.27 310.27,446.3 310.99,445.8 311.72,445.93 312.44,446.14 313.17,445.84 313.9,445.64 314.62,446.29 315.35,446.23 316.07,446.69 316.8,446.64" fill="none" stroke="#70AD47" stroke-width="1.25" stroke-linejoin="round" />
<polyline points="55.4,419.12 55.55,421.3 55.69,423.97 55.84,426.14 55.98,429.03 56.13,431.53 56.27,433.99 56.42,435.85 56.56,436.16 56.71,436.18 56.85,436.79 57,437.43 57.14,437.46 57.29,438.13 57.43,438.09 57.58,438.82 57.72,439.16 57.87,439.41 58.01,439.01 58.16,438.61 58.3,438.19 58.45,439.15 58.59,438.58 58.74,439.65 58.89,439.39 59.03,439.87 59.18,440.55 59.32,440.46 59.47,440.08 59.61,440.05 59.76,439.92 59.9,440.08 60.05,439.49 60.19,440.14 60.34,440.66 60.48,439.85 60.63,440.39 60.77,440.58 60.92,440.16 61.06,440.68 61.21,440.49 61.35,440.75 61.5,441.02 61.64,441.63 61.79,441.37 61.94,442.15 62.08,441.26 62.23,441.48 62.37,441.08 62.52,440.96 62.66,440.99 62.81,441.21 62.95,440.95 63.1,440.79 63.24,440.33 63.39,440.82 63.53,440.46 63.68,441.08 63.82,441.15 63.97,441.29 64.11,441.49 64.26,441.35 64.4,442.07 64.55,441.76 64.69,441.91 64.84,441.86 64.98,441.81 65.13,441.38 65.28,441.73 65.42,441.44 65.57,441.86 66.29,441.18 67.02,441.09 67.74,439.42 68.47,440.57 69.2,440.66 69.92,440.19 70.65,441.22 71.37,441.03 72.1,441.31 72.83,440.81 73.55,440.57 74.28,440.46 75,439.81 75.73,441.03 76.46,440.52 77.18,440.99 77.91,441.29 78.64,442.07 79.36,441.51 80.09,441.99 80.81,441.43 81.54,441.55 82.27,441.83 82.99,442.08 83.72,442.42 84.44,441.69 85.17,441.43 85.9,441.47 86.62,441.36 87.35,441.34 88.08,440.98 88.8,441.07 89.53,441.76 90.25,442.07 90.98,441.64 91.71,441.34 92.43,441.58 93.16,441.57 93.88,442.02 94.61,442.26 95.34,441.88 96.06,441.66 96.79,441.87 97.51,441.82 98.24,441.06 98.97,441.68 99.69,441.74 100.42,441.7 101.15,441.19 101.87,441.54 102.6,442.02 103.32,441.2 104.05,441.47 104.78,441.13 105.5,442.5 106.23,442.03 106.95,442.19 107.68,441.48 108.41,441.66 109.13,441.55 109.86,442.05 110.58,442.47 111.31,442.45 112.04,442.2 112.76,442.09 113.49,442.84 114.22,443.11 114.94,443.03 115.67,442.69 116.39,442.4 117.12,442.29 117.85,443.05 118.57,442.38 119.3,442.48 120.02,443.6 120.75,443.03 121.48,443.29 122.2,442.79 122.93,444.13 123.65,444.36 124.38,444.61 125.11,444.01 125.83,443.38 126.56,443.5 127.28,443.68 128.01,443.43 128.74,443.82 129.46,443.67 130.19,443.98 130.92,443.6 131.64,443.86 132.37,443.92 133.09,444.43 133.82,443.38 134.55,443.63 135.27,443.29 136,442.59 136.72,442.48 137.45,443.15 138.18,443.37 138.9,442.38 139.63,442.87 140.36,442.84 141.08,442.69 141.81,443.25 142.53,443.94 143.26,443.91 143.99,443.23 144.71,442.86 145.44,442.09 146.16,442.74 146.89,442.65 147.62,443.81 148.34,442.83 149.07,443.15 149.79,442.7 150.52,443.23 151.25,441.99 151.97,442.51 152.7,441.26 153.43,441.34 154.15,441.67 154.88,442.1 155.6,441.93 156.33,442.04 157.06,441.55 157.78,441.68 158.51,441.91 159.23,442.29 159.96,442.03 160.69,441.36 161.41,440.74 162.14,440.84 162.86,441 163.59,440.69 164.32,441.07 165.04,441.52 165.77,440.97 166.5,440.95 167.22,440.08 167.95,440.98 168.67,440.69 169.4,440.74 170.13,441.19 170.85,440.48 171.58,440.27 172.3,440.35 173.03,440.36 173.76,440.17 174.48,440.49 175.21,440.73 175.93,440.46 176.66,440.9 177.39,441.28 178.11,441.43 178.84,440.29 179.57,441.47 180.29,440.22 181.02,441.35 181.74,441.5 182.47,441.62 183.2,440.92 183.92,440.74 184.65,440.69 185.37,441.01 186.1,441.23 186.83,441.06 187.55,440.32 188.28,440.09 189,440.31 189.73,440.46 190.46,440.71 191.18,440.86 191.91,440.47 192.64,440.84 193.36,440.47 194.09,441.67 194.81,441.82 195.54,441.23 196.27,441.2 196.99,442.02 197.72,441.38 198.44,441.05 199.17,441.29 199.9,440.97 200.62,441.17 201.35,440.7 202.07,441.04 202.8,441.14 203.53,440.24 204.25,440.22 204.98,440.13 205.71,440.85 206.43,441.3 207.16,442.12 207.88,441.28 208.61,440.51 209.34,440.2 210.06,439.55 210.79,439.46 211.51,440.27 212.24,440.36 212.97,440.07 213.69,440.91 214.42,440.75 215.14,440.76 215.87,441.04 216.6,440.36 217.32,441.17 218.05,440.75 218.78,440.57 219.5,440.68 220.23,440.69 220.95,439.87 221.68,439.28 222.41,439.51 223.13,440.31 223.86,439.26 224.58,439.24 225.31,439.04 226.04,439.2 226.76,438.97 227.49,440.47 228.21,439.65 228.94,439.21 229.67,440.01 230.39,439.53 231.12,439.1 231.85,439.34 232.57,439.4 233.3,439.87 234.02,439.36 234.75,439.49 235.48,439.84 236.2,439.63 236.93,440.79 237.65,441.03 238.38,441.17 239.11,440.86 239.83,441.07 240.56,441.28 241.28,440.9 242.01,440.37 242.74,440.02 243.46,440.03 244.19,440.36 244.92,440.01 245.64,440.46 246.37,439.86 247.09,439.84 247.82,440 248.55,440.17 249.27,440.14 250,439.62 250.72,439.82 251.45,439.67 252.18,440.03 252.9,440 253.63,440.28 254.35,440.1 255.08,440.07 255.81,439.39 256.53,440.03 257.26,440.26 257.99,440.37 258.71,440.05 259.44,440.4 260.16,440.05 260.89,440.33 261.62,441.67 262.34,441.73 263.07,441.91 263.79,441.57 264.52,442.39 265.25,442.04 265.97,442.6 266.7,442.41 267.42,441.62 268.15,442.33 268.88,442.31 269.6,442.44 270.33,442.28 271.06,441.6 271.78,442.09 272.51,441.8 273.23,441.71 273.96,441.81 274.69,441.43 275.41,440.92 276.14,441.01 276.86,440.76 277.59,440.96 278.32,440.42 279.04,440.13 279.77,440.85 280.49,440.55 281.22,440.65 281.95,440.43 282.67,440.45 283.4,439.56 284.12,439.92 284.85,440.42 285.58,440.03 286.3,440.61 287.03,440.18 287.76,439.43 288.48,439.76 289.21,438.73 289.93,439.47 290.66,438.72 291.39,438.29 292.11,437.85 292.84,438.8 293.56,438.18 294.29,438.54 295.02,438.2 295.74,438.86 296.47,438.46 297.2,438.46 297.92,438.56 298.65,438.9 298.79,439.56 298.94,439.01 299.08,439 299.23,439.32 299.37,439.63 299.52,439.46 299.66,440.52 299.81,439.57 299.95,439.51 300.1,440.56 300.24,439.62 300.39,439.14 300.54,439.43 300.68,440.01 300.83,439.28 300.97,438.86 301.12,438.68 301.26,438.88 301.41,437.89 301.55,438.86 301.7,438.69 301.84,438.38 301.99,438.47 302.13,438.53 302.28,438.82 302.42,438.45 302.57,439.24 302.71,439.36 302.86,438.71 303,439.71 303.15,439.06 303.29,439.09 303.44,438.98 303.58,439.65 303.73,438.82 303.88,438.87 304.02,438.22 304.17,438.65 304.31,439.17 304.46,438.67 304.6,438.78 304.75,438.53 304.89,438.34 305.04,439.04 305.18,438.96 305.33,438.7 305.47,438.78 305.62,437.9 305.76,438.49 305.91,437.66 306.05,437.85 306.2,438.74 306.34,439.16 306.49,439.14 306.63,438.37 306.78,439.2 306.92,438.42 307.07,439.67 307.22,439.33 307.36,439.19 308.09,439.12 308.81,439.06 309.54,439.4 310.27,438.97 310.99,438.82 311.72,439.39 312.44,438.33 313.17,438.93 313.9,438.68 314.62,439.59 315.35,438.52 316.07,438.6 316.8,438.51" fill="none" stroke="#264478" stroke-width="1.25" stroke-linejoin="round" />
<polyline points="55.4,440.94 55.55,439.85 55.69,439.75 55.84,440.06 55.98,439.93 56.13,439.62 56.27,439.92 56.42,439.01 56.56,439.52 56.71,439.28 56.85,439.02 57,438.44 57.14,437.39 57.29,437.47 57.43,439.18 57.58,438.23 57.72,439.47 57.87,439.22 58.01,438.42 58.16,438.02 58.3,437.86 58.45,437.69 58.59,438.32 58.74,436.96 58.89,438.47 59.03,438.52 59.18,437.34 59.32,436.85 59.47,437.76 59.61,437.68 59.76,437.62 59.9,437.15 60.05,438.5 60.19,436.61 60.34,437.59 60.48,437.43 60.63,437.71 60.77,436.61 60.92,436.92 61.06,436.76 61.21,437.43 61.35,436.14 61.5,436.86 61.64,436.97 61.79,436.51 61.94,436.33 62.08,436.18 62.23,436.64 62.37,435.85 62.52,436.24 62.66,436.5 62.81,436.84 62.95,437.4 63.1,436.89 63.24,438.51 63.39,437.96 63.53,437.82 63.68,437.27 63.82,435.36 63.97,436.34 64.11,436.65 64.26,437.04 64.4,436.92 64.55,436.24 64.69,436.9 64.84,436.25 64.98,436.83 65.13,436.6 65.28,436.88 65.42,436.55 65.57,437.24 66.29,437.93 67.02,438 67.74,437.17 68.47,437.51 69.2,436.9 69.92,437.95 70.65,436.93 71.37,436.36 72.1,437.02 72.83,437.4 73.55,436.88 74.28,437.59 75,438.29 75.73,438 76.46,437.99 77.18,438.52 77.91,438.41 78.64,438.6 79.36,437.56 80.09,438.38 80.81,437.71 81.54,438.46 82.27,438.13 82.99,438.48 83.72,438.12 84.44,438.21 85.17,437.86 85.9,436.85 86.62,437.11 87.35,437.37 88.08,437.28 88.8,437.6 89.53,437.73 90.25,437.68 90.98,437.81 91.71,438.02 92.43,438.01 93.16,437.54 93.88,437.3 94.61,437.29 95.34,436.49 96.06,437.19 96.79,437.38 97.51,437.35 98.24,437.98 98.97,437.51 99.69,436.95 100.42,438.37 101.15,437.49 101.87,437.14 102.6,437.62 103.32,436.75 104.05,437.12 104.78,436.54 105.5,435.92 106.23,435.82 106.95,436.99 107.68,437.2 108.41,437.4 109.13,437.39 109.86,436.88 110.58,437.17 111.31,436.97 112.04,436.94 112.76,436.84 113.49,436.81 114.22,436.58 114.94,436.79 115.67,437.46 116.39,437.1 117.12,437.68 117.85,436.9 118.57,436.93 119.3,437.89 120.02,438.12 120.75,438.16 121.48,436.7 122.2,437.9 122.93,437.54 123.65,437.84 124.38,438.25 125.11,437.83 125.83,437.63 126.56,437.43 127.28,436.94 128.01,436.8 128.74,436.37 129.46,436.71 130.19,436.93 130.92,437.29 131.64,436.51 132.37,436.96 133.09,437.28 133.82,436.55 134.55,436.89 135.27,436.5 136,435.93 136.72,436.33 137.45,435.77 138.18,436.28 138.9,436.39 139.63,436.02 140.36,436.31 141.08,437.03 141.81,436.64 142.53,436.99 143.26,436.44 143.99,437.11 144.71,436.98 145.44,436.72 146.16,436.88 146.89,435.9 147.62,435.54 148.34,437.02 149.07,436.82 149.79,437.26 150.52,437.32 151.25,437.51 151.97,436.28 152.7,437.18 153.43,436.52 154.15,436.25 154.88,436.06 155.6,435.79 156.33,436.74 157.06,437.09 157.78,438.18 158.51,437.73 159.23,436.22 159.96,436.56 160.69,436.02 161.41,436.89 162.14,436.49 162.86,436.21 163.59,436.09 164.32,436.1 165.04,436.74 165.77,436.21 166.5,436.65 167.22,435.64 167.95,436.28 168.67,436.07 169.4,436.55 170.13,436.03 170.85,436.46 171.58,435.18 172.3,436.27 173.03,436.89 173.76,436.29 174.48,436.64 175.21,436.48 175.93,435.85 176.66,436.42 177.39,435.34 178.11,435.81 178.84,435.51 179.57,435.06 180.29,434.89 181.02,435.01 181.74,435.56 182.47,436.47 183.2,436.22 183.92,436.47 184.65,436.09 185.37,436.42 186.1,436.13 186.83,435.74 187.55,435.31 188.28,434.46 189,435.21 189.73,435.63 190.46,435.48 191.18,436.83 191.91,435.83 192.64,436.34 193.36,436.64 194.09,436.52 194.81,436.34 195.54,435.7 196.27,436 196.99,436.34 197.72,435.1 198.44,436.08 199.17,435 199.9,434.93 200.62,435.88 201.35,435.92 202.07,436.03 202.8,435.5 203.53,435.42 204.25,434.94 204.98,434.98 205.71,435.92 206.43,436.09 207.16,436.82 207.88,437.57 208.61,437.41 209.34,436.53 210.06,437.31 210.79,436.92 211.51,435.74 212.24,435.12 212.97,435.2 213.69,436.88 214.42,436.6 215.14,437.31 215.87,437.8 216.6,436.9 217.32,436.99 218.05,437.4 218.78,436.46 219.5,436.45 220.23,435.46 220.95,435.99 221.68,436.48 222.41,436.4 223.13,436.2 223.86,436.77 224.58,436.16 225.31,436.85 226.04,437.09 226.76,435.98 227.49,435.2 228.21,437.01 228.94,436.61 229.67,436.54 230.39,436.4 231.12,436.17 231.85,435.95 232.57,436.68 233.3,435.05 234.02,436.24 234.75,435.91 235.48,434.98 236.2,435.29 236.93,436.59 237.65,435.18 238.38,434.7 239.11,436.2 239.83,436.04 240.56,436.1 241.28,437.2 242.01,436.93 242.74,436.12 243.46,436.07 244.19,436.32 244.92,436.15 245.64,436.51 246.37,436.23 247.09,435.92 247.82,436.98 248.55,436.88 249.27,438.78 250,437.53 250.72,438.45 251.45,438.1 252.18,439.07 252.9,437.69 253.63,438.05 254.35,437.5 255.08,436.99 255.81,437.47 256.53,436.85 257.26,436.87 257.99,437.19 258.71,437.04 259.44,437.03 260.16,437.01 260.89,437.08 261.62,437.32 262.34,437.73 263.07,438.16 263.79,437.84 264.52,436.69 265.25,437.98 265.97,436.98 266.7,436.86 267.42,437.17 268.15,437.67 268.88,438.09 269.6,438.13 270.33,438.25 271.06,437.12 271.78,437.17 272.51,438.18 273.23,437.06 273.96,437.48 274.69,437.98 275.41,437.11 276.14,437.57 276.86,436.95 277.59,437.74 278.32,436.21 279.04,436.74 279.77,437.07 280.49,435.48 281.22,436.69 281.95,436.5 282.67,436.28 283.4,436.55 284.12,436.56 284.85,436.23 285.58,435.77 286.3,436.08 287.03,435.78 287.76,436.45 288.48,436.08 289.21,435.27 289.93,436.36 290.66,436.86 291.39,435.56 292.11,435.66 292.84,436 293.56,436.12 294.29,435.3 295.02,435.54 295.74,435.75 296.47,435.44 297.2,435.51 297.92,434.75 298.65,435.02 298.79,435.47 298.94,434.61 299.08,435.57 299.23,436.63 299.37,436.39 299.52,436.45 299.66,436.7 299.81,436.38 299.95,436.02 300.1,436.48 300.24,435.95 300.39,435.16 300.54,436.02 300.68,436.5 300.83,436.43 300.97,435.26 301.12,435.46 301.26,436.22 301.41,435.94 301.55,434.99 301.7,435.74 301.84,436.01 301.99,436.15 302.13,435.99 302.28,436.06 302.42,435.88 302.57,436.83 302.71,436.88 302.86,436.35 303,436.35 303.15,436.55 303.29,436.21 303.44,436.15 303.58,435.78 303.73,436.43 303.88,437.13 304.02,436.18 304.17,436.32 304.31,437.36 304.46,436.16 304.6,436.79 304.75,436.03 304.89,436.3 305.04,435.58 305.18,436.76 305.33,436.41 305.47,435.43 305.62,435.12 305.76,434.93 305.91,435.13 306.05,434.83 306.2,435.16 306.34,435.76 306.49,435.34 306.63,435.9 306.78,435.25 306.92,436.02 307.07,436.37 307.22,436.98 307.36,436.23 308.09,436.3 308.81,435.37 309.54,435.53 310.27,436.68 310.99,435.65 311.72,435.66 312.44,435.53 313.17,435.86 313.9,435.87 314.62,436.24 315.35,434.62 316.07,435.15 316.8,435.41" fill="none" stroke="#ED7D31" stroke-width="1.25" stroke-linejoin="round" />
<polyline points="55.4,428.17 55.55,422.22 55.69,413.91 55.84,404.78 55.98,398.4 56.13,403.75 56.27,410.22 56.42,418.18 56.56,426.43 56.71,432.96 56.85,436.97 57,437.17 57.14,437.76 57.29,436.21 57.43,436.87 57.58,435.64 57.72,437.2 57.87,436.89 58.01,438.67 58.16,438.41 58.3,438.07 58.45,438.67 58.59,437.88 58.74,437.15 58.89,437.26 59.03,436.99 59.18,436.61 59.32,437.01 59.47,437.38 59.61,435.94 59.76,436.13 59.9,434.61 60.05,435.77 60.19,436.54 60.34,435.39 60.48,435.79 60.63,436.11 60.77,436.21 60.92,435.98 61.06,436.82 61.21,436.65 61.35,436.8 61.5,437.29 61.64,436.31 61.79,436.66 61.94,435.62 62.08,436.43 62.23,434.75 62.37,435.3 62.52,435.14 62.66,434.89 62.81,438.88 62.95,444.31 63.1,449.5 63.24,453.61 63.39,450.52 63.53,445.46 63.68,439.96 63.82,435.55 63.97,435.86 64.11,437.05 64.26,437.38 64.4,436.83 64.55,436.33 64.69,437.35 64.84,435.51 64.98,437.19 65.13,436.86 65.28,437.73 65.42,437.77 65.57,437.63 66.29,436.65 67.02,437.29 67.74,437.06 68.47,437.79 69.2,437.62 69.92,436.29 70.65,436.04 71.37,436.26 72.1,436.5 72.83,436.3 73.55,437.34 74.28,437.12 75,437.34 75.73,436.61 76.46,436.95 77.18,435.75 77.91,436.21 78.64,436.39 79.36,436.85 80.09,437.09 80.81,436.84 81.54,435.85 82.27,435.06 82.99,435.78 83.72,435.78 84.44,436.21 85.17,435.96 85.9,436.62 86.62,435.96 87.35,435.78 88.08,436.68 88.8,436.87 89.53,436.63 90.25,437.92 90.98,436.74 91.71,436.79 92.43,436.82 93.16,435.92 93.88,436.92 94.61,436.79 95.34,436.72 96.06,436.06 96.79,437.09 97.51,435.01 98.24,435.29 98.97,435.76 99.69,436.89 100.42,437.42 101.15,437.73 101.87,437.4 102.6,438.83 103.32,437.72 104.05,438.45 104.78,437.24 105.5,436.74 106.23,436.75 106.95,436.18 107.68,436.69 108.41,437.17 109.13,436.86 109.86,437.11 110.58,436.37 111.31,435.92 112.04,436.16 112.76,435.06 113.49,435.97 114.22,436 114.94,434.86 115.67,434.87 116.39,434.9 117.12,434.88 117.85,435.26 118.57,435.67 119.3,436.56 120.02,435.78 120.75,436.05 121.48,435.68 122.2,435.21 122.93,434.97 123.65,435.3 124.38,436.4 125.11,436.63 125.83,437.36 126.56,435.15 127.28,436.27 128.01,436.17 128.74,434.71 129.46,436.63 130.19,436.59 130.92,436.06 131.64,436.22 132.37,436.33 133.09,436.26 133.82,437.47 134.55,438.06 135.27,435.92 136,435.59 136.72,436.91 137.45,436.37 138.18,435.29 138.9,436.99 139.63,437.87 140.36,438.04 141.08,437.84 141.81,437.87 142.53,438.63 143.26,439.58 143.99,438.31 144.71,438.24 145.44,438.05 146.16,437.64 146.89,436.81 147.62,437.46 148.34,436.97 149.07,435.85 149.79,434.71 150.52,435.52 151.25,436.79 151.97,435.05 152.7,434.65 153.43,435.73 154.15,436.05 154.88,435.75 155.6,435.79 156.33,436.05 157.06,435.83 157.78,435.7 158.51,435.39 159.23,435.7 159.96,436.31 160.69,433.82 161.41,431.51 162.14,433.14 162.86,435.66 163.59,435.54 164.32,436.91 165.04,436.74 165.77,437 166.5,435.29 167.22,436.66 167.95,436.44 168.67,437.44 169.4,437.17 170.13,435.7 170.85,435.57 171.58,435.89 172.3,435.41 173.03,435.59 173.76,435.62 174.48,434.51 175.21,434.87 175.93,435.96 176.66,435.8 177.39,434.64 178.11,435.98 178.84,436.18 179.57,436.8 180.29,435.46 181.02,437.14 181.74,436.78 182.47,435.84 183.2,435.97 183.92,435.67 184.65,435.86 185.37,435.41 186.1,436.15 186.83,435.92 187.55,435.35 188.28,435.73 189,436.9 189.73,436.58 190.46,434.65 191.18,435.23 191.91,435.33 192.64,435.79 193.36,434.56 194.09,435.11 194.81,436.2 195.54,435.43 196.27,435.79 196.99,435.47 197.72,434.86 198.44,434.74 199.17,435.59 199.9,435.19 200.62,435.95 201.35,437.83 202.07,436.76 202.8,438 203.53,436.07 204.25,437.41 204.98,436.38 205.71,435.72 206.43,435.36 207.16,436.05 207.88,435.58 208.61,435.9 209.34,435.55 210.06,433.78 210.79,434.87 211.51,437.18 212.24,434.87 212.97,436.66 213.69,437.25 214.42,436.68 215.14,436.9 215.87,436.79 216.6,436.21 217.32,435.96 218.05,436.43 218.78,437.51 219.5,437.4 220.23,436.63 220.95,436.93 221.68,436.77 222.41,437.05 223.13,436.36 223.86,436.46 224.58,434.77 225.31,435.3 226.04,435.33 226.76,436.51 227.49,435.74 228.21,434.54 228.94,435.38 229.67,436.17 230.39,435.29 231.12,435.46 231.85,435.43 232.57,435.84 233.3,436.78 234.02,434.75 234.75,435.55 235.48,435.07 236.2,435.87 236.93,435.8 237.65,435.97 238.38,435.48 239.11,435.88 239.83,436.49 240.56,434.55 241.28,434.19 242.01,434.57 242.74,434.55 243.46,434.77 244.19,435.76 244.92,433.42 245.64,433.69 246.37,435.01 247.09,434.26 247.82,434.61 248.55,434.17 249.27,434.74 250,434.6 250.72,435.58 251.45,434.3 252.18,435.53 252.9,434.87 253.63,434.76 254.35,434.36 255.08,435.09 255.81,434.72 256.53,436.62 257.26,436.65 257.99,435.86 258.71,437.79 259.44,438.15 260.16,438.27 260.89,439.27 261.62,438.59 262.34,438.78 263.07,438.83 263.79,437.83 264.52,437.98 265.25,439.15 265.97,437.9 266.7,438.38 267.42,438.83 268.15,439.2 268.88,439.36 269.6,438.71 270.33,438.32 271.06,439.28 271.78,439.74 272.51,439.23 273.23,439.08 273.96,438.92 274.69,438.77 275.41,437 276.14,436.71 276.86,436.42 277.59,435.5 278.32,436.88 279.04,437.48 279.77,436.99 280.49,438.38 281.22,436.84 281.95,437.44 282.67,437.49 283.4,437.8 284.12,437.85 284.85,437.71 285.58,437.74 286.3,437.42 287.03,438.53 287.76,436.18 288.48,437.03 289.21,437.97 289.93,438.44 290.66,438.91 291.39,437.01 292.11,437.6 292.84,437.57 293.56,438.78 294.29,439.46 295.02,438.42 295.74,438.17 296.47,437.7 297.2,437.28 297.92,436.55 298.65,437.21 298.79,435.86 298.94,436.38 299.08,436.34 299.23,436.65 299.37,436.84 299.52,436.56 299.66,436.43 299.81,436.66 299.95,436.53 300.1,436.94 300.24,437.62 300.39,436.43 300.54,436.36 300.68,436.45 300.83,436.5 300.97,437.36 301.12,437.71 301.26,437.31 301.41,437.56 301.55,436.88 301.7,436.89 301.84,436.7 301.99,435.89 302.13,437.29 302.28,436.87 302.42,436.18 302.57,436.23 302.71,436.99 302.86,435.25 303,434.02 303.15,435.26 303.29,435.8 303.44,436.06 303.58,436.58 303.73,434.38 303.88,436.27 304.02,436.11 304.17,435.64 304.31,435.52 304.46,435.74 304.6,435.01 304.75,436.44 304.89,435 305.04,436.04 305.18,435.52 305.33,436.53 305.47,437.33 305.62,435.36 305.76,435.76 305.91,435.94 306.05,435.8 306.2,435.48 306.34,435.84 306.49,435.3 306.63,434.91 306.78,435.19 306.92,435.75 307.07,436.81 307.22,435.95 307.36,435.93 308.09,437.69 308.81,436.97 309.54,436.64 310.27,437.65 310.99,435.64 311.72,435.89 312.44,436.08 313.17,435.81 313.9,435.49 314.62,435.92 315.35,433.99 316.07,432.66 316.8,433.58" fill="none" stroke="#9E480E" stroke-width="1.25" stroke-linejoin="round" />
<polyline points="55.4,433.19 55.55,433.94 55.69,433.97 55.84,433.46 55.98,433.07 56.13,433.04 56.27,432.66 56.42,432.86 56.56,432.87 56.71,432.1 56.85,431.78 57,432.19 57.14,431.61 57.29,431.72 57.43,431.45 57.58,430.61 57.72,431.38 57.87,430.88 58.01,431.49 58.16,431.42 58.3,432.01 58.45,431.3 58.59,431.54 58.74,431.84 58.89,431.51 59.03,431.32 59.18,431.32 59.32,432.07 59.47,431.65 59.61,431.91 59.76,432.53 59.9,432.51 60.05,432.31 60.19,431.85 60.34,431.79 60.48,431.71 60.63,431.75 60.77,431.6 60.92,431.94 61.06,432.09 61.21,431.71 61.35,432.4 61.5,432.33 61.64,431.7 61.79,431.98 61.94,432.17 62.08,431.9 62.23,432.03 62.37,431.44 62.52,431.72 62.66,431.51 62.81,431.76 62.95,432.22 63.1,431.97 63.24,431.89 63.39,431.85 63.53,432.48 63.68,432.76 63.82,432.74 63.97,432.53 64.11,433.25 64.26,432.16 64.4,432.48 64.55,432.09 64.69,431.62 64.84,431.04 64.98,431.73 65.13,431.79 65.28,432.23 65.42,432.1 65.57,431.67 66.29,430.97 67.02,431.31 67.74,431.78 68.47,431.61 69.2,431.34 69.92,431.01 70.65,432.09 71.37,432.17 72.1,431.82 72.83,432.03 73.55,432.19 74.28,432.3 75,432.61 75.73,432.41 76.46,432.06 77.18,432.6 77.91,432.51 78.64,432.51 79.36,432.12 80.09,432.66 80.81,432.33 81.54,431.93 82.27,432.46 82.99,432.56 83.72,432.54 84.44,433.12 85.17,432.93 85.9,432.92 86.62,432.79 87.35,432.57 88.08,433.37 88.8,433.11 89.53,432.99 90.25,432.73 90.98,432.44 91.71,433 92.43,432.57 93.16,432.62 93.88,432.79 94.61,432.85 95.34,432.71 96.06,433.3 96.79,432.95 97.51,433.56 98.24,433.53 98.97,433.63 99.69,433.16 100.42,432.71 101.15,432.2 101.87,432.66 102.6,432.57 103.32,432.99 104.05,433 104.78,432.77 105.5,432.46 106.23,432.51 106.95,432.56 107.68,431.97 108.41,432.16 109.13,432.33 109.86,432.7 110.58,432.31 111.31,432.73 112.04,433.32 112.76,433.25 113.49,432.98 114.22,432.52 114.94,433.08 115.67,432.95 116.39,432.87 117.12,432.59 117.85,431.97 118.57,432.42 119.3,432.71 120.02,432.72 120.75,433.3 121.48,432.49 122.2,432.85 122.93,432.71 123.65,432.78 124.38,432.48 125.11,432.36 125.83,432.78 126.56,432.41 127.28,433.1 128.01,432.8 128.74,432.53 129.46,433.01 130.19,433.52 130.92,433.21 131.64,433.37 132.37,433.07 133.09,433.67 133.82,433.18 134.55,433.01 135.27,433.61 136,433.25 136.72,433.63 137.45,433.99 138.18,433.13 138.9,433.98 139.63,434.17 140.36,434.12 141.08,434.15 141.81,434.09 142.53,434.05 143.26,434.71 143.99,433.77 144.71,434.01 145.44,433.22 146.16,433.33 146.89,434.3 147.62,433.7 148.34,433.94 149.07,433.76 149.79,433.71 150.52,433.96 151.25,433.55 151.97,432.68 152.7,433.09 153.43,433.24 154.15,432.74 154.88,432.24 155.6,432.38 156.33,432.26 157.06,432.57 157.78,432.52 158.51,432.68 159.23,432.54 159.96,432.89 160.69,432.92 161.41,433.05 162.14,433.48 162.86,433.82 163.59,433.7 164.32,433.52 165.04,433.13 165.77,433.26 166.5,433.25 167.22,433.21 167.95,433.68 168.67,433.04 169.4,432.85 170.13,433.3 170.85,433.37 171.58,433.2 172.3,433.14 173.03,433.29 173.76,433.4 174.48,433.87 175.21,433.43 175.93,432.88 176.66,433.48 177.39,433.32 178.11,433.41 178.84,433.37 179.57,433.77 180.29,433.76 181.02,433.86 181.74,434.14 182.47,433.76 183.2,433.47 183.92,433.61 184.65,433.85 185.37,433.16 186.1,433.38 186.83,433.8 187.55,432.98 188.28,432.67 189,432.3 189.73,432.43 190.46,433.06 191.18,433.46 191.91,433.39 192.64,433.33 193.36,433.19 194.09,432.85 194.81,432.75 195.54,433.17 196.27,432.91 196.99,432.78 197.72,432.78 198.44,432.79 199.17,433.5 199.9,433.73 200.62,433.45 201.35,433.09 202.07,433.63 202.8,433.49 203.53,433.53 204.25,433.08 204.98,433.04 205.71,433.29 206.43,433.18 207.16,433.46 207.88,433.15 208.61,433.27 209.34,432.85 210.06,433.04 210.79,433.81 211.51,433.04 212.24,433.2 212.97,433.33 213.69,433.27 214.42,433.39 215.14,433.41 215.87,433.07 216.6,432.75 217.32,433.48 218.05,433.25 218.78,432.98 219.5,433.24 220.23,433.06 220.95,432.99 221.68,433.31 222.41,433.29 223.13,432.66 223.86,432.87 224.58,432.56 225.31,432.57 226.04,432.28 226.76,431.96 227.49,432.18 228.21,433.09 228.94,432.75 229.67,432.2 230.39,432.67 231.12,432.4 231.85,433.02 232.57,432.6 233.3,432.95 234.02,432.97 234.75,433.08 235.48,433.22 236.2,433.33 236.93,433.05 237.65,433.16 238.38,433.17 239.11,433.57 239.83,433.42 240.56,433.09 241.28,433.14 242.01,433.47 242.74,433.08 243.46,433.11 244.19,432.51 244.92,433.01 245.64,432.22 246.37,432.79 247.09,433.11 247.82,433.32 248.55,433.36 249.27,432.86 250,433.39 250.72,433.46 251.45,433.29 252.18,432.89 252.9,433.22 253.63,433.23 254.35,432.86 255.08,433.67 255.81,432.94 256.53,432.69 257.26,432.9 257.99,433.01 258.71,433.85 259.44,433.8 260.16,433.76 260.89,433.56 261.62,433.67 262.34,433.22 263.07,433.19 263.79,433.31 264.52,431.91 265.25,431.96 265.97,432.74 266.7,432.9 267.42,433.16 268.15,432.59 268.88,432.67 269.6,432.91 270.33,432.67 271.06,432.55 271.78,432.71 272.51,432.78 273.23,432.8 273.96,432.83 274.69,433.15 275.41,433.35 276.14,433.37 276.86,433.31 277.59,432.86 278.32,432.92 279.04,432.71 279.77,432.88 280.49,432.54 281.22,432.5 281.95,432.67 282.67,433.24 283.4,433.42 284.12,433.67 284.85,433.01 285.58,432.99 286.3,433.21 287.03,432.96 287.76,433.91 288.48,433.56 289.21,433.39 289.93,434.22 290.66,433.61 291.39,433.68 292.11,433.61 292.84,433.89 293.56,433.94 294.29,433.5 295.02,433.68 295.74,433.59 296.47,433.98 297.2,433.45 297.92,433.9 298.65,433.12 298.79,432.92 298.94,432.88 299.08,432.67 299.23,432.57 299.37,432.77 299.52,433.15 299.66,424.85 299.81,411.79 299.95,399.26 300.1,390.68 300.24,389.53 300.39,388.27 300.54,386.18 300.68,384.42 300.83,383.5 300.97,384.36 301.12,384.96 301.26,386.22 301.41,386.63 301.55,387.4 301.7,388.21 301.84,388.11 301.99,387.34 302.13,386.22 302.28,385.67 302.42,384.91 302.57,385.2 302.71,385.04 302.86,385.37 303,385.63 303.15,385.83 303.29,386.1 303.44,386.85 303.58,387.06 303.73,387 303.88,387.23 304.02,387.46 304.17,387.5 304.31,387.88 304.46,388.17 304.6,387.93 304.75,389.35 304.89,389.65 305.04,390.08 305.18,390.09 305.33,390.04 305.47,389.93 305.62,389.82 305.76,389.96 305.91,389.3 306.05,388.9 306.2,388.82 306.34,389.15 306.49,388.97 306.63,388.02 306.78,388.81 306.92,388.35 307.07,388.07 307.22,388.46 307.36,388.15 308.09,388.18 308.81,387.59 309.54,386.53 310.27,386.3 310.99,386.08 311.72,385.56 312.44,384.53 313.17,383.75 313.9,383.21 314.62,383.24 315.35,382.67 316.07,381.72 316.8,381.28" fill="none" stroke="#4472C4" stroke-width="1.25" stroke-linejoin="round" />
<text x="47.8" y="458.8" font-family="'Liberation Serif', 'Times New Roman', serif" font-size="6.4" fill="#555555" text-anchor="end" textLength="17.2" lengthAdjust="spacingAndGlyphs" >0.000</text>
<text x="47.8" y="449.05" font-family="'Liberation Serif', 'Times New Roman', serif" font-size="6.4" fill="#555555" text-anchor="end" textLength="17.2" lengthAdjust="spacingAndGlyphs" >0.050</text>
<text x="47.8" y="439.3" font-family="'Liberation Serif', 'Times New Roman', serif" font-size="6.4" fill="#555555" text-anchor="end" textLength="17.2" lengthAdjust="spacingAndGlyphs" >0.100</text>
<text x="47.8" y="429.55" font-family="'Liberation Serif', 'Times New Roman', serif" font-size="6.4" fill="#555555" text-anchor="end" textLength="17.2" lengthAdjust="spacingAndGlyphs" >0.150</text>
<text x="47.8" y="419.8" font-family="'Liberation Serif', 'Times New Roman', serif" font-size="6.4" fill="#555555" text-anchor="end" textLength="17.2" lengthAdjust="spacingAndGlyphs" >0.200</text>
<text x="47.8" y="410.05" font-family="'Liberation Serif', 'Times New Roman', serif" font-size="6.4" fill="#555555" text-anchor="end" textLength="17.2" lengthAdjust="spacingAndGlyphs" >0.250</text>
<text x="47.8" y="400.3" font-family="'Liberation Serif', 'Times New Roman', serif" font-size="6.4" fill="#555555" text-anchor="end" textLength="17.2" lengthAdjust="spacingAndGlyphs" >0.300</text>
<text x="47.8" y="390.55" font-family="'Liberation Serif', 'Times New Roman', serif" font-size="6.4" fill="#555555" text-anchor="end" textLength="17.2" lengthAdjust="spacingAndGlyphs" >0.350</text>
<text x="47.8" y="380.8" font-family="'Liberation Serif', 'Times New Roman', serif" font-size="6.4" fill="#555555" text-anchor="end" textLength="17.2" lengthAdjust="spacingAndGlyphs" >0.400</text>
<text x="55.4" y="467" font-family="'Liberation Serif', 'Times New Roman', serif" font-size="6.4" fill="#555555" text-anchor="middle" textLength="3.62" lengthAdjust="spacingAndGlyphs" >0</text>
<text x="98.97" y="467" font-family="'Liberation Serif', 'Times New Roman', serif" font-size="6.4" fill="#555555" text-anchor="middle" textLength="10.86" lengthAdjust="spacingAndGlyphs" >600</text>
<text x="142.53" y="467" font-family="'Liberation Serif', 'Times New Roman', serif" font-size="6.4" fill="#555555" text-anchor="middle" textLength="14.48" lengthAdjust="spacingAndGlyphs" >1200</text>
<text x="186.1" y="467" font-family="'Liberation Serif', 'Times New Roman', serif" font-size="6.4" fill="#555555" text-anchor="middle" textLength="14.48" lengthAdjust="spacingAndGlyphs" >1800</text>
<text x="229.67" y="467" font-family="'Liberation Serif', 'Times New Roman', serif" font-size="6.4" fill="#555555" text-anchor="middle" textLength="14.48" lengthAdjust="spacingAndGlyphs" >2400</text>
<text x="273.23" y="467" font-family="'Liberation Serif', 'Times New Roman', serif" font-size="6.4" fill="#555555" text-anchor="middle" textLength="14.48" lengthAdjust="spacingAndGlyphs" >3000</text>
<text x="316.8" y="467" font-family="'Liberation Serif', 'Times New Roman', serif" font-size="6.4" fill="#555555" text-anchor="middle" textLength="14.48" lengthAdjust="spacingAndGlyphs" >3600</text>
<text x="186.6" y="479.2" font-family="'Liberation Serif', 'Times New Roman', serif" font-size="10.2" fill="#555555" text-anchor="middle" textLength="38.8" lengthAdjust="spacingAndGlyphs" >Time/Sec</text>
<text x="25.8" y="418" font-family="'Liberation Serif', 'Times New Roman', serif" font-size="9" fill="#555555" text-anchor="middle" transform="rotate(-90 25.8 418)" textLength="15.5" lengthAdjust="spacingAndGlyphs" >COF</text>
<text x="9.6" y="384.8" font-family="'Liberation Serif', 'Times New Roman', serif" font-size="14" fill="#000" text-anchor="start" stroke="#000" stroke-width="0.25">(e)</text>
<line x1="54.4" y1="495.2" x2="71" y2="495.2" stroke="#4472C4" stroke-width="1.1" />
<text x="73.6" y="497.4" font-family="'Liberation Sans', Arial, sans-serif" font-size="6.2" fill="#555555" text-anchor="start" >PAO4</text>
<line x1="133.2" y1="495.2" x2="150" y2="495.2" stroke="#ED7D31" stroke-width="1.1" />
<text x="152.4" y="497.4" font-family="'Liberation Sans', Arial, sans-serif" font-size="6.2" fill="#555555" text-anchor="start" textLength="55.5" lengthAdjust="spacingAndGlyphs" >PAO4+0.2 wt% Cu</text>
<line x1="212.2" y1="495.2" x2="229.1" y2="495.2" stroke="#A5A5A5" stroke-width="1.1" />
<text x="231" y="497.4" font-family="'Liberation Sans', Arial, sans-serif" font-size="6.2" fill="#555555" text-anchor="start" textLength="55.5" lengthAdjust="spacingAndGlyphs" >PAO4+0.4 wt% Cu</text>
<line x1="54.4" y1="507.6" x2="71" y2="507.6" stroke="#FFC000" stroke-width="1.1" />
<text x="73.6" y="509.8" font-family="'Liberation Sans', Arial, sans-serif" font-size="6.2" fill="#555555" text-anchor="start" textLength="55.5" lengthAdjust="spacingAndGlyphs" >PAO4+0.6 wt% Cu</text>
<line x1="133.2" y1="507.6" x2="150" y2="507.6" stroke="#5B9BD5" stroke-width="1.1" />
<text x="152.4" y="509.8" font-family="'Liberation Sans', Arial, sans-serif" font-size="6.2" fill="#555555" text-anchor="start" textLength="57" lengthAdjust="spacingAndGlyphs" >PAO4+0.8 wt % Cu</text>
<line x1="212.2" y1="507.6" x2="229.1" y2="507.6" stroke="#70AD47" stroke-width="1.1" />
<text x="231" y="509.8" font-family="'Liberation Sans', Arial, sans-serif" font-size="6.2" fill="#555555" text-anchor="start" textLength="55.5" lengthAdjust="spacingAndGlyphs" >PAO4+1.0 wt% Cu</text>
<line x1="54.4" y1="519.6" x2="71" y2="519.6" stroke="#264478" stroke-width="1.1" />
<text x="73.6" y="521.8" font-family="'Liberation Sans', Arial, sans-serif" font-size="6.2" fill="#555555" text-anchor="start" textLength="55.5" lengthAdjust="spacingAndGlyphs" >PAO4+1.2 wt% Cu</text>
<line x1="133.2" y1="519.6" x2="150" y2="519.6" stroke="#9E480E" stroke-width="1.1" />
<text x="152.4" y="521.8" font-family="'Liberation Sans', Arial, sans-serif" font-size="6.2" fill="#555555" text-anchor="start" textLength="55.5" lengthAdjust="spacingAndGlyphs" >PAO4+1.4 wt% Cu</text>
<rect x="363.5" y="367.2" width="176.3" height="156.2" fill="none" stroke="#222" stroke-width="1.15" />
<line x1="363.5" y1="523.4" x2="363.5" y2="525.4" stroke="#222" stroke-width="0.7" />
<line x1="363.5" y1="367.2" x2="363.5" y2="365.2" stroke="#222" stroke-width="0.7" />
<text x="363.5" y="532.2" font-family="'Liberation Serif', 'Times New Roman', serif" font-size="5.6" fill="#444" text-anchor="middle" >45</text>
<line x1="370.85" y1="523.4" x2="370.85" y2="524.6" stroke="#222" stroke-width="0.6" />
<line x1="370.85" y1="367.2" x2="370.85" y2="366" stroke="#222" stroke-width="0.6" />
<line x1="378.19" y1="523.4" x2="378.19" y2="525.4" stroke="#222" stroke-width="0.7" />
<line x1="378.19" y1="367.2" x2="378.19" y2="365.2" stroke="#222" stroke-width="0.7" />
<text x="378.19" y="532.2" font-family="'Liberation Serif', 'Times New Roman', serif" font-size="5.6" fill="#444" text-anchor="middle" >50</text>
<line x1="385.54" y1="523.4" x2="385.54" y2="524.6" stroke="#222" stroke-width="0.6" />
<line x1="385.54" y1="367.2" x2="385.54" y2="366" stroke="#222" stroke-width="0.6" />
<line x1="392.88" y1="523.4" x2="392.88" y2="525.4" stroke="#222" stroke-width="0.7" />
<line x1="392.88" y1="367.2" x2="392.88" y2="365.2" stroke="#222" stroke-width="0.7" />
<text x="392.88" y="532.2" font-family="'Liberation Serif', 'Times New Roman', serif" font-size="5.6" fill="#444" text-anchor="middle" >55</text>
<line x1="400.23" y1="523.4" x2="400.23" y2="524.6" stroke="#222" stroke-width="0.6" />
<line x1="400.23" y1="367.2" x2="400.23" y2="366" stroke="#222" stroke-width="0.6" />
<line x1="407.57" y1="523.4" x2="407.57" y2="525.4" stroke="#222" stroke-width="0.7" />
<line x1="407.57" y1="367.2" x2="407.57" y2="365.2" stroke="#222" stroke-width="0.7" />
<text x="407.57" y="532.2" font-family="'Liberation Serif', 'Times New Roman', serif" font-size="5.6" fill="#444" text-anchor="middle" >60</text>
<line x1="414.92" y1="523.4" x2="414.92" y2="524.6" stroke="#222" stroke-width="0.6" />
<line x1="414.92" y1="367.2" x2="414.92" y2="366" stroke="#222" stroke-width="0.6" />
<line x1="422.27" y1="523.4" x2="422.27" y2="525.4" stroke="#222" stroke-width="0.7" />
<line x1="422.27" y1="367.2" x2="422.27" y2="365.2" stroke="#222" stroke-width="0.7" />
<text x="422.27" y="532.2" font-family="'Liberation Serif', 'Times New Roman', serif" font-size="5.6" fill="#444" text-anchor="middle" >65</text>
<line x1="429.61" y1="523.4" x2="429.61" y2="524.6" stroke="#222" stroke-width="0.6" />
<line x1="429.61" y1="367.2" x2="429.61" y2="366" stroke="#222" stroke-width="0.6" />
<line x1="436.96" y1="523.4" x2="436.96" y2="525.4" stroke="#222" stroke-width="0.7" />
<line x1="436.96" y1="367.2" x2="436.96" y2="365.2" stroke="#222" stroke-width="0.7" />
<text x="436.96" y="532.2" font-family="'Liberation Serif', 'Times New Roman', serif" font-size="5.6" fill="#444" text-anchor="middle" >70</text>
<line x1="444.3" y1="523.4" x2="444.3" y2="524.6" stroke="#222" stroke-width="0.6" />
<line x1="444.3" y1="367.2" x2="444.3" y2="366" stroke="#222" stroke-width="0.6" />
<line x1="451.65" y1="523.4" x2="451.65" y2="525.4" stroke="#222" stroke-width="0.7" />
<line x1="451.65" y1="367.2" x2="451.65" y2="365.2" stroke="#222" stroke-width="0.7" />
<text x="451.65" y="532.2" font-family="'Liberation Serif', 'Times New Roman', serif" font-size="5.6" fill="#444" text-anchor="middle" >75</text>
<line x1="459" y1="523.4" x2="459" y2="524.6" stroke="#222" stroke-width="0.6" />
<line x1="459" y1="367.2" x2="459" y2="366" stroke="#222" stroke-width="0.6" />
<line x1="466.34" y1="523.4" x2="466.34" y2="525.4" stroke="#222" stroke-width="0.7" />
<line x1="466.34" y1="367.2" x2="466.34" y2="365.2" stroke="#222" stroke-width="0.7" />
<text x="466.34" y="532.2" font-family="'Liberation Serif', 'Times New Roman', serif" font-size="5.6" fill="#444" text-anchor="middle" >80</text>
<line x1="473.69" y1="523.4" x2="473.69" y2="524.6" stroke="#222" stroke-width="0.6" />
<line x1="473.69" y1="367.2" x2="473.69" y2="366" stroke="#222" stroke-width="0.6" />
<line x1="481.03" y1="523.4" x2="481.03" y2="525.4" stroke="#222" stroke-width="0.7" />
<line x1="481.03" y1="367.2" x2="481.03" y2="365.2" stroke="#222" stroke-width="0.7" />
<text x="481.03" y="532.2" font-family="'Liberation Serif', 'Times New Roman', serif" font-size="5.6" fill="#444" text-anchor="middle" >85</text>
<line x1="488.38" y1="523.4" x2="488.38" y2="524.6" stroke="#222" stroke-width="0.6" />
<line x1="488.38" y1="367.2" x2="488.38" y2="366" stroke="#222" stroke-width="0.6" />
<line x1="495.72" y1="523.4" x2="495.72" y2="525.4" stroke="#222" stroke-width="0.7" />
<line x1="495.72" y1="367.2" x2="495.72" y2="365.2" stroke="#222" stroke-width="0.7" />
<text x="495.72" y="532.2" font-family="'Liberation Serif', 'Times New Roman', serif" font-size="5.6" fill="#444" text-anchor="middle" >90</text>
<line x1="503.07" y1="523.4" x2="503.07" y2="524.6" stroke="#222" stroke-width="0.6" />
<line x1="503.07" y1="367.2" x2="503.07" y2="366" stroke="#222" stroke-width="0.6" />
<line x1="510.42" y1="523.4" x2="510.42" y2="525.4" stroke="#222" stroke-width="0.7" />
<line x1="510.42" y1="367.2" x2="510.42" y2="365.2" stroke="#222" stroke-width="0.7" />
<text x="510.42" y="532.2" font-family="'Liberation Serif', 'Times New Roman', serif" font-size="5.6" fill="#444" text-anchor="middle" >95</text>
<line x1="517.76" y1="523.4" x2="517.76" y2="524.6" stroke="#222" stroke-width="0.6" />
<line x1="517.76" y1="367.2" x2="517.76" y2="366" stroke="#222" stroke-width="0.6" />
<line x1="525.11" y1="523.4" x2="525.11" y2="525.4" stroke="#222" stroke-width="0.7" />
<line x1="525.11" y1="367.2" x2="525.11" y2="365.2" stroke="#222" stroke-width="0.7" />
<text x="525.11" y="532.2" font-family="'Liberation Serif', 'Times New Roman', serif" font-size="5.6" fill="#444" text-anchor="middle" >100</text>
<line x1="532.45" y1="523.4" x2="532.45" y2="524.6" stroke="#222" stroke-width="0.6" />
<line x1="532.45" y1="367.2" x2="532.45" y2="366" stroke="#222" stroke-width="0.6" />
<line x1="539.8" y1="523.4" x2="539.8" y2="525.4" stroke="#222" stroke-width="0.7" />
<line x1="539.8" y1="367.2" x2="539.8" y2="365.2" stroke="#222" stroke-width="0.7" />
<text x="539.8" y="532.2" font-family="'Liberation Serif', 'Times New Roman', serif" font-size="5.6" fill="#444" text-anchor="middle" >105</text>
<line x1="363.5" y1="523.4" x2="361.5" y2="523.4" stroke="#222" stroke-width="0.7" />
<text x="359" y="525.3" font-family="'Liberation Serif', 'Times New Roman', serif" font-size="5.4" fill="#444" text-anchor="end" >0.04</text>
<line x1="363.5" y1="517.39" x2="362.3" y2="517.39" stroke="#222" stroke-width="0.6" />
<line x1="363.5" y1="511.38" x2="361.5" y2="511.38" stroke="#222" stroke-width="0.7" />
<text x="359" y="513.28" font-family="'Liberation Serif', 'Times New Roman', serif" font-size="5.4" fill="#444" text-anchor="end" >0.06</text>
<line x1="363.5" y1="505.38" x2="362.3" y2="505.38" stroke="#222" stroke-width="0.6" />
<line x1="363.5" y1="499.37" x2="361.5" y2="499.37" stroke="#222" stroke-width="0.7" />
<text x="359" y="501.27" font-family="'Liberation Serif', 'Times New Roman', serif" font-size="5.4" fill="#444" text-anchor="end" >0.08</text>
<line x1="363.5" y1="493.36" x2="362.3" y2="493.36" stroke="#222" stroke-width="0.6" />
<line x1="363.5" y1="487.35" x2="361.5" y2="487.35" stroke="#222" stroke-width="0.7" />
<text x="359" y="489.25" font-family="'Liberation Serif', 'Times New Roman', serif" font-size="5.4" fill="#444" text-anchor="end" >0.10</text>
<line x1="363.5" y1="481.35" x2="362.3" y2="481.35" stroke="#222" stroke-width="0.6" />
<line x1="363.5" y1="475.34" x2="361.5" y2="475.34" stroke="#222" stroke-width="0.7" />
<text x="359" y="477.24" font-family="'Liberation Serif', 'Times New Roman', serif" font-size="5.4" fill="#444" text-anchor="end" >0.12</text>
<line x1="363.5" y1="469.33" x2="362.3" y2="469.33" stroke="#222" stroke-width="0.6" />
<line x1="363.5" y1="463.32" x2="361.5" y2="463.32" stroke="#222" stroke-width="0.7" />
<text x="359" y="465.22" font-family="'Liberation Serif', 'Times New Roman', serif" font-size="5.4" fill="#444" text-anchor="end" >0.14</text>
<line x1="363.5" y1="457.32" x2="362.3" y2="457.32" stroke="#222" stroke-width="0.6" />
<line x1="363.5" y1="451.31" x2="361.5" y2="451.31" stroke="#222" stroke-width="0.7" />
<text x="359" y="453.21" font-family="'Liberation Serif', 'Times New Roman', serif" font-size="5.4" fill="#444" text-anchor="end" >0.16</text>
<line x1="363.5" y1="445.3" x2="362.3" y2="445.3" stroke="#222" stroke-width="0.6" />
<line x1="363.5" y1="439.29" x2="361.5" y2="439.29" stroke="#222" stroke-width="0.7" />
<text x="359" y="441.19" font-family="'Liberation Serif', 'Times New Roman', serif" font-size="5.4" fill="#444" text-anchor="end" >0.18</text>
<line x1="363.5" y1="433.28" x2="362.3" y2="433.28" stroke="#222" stroke-width="0.6" />
<line x1="363.5" y1="427.28" x2="361.5" y2="427.28" stroke="#222" stroke-width="0.7" />
<text x="359" y="429.18" font-family="'Liberation Serif', 'Times New Roman', serif" font-size="5.4" fill="#444" text-anchor="end" >0.20</text>
<line x1="363.5" y1="421.27" x2="362.3" y2="421.27" stroke="#222" stroke-width="0.6" />
<line x1="363.5" y1="415.26" x2="361.5" y2="415.26" stroke="#222" stroke-width="0.7" />
<text x="359" y="417.16" font-family="'Liberation Serif', 'Times New Roman', serif" font-size="5.4" fill="#444" text-anchor="end" >0.22</text>
<line x1="363.5" y1="409.25" x2="362.3" y2="409.25" stroke="#222" stroke-width="0.6" />
<line x1="363.5" y1="403.25" x2="361.5" y2="403.25" stroke="#222" stroke-width="0.7" />
<text x="359" y="405.15" font-family="'Liberation Serif', 'Times New Roman', serif" font-size="5.4" fill="#444" text-anchor="end" >0.24</text>
<line x1="363.5" y1="397.24" x2="362.3" y2="397.24" stroke="#222" stroke-width="0.6" />
<line x1="363.5" y1="391.23" x2="361.5" y2="391.23" stroke="#222" stroke-width="0.7" />
<text x="359" y="393.13" font-family="'Liberation Serif', 'Times New Roman', serif" font-size="5.4" fill="#444" text-anchor="end" >0.26</text>
<line x1="363.5" y1="385.22" x2="362.3" y2="385.22" stroke="#222" stroke-width="0.6" />
<line x1="363.5" y1="379.22" x2="361.5" y2="379.22" stroke="#222" stroke-width="0.7" />
<text x="359" y="381.12" font-family="'Liberation Serif', 'Times New Roman', serif" font-size="5.4" fill="#444" text-anchor="end" >0.28</text>
<line x1="363.5" y1="373.21" x2="362.3" y2="373.21" stroke="#222" stroke-width="0.6" />
<line x1="363.5" y1="367.2" x2="361.5" y2="367.2" stroke="#222" stroke-width="0.7" />
<text x="359" y="369.1" font-family="'Liberation Serif', 'Times New Roman', serif" font-size="5.4" fill="#444" text-anchor="end" >0.30</text>
<line x1="539.8" y1="523.4" x2="541.8" y2="523.4" stroke="#222" stroke-width="0.7" />
<line x1="539.8" y1="507.85" x2="541.8" y2="507.85" stroke="#222" stroke-width="0.7" />
<line x1="539.8" y1="492.3" x2="541.8" y2="492.3" stroke="#222" stroke-width="0.7" />
<line x1="539.8" y1="476.75" x2="541.8" y2="476.75" stroke="#222" stroke-width="0.7" />
<line x1="539.8" y1="461.2" x2="541.8" y2="461.2" stroke="#222" stroke-width="0.7" />
<line x1="539.8" y1="445.65" x2="541.8" y2="445.65" stroke="#222" stroke-width="0.7" />
<line x1="539.8" y1="430.1" x2="541.8" y2="430.1" stroke="#222" stroke-width="0.7" />
<line x1="539.8" y1="414.55" x2="541.8" y2="414.55" stroke="#222" stroke-width="0.7" />
<line x1="539.8" y1="399" x2="541.8" y2="399" stroke="#222" stroke-width="0.7" />
<line x1="539.8" y1="383.45" x2="541.8" y2="383.45" stroke="#222" stroke-width="0.7" />
<line x1="378.19" y1="468.43" x2="378.19" y2="459.42" stroke="#000000" stroke-width="0.45" opacity="0.6"/>
<line x1="377.19" y1="459.42" x2="379.19" y2="459.42" stroke="#000000" stroke-width="0.45" opacity="0.6"/>
<line x1="377.19" y1="468.43" x2="379.19" y2="468.43" stroke="#000000" stroke-width="0.45" opacity="0.6"/>
<rect x="376.24" y="461.97" width="3.9" height="3.9" fill="#000000" stroke="none" stroke-width="1" />
<line x1="451.65" y1="460.02" x2="451.65" y2="451.01" stroke="#000000" stroke-width="0.45" opacity="0.6"/>
<line x1="450.65" y1="451.01" x2="452.65" y2="451.01" stroke="#000000" stroke-width="0.45" opacity="0.6"/>
<line x1="450.65" y1="460.02" x2="452.65" y2="460.02" stroke="#000000" stroke-width="0.45" opacity="0.6"/>
<rect x="449.7" y="453.56" width="3.9" height="3.9" fill="#000000" stroke="none" stroke-width="1" />
<line x1="525.11" y1="446.8" x2="525.11" y2="437.79" stroke="#000000" stroke-width="0.45" opacity="0.6"/>
<line x1="524.11" y1="437.79" x2="526.11" y2="437.79" stroke="#000000" stroke-width="0.45" opacity="0.6"/>
<line x1="524.11" y1="446.8" x2="526.11" y2="446.8" stroke="#000000" stroke-width="0.45" opacity="0.6"/>
<rect x="523.16" y="440.35" width="3.9" height="3.9" fill="#000000" stroke="none" stroke-width="1" />
<line x1="378.19" y1="485.55" x2="378.19" y2="478.34" stroke="#ff1010" stroke-width="0.45" opacity="0.6"/>
<line x1="377.19" y1="478.34" x2="379.19" y2="478.34" stroke="#ff1010" stroke-width="0.45" opacity="0.6"/>
<line x1="377.19" y1="485.55" x2="379.19" y2="485.55" stroke="#ff1010" stroke-width="0.45" opacity="0.6"/>
<circle cx="378.19" cy="481.95" r="2.05" fill="#ff1010" stroke="none" stroke-width="1" />
<line x1="451.65" y1="480.75" x2="451.65" y2="473.54" stroke="#ff1010" stroke-width="0.45" opacity="0.6"/>
<line x1="450.65" y1="473.54" x2="452.65" y2="473.54" stroke="#ff1010" stroke-width="0.45" opacity="0.6"/>
<line x1="450.65" y1="480.75" x2="452.65" y2="480.75" stroke="#ff1010" stroke-width="0.45" opacity="0.6"/>
<circle cx="451.65" cy="477.14" r="2.05" fill="#ff1010" stroke="none" stroke-width="1" />
<line x1="525.11" y1="472.94" x2="525.11" y2="465.73" stroke="#ff1010" stroke-width="0.45" opacity="0.6"/>
<line x1="524.11" y1="465.73" x2="526.11" y2="465.73" stroke="#ff1010" stroke-width="0.45" opacity="0.6"/>
<line x1="524.11" y1="472.94" x2="526.11" y2="472.94" stroke="#ff1010" stroke-width="0.45" opacity="0.6"/>
<circle cx="525.11" cy="469.33" r="2.05" fill="#ff1010" stroke="none" stroke-width="1" />
<line x1="378.19" y1="506.88" x2="378.19" y2="503.27" stroke="#1010ee" stroke-width="0.45" opacity="0.6"/>
<line x1="377.19" y1="503.27" x2="379.19" y2="503.27" stroke="#1010ee" stroke-width="0.45" opacity="0.6"/>
<line x1="377.19" y1="506.88" x2="379.19" y2="506.88" stroke="#1010ee" stroke-width="0.45" opacity="0.6"/>
<polygon points="378.19,502.74 375.85,507.03 380.53,507.03" fill="#1010ee"/>
<line x1="451.65" y1="506.58" x2="451.65" y2="502.97" stroke="#1010ee" stroke-width="0.45" opacity="0.6"/>
<line x1="450.65" y1="502.97" x2="452.65" y2="502.97" stroke="#1010ee" stroke-width="0.45" opacity="0.6"/>
<line x1="450.65" y1="506.58" x2="452.65" y2="506.58" stroke="#1010ee" stroke-width="0.45" opacity="0.6"/>
<polygon points="451.65,502.44 449.31,506.73 453.99,506.73" fill="#1010ee"/>
<line x1="525.11" y1="503.27" x2="525.11" y2="499.67" stroke="#1010ee" stroke-width="0.45" opacity="0.6"/>
<line x1="524.11" y1="499.67" x2="526.11" y2="499.67" stroke="#1010ee" stroke-width="0.45" opacity="0.6"/>
<line x1="524.11" y1="503.27" x2="526.11" y2="503.27" stroke="#1010ee" stroke-width="0.45" opacity="0.6"/>
<polygon points="525.11,499.13 522.77,503.42 527.45,503.42" fill="#1010ee"/>
<line x1="378.19" y1="500.57" x2="378.19" y2="495.76" stroke="#ff20ff" stroke-width="0.45" opacity="0.6"/>
<line x1="377.19" y1="495.76" x2="379.19" y2="495.76" stroke="#ff20ff" stroke-width="0.45" opacity="0.6"/>
<line x1="377.19" y1="500.57" x2="379.19" y2="500.57" stroke="#ff20ff" stroke-width="0.45" opacity="0.6"/>
<polygon points="378.19,500.51 375.85,496.22 380.53,496.22" fill="#ff20ff"/>
<line x1="451.65" y1="497.09" x2="451.65" y2="492.28" stroke="#ff20ff" stroke-width="0.45" opacity="0.6"/>
<line x1="450.65" y1="492.28" x2="452.65" y2="492.28" stroke="#ff20ff" stroke-width="0.45" opacity="0.6"/>
<line x1="450.65" y1="497.09" x2="452.65" y2="497.09" stroke="#ff20ff" stroke-width="0.45" opacity="0.6"/>
<polygon points="451.65,497.02 449.31,492.73 453.99,492.73" fill="#ff20ff"/>
<line x1="525.11" y1="493.06" x2="525.11" y2="488.25" stroke="#ff20ff" stroke-width="0.45" opacity="0.6"/>
<line x1="524.11" y1="488.25" x2="526.11" y2="488.25" stroke="#ff20ff" stroke-width="0.45" opacity="0.6"/>
<line x1="524.11" y1="493.06" x2="526.11" y2="493.06" stroke="#ff20ff" stroke-width="0.45" opacity="0.6"/>
<polygon points="525.11,493 522.77,488.71 527.45,488.71" fill="#ff20ff"/>
<line x1="378.19" y1="519.92" x2="378.19" y2="517.51" stroke="#008a00" stroke-width="0.45" opacity="0.6"/>
<line x1="377.19" y1="517.51" x2="379.19" y2="517.51" stroke="#008a00" stroke-width="0.45" opacity="0.6"/>
<line x1="377.19" y1="519.92" x2="379.19" y2="519.92" stroke="#008a00" stroke-width="0.45" opacity="0.6"/>
<polygon points="378.19,516.18 380.73,518.71 378.19,521.25 375.66,518.71" fill="#008a00"/>
<line x1="451.65" y1="519.19" x2="451.65" y2="516.79" stroke="#008a00" stroke-width="0.45" opacity="0.6"/>
<line x1="450.65" y1="516.79" x2="452.65" y2="516.79" stroke="#008a00" stroke-width="0.45" opacity="0.6"/>
<line x1="450.65" y1="519.19" x2="452.65" y2="519.19" stroke="#008a00" stroke-width="0.45" opacity="0.6"/>
<polygon points="451.65,515.46 454.19,517.99 451.65,520.53 449.11,517.99" fill="#008a00"/>
<line x1="525.11" y1="516.97" x2="525.11" y2="514.57" stroke="#008a00" stroke-width="0.45" opacity="0.6"/>
<line x1="524.11" y1="514.57" x2="526.11" y2="514.57" stroke="#008a00" stroke-width="0.45" opacity="0.6"/>
<line x1="524.11" y1="516.97" x2="526.11" y2="516.97" stroke="#008a00" stroke-width="0.45" opacity="0.6"/>
<polygon points="525.11,513.24 527.64,515.77 525.11,518.31 522.57,515.77" fill="#008a00"/>
<line x1="378.19" y1="504.18" x2="378.19" y2="500.57" stroke="#000080" stroke-width="0.45" opacity="0.6"/>
<line x1="377.19" y1="500.57" x2="379.19" y2="500.57" stroke="#000080" stroke-width="0.45" opacity="0.6"/>
<line x1="377.19" y1="504.18" x2="379.19" y2="504.18" stroke="#000080" stroke-width="0.45" opacity="0.6"/>
<polygon points="375.85,502.37 380.14,500.03 380.14,504.71" fill="#000080"/>
<line x1="451.65" y1="504.18" x2="451.65" y2="500.57" stroke="#000080" stroke-width="0.45" opacity="0.6"/>
<line x1="450.65" y1="500.57" x2="452.65" y2="500.57" stroke="#000080" stroke-width="0.45" opacity="0.6"/>
<line x1="450.65" y1="504.18" x2="452.65" y2="504.18" stroke="#000080" stroke-width="0.45" opacity="0.6"/>
<polygon points="449.31,502.37 453.6,500.03 453.6,504.71" fill="#000080"/>
<line x1="525.11" y1="500.57" x2="525.11" y2="496.97" stroke="#000080" stroke-width="0.45" opacity="0.6"/>
<line x1="524.11" y1="496.97" x2="526.11" y2="496.97" stroke="#000080" stroke-width="0.45" opacity="0.6"/>
<line x1="524.11" y1="500.57" x2="526.11" y2="500.57" stroke="#000080" stroke-width="0.45" opacity="0.6"/>
<polygon points="522.77,498.77 527.06,496.43 527.06,501.11" fill="#000080"/>
<line x1="378.19" y1="514.03" x2="378.19" y2="511.62" stroke="#9a20f0" stroke-width="0.45" opacity="0.6"/>
<line x1="377.19" y1="511.62" x2="379.19" y2="511.62" stroke="#9a20f0" stroke-width="0.45" opacity="0.6"/>
<line x1="377.19" y1="514.03" x2="379.19" y2="514.03" stroke="#9a20f0" stroke-width="0.45" opacity="0.6"/>
<polygon points="380.53,512.83 376.24,510.49 376.24,515.17" fill="#9a20f0"/>
<line x1="451.65" y1="512.59" x2="451.65" y2="510.18" stroke="#9a20f0" stroke-width="0.45" opacity="0.6"/>
<line x1="450.65" y1="510.18" x2="452.65" y2="510.18" stroke="#9a20f0" stroke-width="0.45" opacity="0.6"/>
<line x1="450.65" y1="512.59" x2="452.65" y2="512.59" stroke="#9a20f0" stroke-width="0.45" opacity="0.6"/>
<polygon points="453.99,511.38 449.7,509.04 449.7,513.72" fill="#9a20f0"/>
<line x1="525.11" y1="505.38" x2="525.11" y2="502.97" stroke="#9a20f0" stroke-width="0.45" opacity="0.6"/>
<line x1="524.11" y1="502.97" x2="526.11" y2="502.97" stroke="#9a20f0" stroke-width="0.45" opacity="0.6"/>
<line x1="524.11" y1="505.38" x2="526.11" y2="505.38" stroke="#9a20f0" stroke-width="0.45" opacity="0.6"/>
<polygon points="527.45,504.18 523.16,501.84 523.16,506.52" fill="#9a20f0"/>
<line x1="378.19" y1="503.21" x2="378.19" y2="499.61" stroke="#800080" stroke-width="0.45" opacity="0.6"/>
<line x1="377.19" y1="499.61" x2="379.19" y2="499.61" stroke="#800080" stroke-width="0.45" opacity="0.6"/>
<line x1="377.19" y1="503.21" x2="379.19" y2="503.21" stroke="#800080" stroke-width="0.45" opacity="0.6"/>
<circle cx="378.19" cy="501.41" r="2.05" fill="#800080" stroke="none" stroke-width="1" />
<line x1="451.65" y1="500.57" x2="451.65" y2="496.97" stroke="#800080" stroke-width="0.45" opacity="0.6"/>
<line x1="450.65" y1="496.97" x2="452.65" y2="496.97" stroke="#800080" stroke-width="0.45" opacity="0.6"/>
<line x1="450.65" y1="500.57" x2="452.65" y2="500.57" stroke="#800080" stroke-width="0.45" opacity="0.6"/>
<circle cx="451.65" cy="498.77" r="2.05" fill="#800080" stroke="none" stroke-width="1" />
<line x1="525.11" y1="496.97" x2="525.11" y2="493.36" stroke="#800080" stroke-width="0.45" opacity="0.6"/>
<line x1="524.11" y1="493.36" x2="526.11" y2="493.36" stroke="#800080" stroke-width="0.45" opacity="0.6"/>
<line x1="524.11" y1="496.97" x2="526.11" y2="496.97" stroke="#800080" stroke-width="0.45" opacity="0.6"/>
<circle cx="525.11" cy="495.16" r="2.05" fill="#800080" stroke="none" stroke-width="1" />
<rect x="394.4" y="373.6" width="95.6" height="73" fill="#fff" stroke="#555" stroke-width="0.6" />
<rect x="407.6" y="381.1" width="3.2" height="3.2" fill="#000000" stroke="none" stroke-width="1" />
<text x="418.4" y="384.9" font-family="'Liberation Sans', Arial, sans-serif" font-size="6" fill="#222" text-anchor="start" >Base oil (Uni)</text>
<circle cx="409.2" cy="390.88" r="1.68" fill="#ff1010" stroke="none" stroke-width="1" />
<text x="418.4" y="393.08" font-family="'Liberation Sans', Arial, sans-serif" font-size="6" fill="#222" text-anchor="start" >Base oil (Reci)</text>
<polygon points="409.2,397.14 407.28,400.66 411.12,400.66" fill="#1010ee"/>
<text x="418.4" y="401.26" font-family="'Liberation Sans', Arial, sans-serif" font-size="6" fill="#222" text-anchor="start" >0.5 wt % EC-CNT (Reci)</text>
<polygon points="409.2,409.16 407.28,405.64 411.12,405.64" fill="#ff20ff"/>
<text x="418.4" y="409.44" font-family="'Liberation Sans', Arial, sans-serif" font-size="6" fill="#222" text-anchor="start" >0.5 wt % EC-CNT (Uni)</text>
<polygon points="409.2,413.34 411.28,415.42 409.2,417.5 407.12,415.42" fill="#008a00"/>
<text x="418.4" y="417.62" font-family="'Liberation Sans', Arial, sans-serif" font-size="6" fill="#222" text-anchor="start" >1 wt % EC-CNT (Reci)</text>
<polygon points="407.28,423.6 410.8,421.68 410.8,425.52" fill="#000080"/>
<text x="418.4" y="425.8" font-family="'Liberation Sans', Arial, sans-serif" font-size="6" fill="#222" text-anchor="start" >1 wt % EC-CNT (Uni)</text>
<polygon points="411.12,431.78 407.6,429.86 407.6,433.7" fill="#9a20f0"/>
<text x="418.4" y="433.98" font-family="'Liberation Sans', Arial, sans-serif" font-size="6" fill="#222" text-anchor="start" >1.5 wt % EC-CNT (Reci)</text>
<circle cx="409.2" cy="439.96" r="1.68" fill="#800080" stroke="none" stroke-width="1" />
<text x="418.4" y="442.16" font-family="'Liberation Sans', Arial, sans-serif" font-size="6" fill="#222" text-anchor="start" >1.5 wt % EC-CNT (Uni)</text>
<text x="365.4" y="383" font-family="'Liberation Serif', 'Times New Roman', serif" font-size="14" fill="#000" text-anchor="start" stroke="#000" stroke-width="0.25">(f)</text>
<text x="455.5" y="540.6" font-family="'Liberation Serif', 'Times New Roman', serif" font-size="6.8" fill="#222" text-anchor="middle" >Temperature (<tspan font-size="4" dy="-2.5">o</tspan><tspan dy="2.5">C)</tspan></text>
<text x="345.2" y="448.7" font-family="'Liberation Serif', 'Times New Roman', serif" font-size="7" fill="#222" text-anchor="middle" transform="rotate(-90 345.2 448.7)" >Average Coefficient of Friction</text>
<rect x="2" y="2" width="546.5" height="3.5" fill="#0595ea" stroke="none" stroke-width="1" />
<rect x="2" y="544.8" width="546.5" height="3.5" fill="#0595ea" stroke="none" stroke-width="1" />
<rect x="2" y="2" width="3.5" height="546.3" fill="#0595ea" stroke="none" stroke-width="1" />
<rect x="545" y="2" width="3.5" height="546.3" fill="#0595ea" stroke="none" stroke-width="1" />
<rect x="2" y="173" width="546.5" height="3.5" fill="#0595ea" stroke="none" stroke-width="1" />
<rect x="2" y="357" width="546.5" height="3.7" fill="#0595ea" stroke="none" stroke-width="1" />
<rect x="335.9" y="357" width="3" height="191" fill="#0595ea" stroke="none" stroke-width="1" />
</svg>
</body></html>
